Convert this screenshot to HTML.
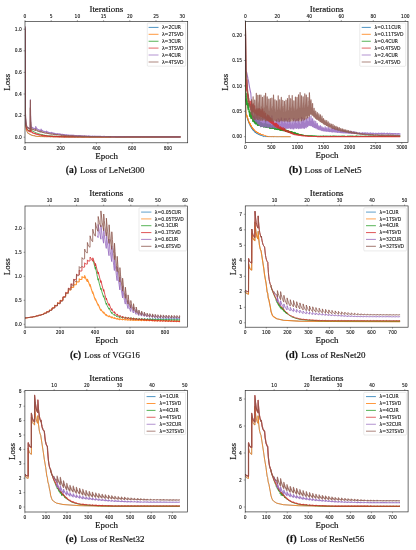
<!DOCTYPE html>
<html lang="en"><head><meta charset="utf-8"><title>Loss curves</title>
<style>html,body{margin:0;padding:0;background:#fff}body{width:416px;height:550px;overflow:hidden;position:relative}svg{display:block;position:absolute;left:0;top:0}.ov{position:absolute;left:0;top:0;width:4160px;height:5500px;transform:scale(.1);transform-origin:0 0;font-family:"DejaVu Sans","Liberation Sans",sans-serif;color:#1a1a1a}.ov span{position:absolute;white-space:nowrap;line-height:1;-webkit-text-stroke:1.3px #1a1a1a}.t{font-size:44.0px}.l{font-size:45.5px}.m{transform:translateX(-50%)}.r{transform:translateX(-100%)}</style></head>
<body>
<svg width="416" height="550" viewBox="0 0 416 550">
<rect width="416" height="550" fill="#fff"/>
<clipPath id="ca"><rect x="25.00" y="21.40" width="162.70" height="121.40"/></clipPath>
<g clip-path="url(#ca)" fill="none" stroke-linejoin="round" stroke-linecap="butt">
<polyline stroke="#1f77b4" stroke-width="0.48" stroke-opacity="1.00" points="25.0,29.5 25.2,91.6 25.4,112.3 25.6,122.6 26.0,127.2 26.3,129.6 26.7,130.9 26.8,130.9 27.0,131.5 27.1,131.5 27.2,132.1 27.3,132.2 27.4,132.5 27.5,132.3 27.7,132.7 27.8,132.7 27.9,133.0 27.9,132.9 28.0,133.2 28.1,133.2 28.2,133.3 28.3,133.2 28.4,133.2 28.5,133.5 28.6,133.5 28.7,133.6 28.8,133.6 29.0,134.0 29.2,133.8 29.4,134.2 29.5,134.0 29.6,134.2 29.9,134.5 30.0,134.6 30.1,134.5 30.2,134.6 30.3,134.5 30.4,134.9 30.6,134.7 30.7,134.9 30.9,135.0 31.1,135.0 31.2,135.1 31.3,134.9 31.3,135.1 31.6,135.1 31.7,135.2 31.9,135.2 32.1,135.5 32.1,135.3 32.2,135.3 32.4,135.5 32.7,135.5 32.8,135.5 32.9,135.5 33.4,135.8 33.5,135.7 33.6,135.6 33.8,135.8 33.9,135.9 34.0,135.8 34.1,135.8 34.2,136.0 34.3,135.9 34.4,135.9 34.5,135.8 34.6,135.9 34.6,135.8 34.7,136.0 35.0,135.9 35.2,136.1 35.3,136.0 35.5,136.1 35.6,136.0 35.8,136.2 35.9,136.1 36.1,136.2 36.2,136.1 36.4,136.1 36.6,136.3 36.9,136.2 37.1,136.4 37.1,136.3 37.3,136.4 37.4,136.3 37.5,136.4 37.6,136.3 37.8,136.4 38.2,136.4 38.3,136.5 38.4,136.4 38.5,136.5 38.7,136.4 38.8,136.3 38.9,136.5 39.0,136.4 39.2,136.4 39.3,136.5 39.5,136.4 39.6,136.6 39.7,136.4 39.8,136.5 39.9,136.5 40.0,136.6 40.4,136.5 40.4,136.5 40.5,136.6 40.7,136.5 40.9,136.6 41.0,136.5 41.1,136.6 41.3,136.5 41.5,136.7 41.7,136.6 41.8,136.6 41.9,136.5 42.1,136.7 42.1,136.6 42.3,136.8 42.4,136.5 42.5,136.8 42.6,136.6 42.7,136.6 42.9,136.8 42.9,136.6 43.0,136.7 43.3,136.6 43.5,136.6 43.8,136.8 43.9,136.7 44.2,136.7 44.6,136.7 44.7,136.6 44.8,136.7 45.0,136.8 45.2,136.7 45.3,136.8 45.4,136.7 45.6,136.8 45.7,136.7 45.8,136.7 46.1,136.7 46.2,136.8 46.4,136.8 46.5,136.9 46.6,136.7 46.7,136.8 46.8,136.7 46.9,136.8 47.0,136.7 47.1,136.8 47.1,136.8 47.2,136.9 47.3,136.8 47.8,136.7 48.0,136.8 48.2,136.7 48.3,136.7 48.4,136.9 48.6,136.7 48.8,136.8 48.8,136.8 48.9,136.8 49.0,136.8 49.1,136.8 49.2,136.7 49.4,136.9 49.6,136.8 49.8,136.9 49.9,136.8 50.1,136.9 50.4,136.8 50.7,136.9 50.8,136.8 51.0,136.8 51.1,136.8 51.2,136.9 51.4,136.7 51.5,136.8 51.6,136.8 51.7,136.9 51.8,136.8 52.0,136.9 52.1,136.8 52.3,136.9 52.4,136.8 52.5,136.9 52.8,136.9 52.9,136.8 53.0,136.9 53.1,136.9 53.2,136.7 53.3,136.9 53.6,136.8 53.8,136.9 53.9,136.8 54.1,137.0 54.2,136.8 54.7,137.0 54.8,136.9 54.9,137.0 55.0,136.9 55.1,137.0 55.4,136.8 55.5,136.9 55.5,137.0 56.1,136.8 56.2,136.9 56.3,136.8 56.5,137.0 56.6,136.9 56.7,136.9 56.8,137.0 56.9,136.9 57.1,136.9 57.2,136.9 57.3,136.9 57.6,136.9 57.8,136.9 58.0,137.0 58.0,136.9 58.1,137.0 58.3,136.8 58.6,137.0 58.7,136.9 58.8,136.9 58.9,136.9 59.2,137.0 59.3,137.1 59.5,136.9 59.9,136.9 60.2,137.0 60.3,136.9 60.4,136.9 60.5,136.9 60.7,136.9 60.8,136.9 60.9,137.0 61.0,136.9 61.1,136.9 61.2,137.0 61.3,136.9 61.3,137.0 61.7,136.9 61.9,137.0 62.1,136.9 62.2,137.0 62.3,136.9 62.4,137.1 62.5,137.0 62.6,137.0 62.7,136.9 63.0,137.0 63.1,136.9 63.4,137.0 63.5,136.9 63.8,137.0 63.9,136.9 64.3,137.0 64.5,136.9 64.6,137.0 64.6,136.9 64.7,137.0 65.0,136.9 65.1,137.1 65.2,137.0 65.5,137.0 65.7,136.9 65.8,137.1 66.0,136.9 66.3,137.0 66.5,136.9 66.7,137.0 67.0,136.9 67.3,137.0 67.5,136.9 67.6,137.0 67.7,136.9 67.8,137.0 67.9,136.9 68.3,137.0 68.8,137.0 68.9,136.9 69.1,137.0 69.3,136.9 69.5,137.0 69.7,136.9 69.7,137.0 69.8,137.0 70.0,137.0 70.1,137.0 70.2,137.0 70.4,136.9 70.6,137.0 70.8,137.0 70.9,136.9 71.2,137.0 71.4,137.0 71.5,136.9 71.6,137.0 71.9,136.9 72.1,137.0 72.3,137.0 72.6,137.0 72.7,137.0 72.8,137.0 72.9,136.9 73.0,137.0 73.4,136.9 73.6,137.0 73.7,137.0 74.1,137.0 74.2,137.0 74.5,137.0 74.7,137.0 74.7,137.0 75.0,136.9 75.3,137.0 75.4,136.9 75.5,137.0 75.9,137.0 76.2,136.9 76.3,137.0 76.5,136.9 76.9,137.0 77.0,136.9 77.3,137.0 77.5,136.9 78.1,137.0 78.4,136.9 78.8,137.0 79.2,136.9 79.3,137.0 79.4,136.9 79.7,137.0 79.7,137.0 79.8,137.0 79.9,137.0 80.5,137.0 80.6,137.0 80.8,137.0 81.1,137.0 81.2,136.9 81.9,137.0 82.1,137.0 82.3,137.0 83.1,137.0 83.2,137.0 83.4,136.9 83.7,137.0 83.8,136.9 83.8,137.1 84.1,136.9 84.4,137.0 84.5,137.0 84.7,137.0 85.0,137.0 85.3,137.0 85.6,137.0 85.8,137.0 85.9,137.0 86.2,137.1 86.3,137.0 86.4,137.0 86.5,137.0 86.8,137.0 86.9,137.0 87.2,137.0 87.2,137.0 87.7,137.0 87.8,137.0 87.9,137.0 88.3,137.0 88.5,137.0 88.7,136.9 89.0,137.0 89.2,137.0 89.3,137.0 89.7,137.0 89.7,137.0 89.9,137.0 90.3,137.1 90.4,137.0 91.1,137.0 91.2,137.0 91.3,137.0 91.4,137.1 91.7,136.9 91.9,137.0 92.0,136.9 92.2,137.0 92.4,137.0 93.2,137.0 93.4,137.0 93.7,137.0 94.1,137.0 94.2,137.0 94.7,137.0 94.8,137.0 95.1,137.0 95.6,137.0 96.6,137.0 96.7,137.0 98.0,137.0 98.3,137.0 98.4,137.0 98.5,137.0 98.8,137.0 99.0,137.0 99.7,137.0 99.7,137.0 99.9,137.0 100.3,137.0 100.5,137.0 100.6,137.0 100.8,137.0 100.9,137.0 101.1,137.0 101.4,137.0 101.8,137.0 102.5,137.0 102.6,137.0 103.0,137.0 103.3,137.0 103.5,137.0 104.0,137.0 104.3,137.0 105.0,137.0 105.2,137.0 105.3,137.0 105.4,137.0 106.1,137.0 106.3,137.0 106.8,137.0 107.2,137.0 107.7,137.0 109.3,137.0 109.7,137.0 109.8,137.0 111.9,137.0 113.0,137.0 113.3,137.0 113.7,137.0 115.5,137.0 115.7,137.0 115.8,137.0 115.9,137.0 116.2,137.0 117.3,137.0 118.2,137.0 120.2,137.0 120.3,137.0 120.6,137.0 121.1,137.0 121.2,137.0 123.2,137.0 123.5,137.0 123.6,137.0 126.0,137.0 126.3,137.0 128.1,137.0 128.1,137.0 129.5,137.0 129.6,137.0 130.6,137.0 130.7,137.0 132.0,137.0 180.5,137.0"/>
<polyline stroke="#ff7f0e" stroke-width="0.80" stroke-opacity="1.00" points="25.0,30.1 25.2,92.0 25.4,112.6 25.6,122.9 25.8,125.8 26.0,127.5 26.4,130.1 26.9,131.5 27.1,131.7 27.1,132.0 27.2,132.0 27.5,132.5 27.9,132.9 27.9,133.1 28.1,133.1 28.2,133.4 28.3,133.2 28.6,133.6 28.7,133.5 28.8,133.7 28.8,133.6 29.0,134.0 29.1,133.8 29.3,134.1 29.6,134.2 29.9,134.5 30.3,134.4 30.4,134.7 30.4,134.6 31.0,134.9 31.3,134.9 31.4,135.1 31.5,135.1 31.6,135.2 31.7,135.1 31.8,135.2 31.9,135.2 32.0,135.3 32.2,135.2 32.3,135.4 32.4,135.3 32.5,135.6 32.9,135.5 33.0,135.7 33.1,135.5 33.2,135.7 33.3,135.5 33.4,135.6 33.6,135.7 33.8,135.8 33.9,135.7 34.2,135.8 34.3,135.8 34.4,135.9 34.5,135.6 34.6,135.9 34.8,135.8 35.0,136.1 35.3,136.1 35.4,136.0 35.5,136.0 35.6,136.1 35.9,136.0 36.1,136.2 36.3,136.1 36.3,136.2 36.4,136.0 36.5,136.1 36.7,136.3 37.0,136.2 37.1,136.4 37.1,136.1 37.2,136.1 37.4,136.4 37.7,136.2 37.9,136.5 38.0,136.3 38.1,136.3 38.2,136.4 38.4,136.4 38.6,136.5 38.7,136.4 38.8,136.5 38.8,136.3 38.9,136.5 39.0,136.4 39.1,136.5 39.2,136.4 39.3,136.5 39.4,136.4 39.6,136.6 39.6,136.5 40.0,136.6 40.1,136.5 40.3,136.5 40.4,136.4 40.4,136.5 40.6,136.5 40.8,136.6 41.0,136.5 41.1,136.8 41.2,136.6 41.3,136.6 41.4,136.5 41.5,136.6 41.6,136.6 41.7,136.6 41.9,136.6 42.0,136.7 42.1,136.6 42.1,136.7 42.3,136.6 42.6,136.7 42.7,136.5 42.8,136.7 42.9,136.7 42.9,136.6 43.0,136.7 43.2,136.6 43.4,136.7 43.5,136.6 43.6,136.7 43.8,136.7 43.9,136.7 44.1,136.8 44.2,136.7 44.4,136.8 44.6,136.7 44.6,136.7 44.8,136.6 44.9,136.7 45.1,136.8 45.4,136.7 45.4,136.8 45.5,136.7 45.7,136.6 45.8,136.8 46.0,136.9 46.1,136.8 46.4,136.9 46.5,136.8 46.7,136.7 46.8,136.8 46.9,136.7 47.0,136.7 47.1,136.9 47.1,136.8 47.2,136.9 47.5,136.8 47.7,136.7 47.9,136.8 48.1,136.8 48.2,136.9 48.3,136.8 48.4,136.8 48.7,136.7 48.9,136.9 49.0,136.9 49.2,136.9 49.3,136.9 49.4,136.9 49.6,136.7 49.6,136.9 49.7,136.8 49.8,136.9 49.9,136.8 50.2,137.0 50.3,136.8 50.4,136.9 50.6,136.8 50.9,136.9 51.0,136.8 51.2,136.9 51.3,136.8 51.3,136.9 51.4,136.8 51.5,137.0 51.8,136.9 51.9,136.8 52.0,137.0 52.1,136.9 52.1,136.9 52.2,136.9 52.4,136.9 52.5,136.8 52.6,136.9 52.7,136.8 52.8,137.0 53.0,136.9 53.2,136.9 53.3,137.1 53.4,136.9 53.6,136.9 53.8,136.8 53.8,136.9 54.4,136.9 54.6,136.8 54.6,136.9 54.7,136.8 54.8,137.0 54.9,136.9 55.1,136.9 55.2,137.0 55.4,137.0 55.5,136.8 55.7,137.0 55.8,136.9 56.2,137.0 56.5,136.9 56.6,137.0 56.7,136.9 56.8,136.9 57.0,136.9 57.1,136.9 57.5,136.9 57.7,137.0 57.8,136.8 57.9,136.9 58.0,136.9 58.1,137.0 58.3,136.9 58.7,136.9 59.1,137.0 59.2,136.9 59.3,137.0 59.5,136.9 59.6,137.1 59.6,136.9 60.0,137.0 60.3,136.9 60.5,137.0 60.5,136.9 61.1,137.0 61.2,136.8 61.3,137.0 61.3,137.0 61.5,136.9 61.7,137.1 61.8,136.9 62.2,137.0 62.3,136.9 62.4,137.0 62.7,136.9 62.9,137.1 63.0,136.9 63.0,137.0 63.3,136.9 63.5,137.1 63.7,137.0 63.8,137.0 63.9,136.9 64.0,137.0 64.1,136.9 64.3,137.0 64.6,137.0 64.7,137.0 65.1,137.0 65.2,136.9 65.4,137.0 65.5,136.9 65.8,137.0 66.1,137.0 66.2,137.1 66.3,137.0 66.4,137.1 67.0,136.9 67.1,137.0 67.2,136.9 67.5,137.0 67.6,137.0 67.7,137.1 67.8,137.0 67.9,137.1 68.0,137.0 68.1,137.0 68.2,136.9 68.5,137.0 68.8,136.9 69.0,137.0 69.2,136.9 69.6,136.9 69.7,137.1 69.7,136.9 70.0,137.0 70.2,137.0 70.3,137.1 70.4,137.0 70.5,136.9 70.7,137.0 71.1,137.0 71.3,137.0 71.6,137.0 71.7,137.1 71.9,137.0 72.2,137.0 72.4,136.9 72.6,137.1 72.8,137.0 73.0,137.1 73.1,136.9 73.2,137.0 73.3,137.0 73.5,137.1 73.8,137.0 73.8,137.0 74.1,137.1 74.3,137.0 74.5,137.0 74.6,137.0 74.9,137.0 75.1,137.0 75.2,137.0 75.4,137.0 75.5,137.1 76.0,137.0 76.3,137.0 76.4,137.0 76.6,137.0 76.7,136.9 77.0,137.1 77.2,137.0 77.2,137.0 77.6,137.0 77.7,137.1 78.0,137.1 78.1,137.0 78.4,137.0 78.5,137.0 78.8,137.0 79.0,137.1 79.1,137.0 79.4,137.1 79.7,137.0 79.9,137.0 80.0,137.1 80.2,137.0 80.3,137.0 80.6,137.0 80.7,137.1 80.8,137.0 80.9,137.1 81.4,137.0 81.5,137.0 81.7,137.0 82.1,137.1 83.0,137.0 83.3,137.1 83.4,137.0 83.6,137.1 83.8,137.0 83.8,137.1 84.0,137.0 84.3,137.1 84.4,137.0 84.7,137.1 84.8,137.0 85.5,137.1 85.7,137.0 86.0,137.0 86.3,137.0 86.4,137.1 86.8,137.0 86.9,137.1 87.0,137.0 87.3,137.0 87.4,137.0 87.9,137.0 88.7,137.0 88.9,137.1 89.0,137.0 89.1,137.1 89.4,137.0 89.6,137.1 89.7,137.0 89.9,137.1 90.1,137.0 90.2,137.1 90.5,137.0 90.5,137.1 90.9,137.0 91.0,137.1 91.3,137.0 91.8,137.0 92.0,137.0 92.1,137.1 92.4,137.0 93.2,137.1 94.2,137.0 94.4,137.0 94.5,137.0 95.1,137.1 95.2,137.0 95.3,137.1 96.0,137.0 96.2,137.0 97.3,137.0 97.8,137.1 98.0,137.0 98.1,137.1 98.2,137.0 98.4,137.1 98.5,137.0 99.9,137.1 100.0,137.0 100.2,137.1 100.7,137.0 101.1,137.1 101.2,137.0 101.5,137.1 102.0,137.1 102.1,137.0 102.2,137.1 103.2,137.0 103.3,137.1 104.0,137.1 105.1,137.0 106.1,137.1 106.4,137.0 106.7,137.1 107.8,137.0 108.0,137.1 108.1,137.0 108.3,137.0 109.1,137.0 110.0,137.1 110.3,137.0 110.4,137.1 111.4,137.0 111.5,137.0 111.6,137.1 113.3,137.0 113.4,137.1 113.6,137.0 113.7,137.0 114.6,137.0 115.0,137.1 115.3,137.0 116.0,137.1 117.9,137.0 118.0,137.1 118.1,137.0 120.6,137.1 121.3,137.0 121.4,137.1 121.9,137.0 125.7,137.1 125.8,137.0 126.1,137.1 126.6,137.0 127.0,137.1 127.2,137.0 129.3,137.1 129.6,137.0 129.7,137.1 134.6,137.0 141.4,137.1 145.6,137.0 146.9,137.1 180.5,137.0"/>
<polyline stroke="#2ca02c" stroke-width="0.80" stroke-opacity="1.00" points="25.0,28.2 25.2,90.0 25.4,110.5 25.5,118.4 25.8,123.1 26.0,124.9 26.3,126.8 26.6,127.7 26.7,128.1 27.0,128.7 27.1,128.9 27.2,129.0 27.4,129.5 27.5,129.4 27.6,129.4 27.8,129.7 27.9,129.7 27.9,129.9 28.0,129.8 28.2,130.1 28.3,130.0 28.5,130.3 28.6,130.2 28.8,130.6 28.8,130.3 28.9,130.6 29.1,130.6 29.2,130.5 29.3,130.7 29.4,130.7 29.5,130.8 29.6,130.8 29.6,131.0 29.7,131.0 29.9,131.1 30.1,131.1 30.3,131.3 30.4,107.9 30.5,119.6 30.7,125.2 31.0,128.6 31.3,129.9 31.3,129.8 31.6,130.4 31.8,130.5 31.9,130.5 32.1,130.6 32.2,130.9 32.5,130.9 32.6,131.1 32.7,131.1 32.9,131.2 33.0,131.1 33.1,131.3 33.2,131.2 33.4,131.5 33.5,131.5 33.7,131.6 33.8,131.8 33.8,131.7 33.9,131.8 34.0,131.7 34.3,132.0 34.4,132.0 34.6,132.1 34.6,132.0 34.7,132.2 34.9,132.2 35.0,132.3 35.3,132.4 35.8,132.7 36.0,132.6 36.1,132.8 36.3,132.9 36.4,132.8 36.5,133.0 36.6,133.0 36.7,133.2 36.8,133.1 36.9,133.1 37.1,133.3 37.1,133.2 37.2,133.2 37.3,133.1 37.4,133.3 37.7,133.4 37.8,133.5 37.9,133.4 38.0,133.5 38.6,133.7 39.0,133.9 39.3,133.9 39.4,133.9 39.5,134.2 39.7,133.9 39.9,134.1 40.1,134.2 40.2,134.1 40.4,134.3 40.4,134.2 40.5,134.2 40.6,134.4 40.8,134.3 40.9,134.3 41.0,134.5 41.2,134.4 41.3,134.5 41.5,134.5 41.7,134.6 41.8,134.4 42.0,134.7 42.1,134.7 42.1,134.8 42.4,134.6 42.5,134.7 42.7,134.7 42.9,134.9 42.9,134.8 43.0,134.8 43.1,134.8 43.3,135.0 43.7,135.0 43.8,135.1 43.9,134.9 44.2,135.1 44.6,135.2 44.6,135.1 44.8,135.2 44.9,135.3 45.1,135.1 45.3,135.3 45.4,135.1 45.5,135.3 45.6,135.3 45.7,135.4 45.9,135.3 46.1,135.5 46.2,135.4 46.3,135.4 46.3,135.5 46.5,135.4 46.9,135.5 47.1,135.5 47.2,135.7 47.5,135.6 47.6,135.6 47.7,135.6 47.9,135.7 48.0,135.6 48.2,135.8 48.3,135.7 48.8,135.7 48.9,135.7 49.2,135.9 49.3,135.8 49.4,135.8 49.5,135.7 49.6,135.9 49.7,135.8 49.8,135.9 50.0,135.8 50.1,135.9 50.2,135.9 50.3,136.0 50.5,135.8 50.5,135.9 50.6,135.9 50.7,136.0 50.8,135.9 50.9,136.0 51.3,136.1 51.5,136.0 52.0,136.1 52.2,136.0 52.5,136.1 52.6,136.1 52.7,136.1 53.0,136.2 53.1,136.1 53.3,136.2 53.8,136.2 54.0,136.3 54.1,136.2 54.2,136.2 54.3,136.3 54.4,136.3 54.6,136.3 54.6,136.2 55.0,136.4 55.2,136.3 55.4,136.4 55.6,136.3 56.0,136.3 56.1,136.3 56.2,136.4 56.3,136.3 56.3,136.4 56.4,136.3 56.9,136.4 57.1,136.3 57.1,136.5 57.2,136.3 57.3,136.4 57.4,136.4 57.5,136.5 57.7,136.4 57.8,136.4 57.9,136.3 58.0,136.4 58.3,136.5 58.5,136.4 58.7,136.5 58.8,136.5 58.9,136.5 59.1,136.5 59.3,136.4 59.5,136.5 59.6,136.5 59.7,136.5 59.9,136.4 60.0,136.6 60.1,136.5 60.2,136.5 60.8,136.5 60.9,136.6 61.1,136.5 61.3,136.6 61.4,136.5 61.6,136.5 61.7,136.6 62.0,136.6 62.1,136.7 62.3,136.6 62.4,136.5 62.5,136.6 62.7,136.6 62.8,136.6 62.9,136.6 63.0,136.6 63.6,136.6 64.3,136.7 64.4,136.6 64.6,136.7 64.7,136.6 64.9,136.7 65.0,136.6 65.1,136.7 65.4,136.6 65.5,136.7 65.7,136.6 65.8,136.7 65.9,136.6 66.2,136.7 66.3,136.6 66.5,136.7 66.6,136.6 66.9,136.7 67.1,136.6 67.1,136.8 67.4,136.7 67.8,136.7 68.0,136.6 68.0,136.7 68.1,136.7 68.2,136.7 68.3,136.7 68.4,136.7 68.9,136.8 69.0,136.7 69.4,136.8 69.5,136.7 70.2,136.7 70.4,136.7 70.5,136.8 71.0,136.7 71.3,136.8 71.3,136.7 71.5,136.8 71.8,136.8 71.9,136.7 72.0,136.8 72.1,136.7 72.2,136.8 72.4,136.7 72.7,136.9 72.8,136.8 72.9,136.8 73.0,136.7 73.1,136.8 73.6,136.7 73.9,136.8 74.3,136.8 74.5,136.8 74.7,136.8 74.8,136.9 75.1,136.8 75.3,136.8 75.4,136.8 75.5,136.8 76.1,136.8 76.3,136.8 76.3,136.9 76.5,136.8 76.7,136.9 76.9,136.8 77.2,136.9 77.7,136.8 77.9,136.9 78.0,136.8 78.1,136.9 78.2,136.8 78.6,136.9 78.8,136.8 78.9,136.9 79.0,136.8 79.1,136.9 79.5,136.8 79.7,136.9 79.7,136.8 80.2,136.8 80.4,136.8 80.6,136.9 80.7,136.8 80.8,136.9 80.9,136.8 81.3,136.9 81.4,136.8 81.5,136.9 82.0,136.8 82.3,136.9 82.4,136.8 82.5,136.9 82.9,136.8 83.3,136.9 83.4,136.8 83.7,136.9 83.8,136.8 84.3,136.9 84.7,136.8 84.9,136.9 85.0,136.8 85.1,136.9 85.5,136.8 85.7,136.9 85.8,136.8 86.2,136.9 86.3,136.8 86.8,136.9 86.9,136.8 87.1,136.9 87.2,136.8 87.2,136.9 87.7,136.8 87.9,136.9 88.1,136.8 88.5,136.9 89.0,136.8 89.3,136.9 89.4,136.8 89.5,136.9 89.7,136.8 89.7,136.9 89.9,136.8 90.0,136.9 90.3,136.8 90.5,136.9 90.7,136.9 90.8,136.9 91.0,136.8 91.8,136.9 92.4,136.8 92.5,136.9 92.7,136.8 93.1,136.9 93.5,136.8 93.8,136.9 94.7,136.8 95.0,136.9 95.4,136.8 95.7,136.9 96.2,136.8 96.4,136.9 96.6,136.8 97.2,136.9 97.2,136.8 97.3,136.9 97.6,136.8 98.1,136.9 98.9,136.8 99.0,136.9 99.7,136.8 99.9,136.9 100.1,136.8 100.2,136.9 100.7,136.8 101.2,136.9 101.7,136.8 102.9,136.9 103.0,136.9 103.4,136.9 103.5,136.8 103.6,136.9 104.5,136.8 105.7,136.9 106.2,136.9 106.8,136.8 106.9,136.9 107.7,136.9 108.0,136.9 108.2,136.8 108.3,136.9 108.9,136.9 109.2,136.9 109.3,136.8 110.2,136.9 110.5,136.8 110.9,136.9 111.0,136.8 111.8,136.9 112.5,136.8 112.8,136.9 114.6,136.9 114.7,136.9 115.2,136.9 115.3,136.9 115.6,136.9 116.6,136.9 116.9,136.8 117.2,136.9 117.2,136.9 119.2,136.9 122.2,136.9 122.7,136.9 123.1,136.9 126.2,136.9 128.9,136.8 129.0,136.9 130.6,136.9 130.6,136.9 131.4,136.9 131.5,136.9 131.6,136.9 137.6,136.9 139.1,136.9 139.5,136.9 139.7,136.9 141.1,136.9 141.2,136.8 142.3,136.9 142.5,136.9 142.7,136.9 143.2,136.9 180.5,136.9"/>
<polyline stroke="#d62728" stroke-width="1.15" stroke-opacity="0.85" points="25.0,28.8 25.2,90.6 25.4,111.2 25.5,118.9 25.6,121.2 25.9,124.7 26.1,126.2 26.3,127.6 26.6,128.6 27.0,129.3 27.1,129.3 27.1,129.5 27.6,130.1 27.7,130.3 28.3,130.6 28.5,131.0 28.6,130.8 28.7,130.8 28.9,131.2 29.0,131.1 29.2,131.4 29.3,131.3 29.4,131.3 29.6,131.5 29.7,131.4 29.9,131.7 30.2,131.7 30.3,131.9 30.4,107.8 30.5,120.6 30.7,126.6 31.0,130.2 31.1,130.8 31.4,131.9 31.7,132.2 31.9,132.1 32.0,132.3 32.3,132.5 32.4,132.6 32.6,132.6 32.8,132.9 32.9,132.7 33.1,133.0 33.2,133.2 33.3,133.1 33.5,133.0 33.7,133.2 34.1,133.3 34.2,133.5 34.3,133.4 34.5,133.5 34.6,133.5 34.8,133.7 34.9,133.6 35.1,133.6 35.3,133.7 35.4,133.9 35.5,133.9 35.6,133.7 35.7,134.0 35.8,134.0 35.9,134.0 36.0,133.9 36.1,134.1 36.2,134.0 36.3,134.1 36.3,134.0 36.4,134.2 36.6,134.2 36.8,134.3 36.9,134.2 37.0,134.4 37.2,134.3 37.4,134.5 37.5,134.5 37.8,134.4 37.9,134.5 38.0,134.6 38.1,134.6 38.3,134.6 38.5,134.7 38.7,134.6 38.8,134.8 39.1,134.7 39.2,134.9 39.3,134.8 39.5,135.1 39.6,134.9 39.7,135.1 39.8,135.0 40.2,135.0 40.4,135.1 40.5,135.1 40.6,135.2 40.7,135.1 41.1,135.3 41.2,135.2 41.3,135.3 41.3,135.2 41.4,135.5 41.7,135.3 41.9,135.4 42.0,135.4 42.1,135.4 42.3,135.4 42.4,135.6 42.6,135.5 42.8,135.6 42.9,135.5 43.1,135.5 43.2,135.6 43.3,135.5 43.4,135.6 43.6,135.6 43.7,135.8 43.8,135.8 43.9,135.6 44.3,135.8 44.4,135.7 44.7,135.8 44.8,135.7 44.9,135.8 45.0,135.7 45.2,135.9 45.4,135.7 45.4,136.0 45.8,135.9 45.9,135.8 46.0,135.9 46.1,135.9 46.3,136.0 46.6,135.9 46.7,136.0 46.8,136.0 46.9,136.1 47.0,135.9 47.1,136.1 47.2,136.0 47.4,136.1 47.5,136.0 47.6,136.1 47.7,136.0 47.8,136.2 47.9,136.1 48.1,136.1 48.2,136.2 48.4,136.1 48.5,136.2 48.8,136.2 48.9,136.3 49.0,136.2 49.2,136.2 49.6,136.3 49.7,136.3 49.8,136.2 50.1,136.3 50.3,136.3 50.4,136.3 50.5,136.3 50.6,136.4 50.8,136.4 50.9,136.3 51.3,136.4 51.5,136.3 51.7,136.4 51.9,136.3 52.0,136.4 52.1,136.4 52.1,136.4 52.6,136.4 52.7,136.5 52.9,136.5 53.0,136.4 53.2,136.6 53.3,136.4 53.5,136.5 53.8,136.5 54.1,136.6 54.3,136.4 54.6,136.6 54.6,136.5 54.7,136.5 54.9,136.4 55.2,136.6 55.3,136.5 55.4,136.6 55.5,136.5 55.5,136.6 55.6,136.5 55.7,136.6 55.8,136.5 55.9,136.6 56.0,136.5 56.1,136.6 56.2,136.5 56.3,136.7 56.5,136.6 56.6,136.6 56.7,136.5 56.8,136.6 57.1,136.5 57.3,136.7 57.4,136.5 57.6,136.7 58.0,136.6 58.2,136.7 58.5,136.6 58.6,136.7 58.8,136.6 59.0,136.8 59.2,136.6 59.4,136.7 59.5,136.6 59.6,136.7 59.6,136.6 59.9,136.8 60.1,136.6 60.2,136.7 60.5,136.7 60.9,136.7 61.2,136.7 61.4,136.8 61.6,136.6 61.8,136.8 61.9,136.7 62.0,136.7 62.1,136.7 62.4,136.7 62.5,136.7 62.6,136.7 62.7,136.7 62.8,136.8 63.0,136.8 63.0,136.7 63.1,136.8 63.3,136.7 63.6,136.8 64.0,136.7 64.1,136.8 64.2,136.8 64.5,136.8 64.6,136.7 64.8,136.9 65.0,136.7 65.1,136.8 65.2,136.7 65.3,136.8 65.4,136.7 65.5,136.8 65.7,136.7 65.9,136.8 66.0,136.8 66.2,136.8 66.3,136.8 66.3,136.8 66.5,136.8 66.7,136.7 67.1,136.8 67.1,136.7 67.3,136.8 67.7,136.8 67.8,136.9 67.9,136.8 68.0,136.8 68.1,136.8 68.2,136.8 68.4,136.8 68.5,136.7 68.7,136.8 68.8,136.8 69.2,136.8 69.6,136.8 69.7,136.7 69.7,136.8 69.8,136.8 70.0,136.9 70.3,136.8 70.8,136.9 70.9,136.8 71.1,136.8 71.3,136.9 71.4,136.8 71.7,136.8 71.8,136.8 71.9,136.8 72.0,136.9 72.1,136.8 72.2,136.9 72.2,136.8 72.3,136.9 72.5,136.8 72.6,136.8 72.8,136.8 72.9,136.9 73.0,136.8 73.2,136.8 73.3,136.7 73.6,136.9 73.8,136.8 73.9,136.8 74.0,136.9 74.1,136.8 74.2,136.9 74.3,136.8 74.6,136.9 74.7,136.8 74.8,136.7 75.1,136.9 75.3,136.8 75.4,136.9 75.5,136.8 75.7,136.9 75.9,136.8 76.0,136.8 76.2,136.8 76.3,136.9 76.7,136.8 76.8,136.9 76.9,136.8 77.1,136.9 77.2,136.8 77.4,136.9 77.6,136.8 78.0,136.9 78.1,136.8 78.2,136.9 78.3,136.8 78.5,136.8 78.6,136.9 78.7,136.8 79.0,136.9 79.1,136.8 79.5,136.8 79.6,136.9 79.8,136.8 80.1,136.9 80.4,136.8 80.5,136.9 80.5,136.8 81.0,136.9 81.1,136.8 81.2,137.0 81.3,136.8 81.7,136.9 82.5,136.8 82.8,136.9 83.0,136.9 83.1,136.9 83.2,136.8 83.5,136.9 83.6,136.8 83.9,136.9 84.8,136.9 85.1,136.9 85.3,136.9 85.5,136.9 85.6,136.8 85.7,136.9 85.9,136.9 86.0,136.8 86.1,136.9 86.3,136.8 86.5,136.9 86.7,136.8 87.2,136.9 87.4,136.8 87.6,136.9 88.0,136.8 88.0,136.9 88.1,136.8 88.4,136.9 88.6,136.8 88.9,136.9 89.6,136.8 90.4,136.9 90.5,136.8 91.2,136.9 92.1,136.8 92.2,136.9 92.8,136.9 93.2,136.9 93.3,136.9 93.9,136.8 93.9,136.9 94.0,136.8 94.2,136.9 95.4,136.8 95.5,136.9 95.5,136.8 95.8,136.9 95.9,136.8 96.3,136.9 96.4,136.8 96.6,136.9 96.7,136.8 96.8,136.9 97.2,136.9 97.2,136.9 97.6,136.9 97.7,136.8 98.0,136.9 98.2,136.9 99.3,136.9 99.4,136.8 99.6,136.9 100.2,136.9 100.3,136.8 100.5,136.9 102.1,136.9 102.2,136.9 102.4,136.9 102.6,136.9 102.8,136.9 102.9,136.9 103.6,136.8 104.0,136.9 104.9,136.8 105.0,136.9 105.6,136.8 106.8,136.9 107.3,136.9 108.3,136.9 109.3,136.8 109.4,136.9 109.7,136.9 110.1,136.8 110.2,136.9 110.5,136.8 110.6,136.9 110.8,136.9 111.1,136.9 111.5,136.9 112.7,136.9 114.3,136.9 114.4,136.9 114.8,136.8 115.1,136.9 117.0,136.8 117.9,136.9 118.0,136.8 118.1,136.9 118.7,136.9 119.7,136.9 120.3,136.8 120.4,136.9 121.2,136.9 121.4,136.9 122.8,136.9 126.0,136.8 128.2,136.9 128.3,136.9 128.5,136.9 129.1,136.9 132.3,136.9 132.4,136.9 133.0,136.8 133.2,136.9 139.6,136.9 142.3,136.9 143.4,136.9 145.6,136.9 146.4,136.9 148.1,136.9 153.0,136.9 180.5,136.9"/>
<polyline stroke="#9467bd" stroke-width="1.15" stroke-opacity="0.85" points="25.0,26.6 25.2,88.3 25.4,108.8 25.5,116.4 25.7,120.2 25.9,122.4 26.2,124.4 26.3,124.6 26.4,125.4 26.7,126.3 27.0,126.7 27.1,126.7 27.2,127.1 27.5,127.2 27.7,127.6 27.8,127.6 27.9,127.6 27.9,127.8 28.1,127.7 28.2,128.0 28.3,128.1 28.6,128.0 28.7,128.3 28.8,128.2 28.9,128.4 29.2,128.3 29.3,128.5 29.4,128.5 29.5,128.7 29.6,128.6 29.6,128.7 29.7,128.6 29.8,128.9 30.0,129.0 30.1,128.8 30.3,129.1 30.4,99.8 30.5,114.3 30.7,121.2 31.0,125.3 31.3,126.9 31.5,127.1 31.6,127.1 31.8,127.4 32.1,127.6 32.2,127.4 32.4,127.8 32.5,127.6 32.6,127.8 33.0,127.9 33.3,128.1 33.6,128.2 33.7,128.3 33.8,128.3 33.8,128.2 34.0,128.2 34.2,128.3 34.3,128.3 34.5,128.5 34.7,128.6 35.1,128.8 35.2,128.6 35.4,129.0 35.4,128.8 35.5,129.0 35.6,129.0 35.7,126.6 36.1,127.4 36.2,127.4 36.4,128.1 36.8,128.5 36.9,128.7 37.0,128.7 37.2,129.0 37.7,129.4 37.8,129.3 38.1,129.6 38.2,129.6 38.3,129.8 38.4,129.7 38.6,129.8 38.7,129.8 38.8,129.9 38.9,129.9 39.1,130.0 39.2,130.0 39.5,130.2 39.6,130.2 39.6,130.3 39.7,130.2 39.9,130.4 40.0,130.3 40.1,130.3 40.2,130.5 40.4,130.3 40.4,130.5 40.5,130.5 40.6,130.4 40.7,130.6 40.9,130.7 41.0,130.7 41.1,129.1 41.3,129.6 41.3,129.5 41.6,130.0 41.7,130.0 41.9,130.3 42.1,130.5 42.3,130.5 42.6,130.7 42.8,130.9 42.9,131.0 42.9,130.9 43.5,131.3 43.6,131.3 43.8,131.4 43.8,131.3 43.9,131.4 44.0,131.4 44.5,131.6 44.6,131.5 44.8,131.7 45.0,131.7 45.1,131.6 45.2,131.8 45.6,131.8 45.7,131.9 45.8,131.9 46.1,132.0 46.3,132.0 46.4,131.0 46.6,131.3 47.0,131.5 47.1,131.7 47.1,131.7 47.3,131.9 47.5,131.9 47.7,132.1 47.8,132.0 47.9,132.1 48.0,132.2 48.1,132.3 48.2,132.2 48.4,132.4 48.5,132.3 48.9,132.6 49.2,132.6 49.3,132.6 49.4,132.7 49.5,132.7 49.6,132.8 49.7,132.6 50.2,132.8 50.3,133.0 50.5,132.9 50.5,133.0 50.6,132.8 51.0,133.0 51.1,133.0 51.2,132.9 51.3,133.1 51.4,133.0 51.5,133.1 51.7,133.1 51.8,132.3 52.1,132.7 52.2,132.7 52.3,132.8 52.5,133.0 52.9,133.0 53.0,133.2 53.1,133.1 53.3,133.3 53.4,133.2 53.8,133.4 53.9,133.4 54.1,133.5 54.2,133.4 54.3,133.5 54.4,133.4 54.6,133.6 54.6,133.5 54.7,133.5 54.8,133.7 55.0,133.6 55.1,133.7 55.4,133.6 55.6,133.8 55.8,133.8 56.1,133.8 56.2,133.8 56.3,133.9 56.7,133.8 56.8,134.0 57.0,133.9 57.1,134.0 57.1,133.5 57.5,133.7 57.7,133.7 58.0,133.9 58.1,133.9 58.2,134.0 58.4,133.8 58.7,134.1 58.8,134.1 58.9,134.1 59.1,134.2 59.2,134.1 59.6,134.3 59.7,134.2 59.8,134.3 59.9,134.2 60.0,134.3 60.1,134.2 60.2,134.4 60.5,134.3 60.5,134.4 60.6,134.3 60.8,134.4 61.0,134.3 61.3,134.6 61.4,134.4 61.7,134.5 61.8,134.5 62.0,134.6 62.1,134.5 62.3,134.7 62.4,134.6 62.5,134.3 62.6,134.4 62.8,134.3 63.0,134.5 63.3,134.5 63.4,134.6 63.6,134.5 63.7,134.6 63.8,134.6 64.0,134.7 64.1,134.6 64.3,134.8 64.4,134.7 64.7,134.8 64.9,134.8 65.1,134.8 65.2,134.8 65.5,134.9 65.6,134.8 65.7,134.9 65.8,134.8 66.0,135.0 66.2,134.9 66.3,135.0 66.4,134.9 66.5,135.0 66.7,134.9 66.9,135.1 67.0,135.0 67.2,135.0 67.5,135.1 67.7,135.0 67.8,135.1 67.9,134.9 68.0,135.0 68.4,135.0 68.5,135.1 68.7,135.0 68.8,135.2 68.8,135.1 69.0,135.1 69.7,135.2 69.9,135.2 70.0,135.3 70.4,135.2 70.5,135.3 70.9,135.3 71.0,135.4 71.1,135.3 71.4,135.4 71.6,135.3 71.8,135.4 71.9,135.3 72.1,135.4 72.2,135.5 72.3,135.3 72.4,135.4 72.7,135.4 72.9,135.5 73.0,135.4 73.0,135.5 73.2,135.3 73.3,135.4 73.6,135.3 73.9,135.5 74.0,135.4 74.2,135.4 74.3,135.6 74.4,135.5 74.7,135.6 74.7,135.5 74.8,135.6 74.9,135.5 75.0,135.6 75.4,135.6 75.5,135.7 75.6,135.6 76.0,135.6 76.1,135.7 76.3,135.6 76.9,135.7 77.3,135.6 77.6,135.7 77.8,135.7 78.5,135.7 78.6,135.6 78.8,135.7 78.9,135.6 79.2,135.8 79.6,135.7 79.7,135.8 80.2,135.8 80.3,135.9 80.4,135.8 80.8,135.8 80.9,135.9 81.0,135.8 81.3,135.8 81.3,135.9 81.8,135.9 81.9,135.9 82.0,135.9 82.2,135.9 82.3,136.0 82.6,135.9 82.7,136.0 83.6,136.0 83.9,135.9 84.0,136.0 84.1,135.9 84.5,136.0 84.6,135.9 84.7,136.0 84.9,135.9 85.0,136.0 85.1,136.0 85.4,136.1 85.5,136.0 85.5,136.1 85.7,136.0 85.8,136.1 86.0,136.0 86.3,136.1 86.3,136.0 86.7,136.1 86.8,136.1 87.0,136.1 87.1,136.1 87.9,136.1 88.1,136.1 88.3,136.2 88.5,136.1 88.7,136.2 88.8,136.1 88.9,136.2 89.0,136.1 89.2,136.2 89.7,136.1 89.7,136.2 90.2,136.1 90.3,136.2 90.4,136.2 90.9,136.2 91.1,136.2 91.5,136.2 91.8,136.2 92.0,136.3 92.2,136.2 92.4,136.3 92.5,136.2 92.6,136.3 93.6,136.3 93.7,136.3 94.1,136.3 94.6,136.3 94.7,136.2 95.0,136.4 95.1,136.3 95.2,136.3 95.5,136.3 95.6,136.3 95.7,136.3 96.0,136.4 96.2,136.3 96.3,136.3 96.7,136.4 97.2,136.3 97.6,136.4 98.0,136.3 98.6,136.4 98.7,136.3 99.3,136.4 100.4,136.4 100.5,136.4 100.9,136.4 101.2,136.5 102.7,136.5 102.9,136.4 103.0,136.5 103.4,136.5 103.9,136.4 103.9,136.5 104.0,136.5 104.6,136.4 104.7,136.5 104.8,136.5 106.2,136.5 106.3,136.5 106.5,136.5 109.2,136.5 109.3,136.6 109.4,136.5 109.6,136.5 109.9,136.5 110.0,136.6 110.5,136.5 111.8,136.6 112.4,136.6 112.5,136.5 114.0,136.6 114.1,136.6 114.5,136.6 114.7,136.6 115.6,136.6 115.8,136.6 116.5,136.6 116.6,136.7 116.7,136.6 116.8,136.6 117.9,136.6 118.7,136.7 122.6,136.6 123.5,136.7 123.7,136.6 124.7,136.7 126.0,136.6 126.7,136.7 126.9,136.7 127.6,136.7 129.7,136.7 130.8,136.7 132.2,136.7 132.8,136.7 134.7,136.7 146.1,136.8 180.5,136.8"/>
<polyline stroke="#8c564b" stroke-width="1.15" stroke-opacity="0.85" points="25.0,26.6 25.2,88.5 25.4,108.7 25.5,116.8 25.8,121.6 26.3,124.9 26.9,126.7 27.1,126.7 27.1,127.1 27.3,127.2 27.4,127.4 27.7,127.5 27.8,127.7 27.9,127.7 27.9,127.6 28.2,128.1 28.4,128.0 28.7,128.3 29.0,128.4 29.1,128.5 29.3,128.7 29.5,128.7 29.7,128.8 29.9,129.0 30.0,128.9 30.2,129.1 30.3,128.8 30.4,100.3 30.5,115.3 30.7,122.4 31.0,126.6 31.3,128.2 31.5,128.6 31.9,129.0 32.3,129.0 32.4,129.3 32.5,129.2 32.6,129.3 32.7,129.2 32.9,129.4 32.9,129.3 33.0,129.4 33.2,129.4 33.4,129.6 33.5,129.5 33.8,129.7 34.0,129.9 34.1,129.9 34.2,130.0 34.3,129.9 34.4,130.0 34.5,130.0 34.6,130.1 34.6,130.0 34.7,130.1 34.8,130.0 35.0,130.0 35.2,130.3 35.3,130.2 35.4,130.1 35.4,130.3 35.5,130.2 35.6,130.4 35.7,129.1 36.1,129.7 36.2,129.7 36.5,130.0 36.6,130.0 36.8,130.3 37.0,130.4 37.1,130.4 37.1,130.6 37.2,130.5 37.4,130.9 37.5,130.7 37.7,130.9 37.9,130.9 37.9,130.8 38.1,131.1 38.3,131.1 38.6,131.3 38.8,131.3 38.9,131.4 39.1,131.4 39.4,131.6 39.5,131.4 39.6,131.6 39.6,131.5 39.7,131.6 39.8,131.5 39.9,131.7 40.0,131.7 40.1,131.9 40.2,131.7 40.4,131.8 40.5,131.7 41.0,132.1 41.1,131.1 41.2,131.4 41.3,131.3 41.5,131.6 41.6,131.7 41.7,131.6 41.8,131.8 42.0,132.0 42.1,131.9 42.1,132.0 42.2,132.0 42.5,132.3 42.6,132.1 42.8,132.3 43.0,132.3 43.1,132.5 43.2,132.5 43.3,132.3 43.6,132.5 43.8,132.6 43.9,132.7 44.1,132.7 44.3,132.8 44.4,132.8 44.5,132.9 44.9,132.8 45.1,133.0 45.2,133.0 45.4,133.1 45.6,133.0 45.8,133.2 45.9,133.1 46.0,133.2 46.1,133.1 46.2,133.3 46.3,133.1 46.3,133.2 46.4,132.6 46.5,132.8 46.6,132.8 47.1,133.1 47.1,133.0 47.2,133.1 47.3,133.1 47.4,133.3 47.5,133.1 47.7,133.3 47.8,133.3 48.0,133.5 48.0,133.3 48.1,133.5 48.3,133.4 48.4,133.5 48.5,133.5 48.7,133.6 48.8,133.5 48.9,133.6 49.0,133.6 49.1,133.7 49.2,133.6 49.3,133.7 49.8,133.7 50.1,133.9 50.2,133.8 50.4,133.9 50.5,133.9 50.6,134.0 50.7,134.0 51.0,134.0 51.1,134.1 51.2,134.0 51.4,134.2 51.5,134.0 51.7,134.2 51.8,133.8 52.1,134.0 52.5,134.0 52.7,134.2 52.9,134.1 53.0,134.2 53.1,134.2 53.2,134.3 53.3,134.3 53.4,134.3 53.5,134.2 54.1,134.5 54.5,134.4 54.6,134.6 54.8,134.4 54.9,134.6 55.0,134.6 55.4,134.6 55.5,134.6 55.5,134.6 55.6,134.7 55.8,134.6 56.4,134.8 56.5,134.7 56.6,134.8 56.8,134.7 56.9,134.8 57.1,134.7 57.1,134.5 57.2,134.5 57.3,134.7 57.5,134.6 57.7,134.7 57.8,134.6 58.0,134.9 58.0,134.8 58.1,134.9 58.2,134.8 58.6,134.9 58.7,134.8 58.8,135.0 59.0,135.0 59.1,134.9 59.3,135.0 59.4,135.0 59.9,135.1 60.1,135.1 60.2,135.2 60.4,135.1 60.5,135.2 60.6,135.1 60.7,135.2 61.3,135.2 61.3,135.3 61.4,135.2 61.5,135.3 61.8,135.3 61.9,135.4 62.0,135.2 62.1,135.3 62.1,135.3 62.4,135.3 62.5,135.2 63.2,135.3 63.3,135.4 63.4,135.3 63.5,135.4 63.9,135.4 64.1,135.5 64.4,135.5 64.5,135.4 64.6,135.5 64.7,135.5 65.3,135.6 65.4,135.5 65.5,135.5 65.5,135.5 65.7,135.6 65.8,135.5 65.9,135.6 66.0,135.6 66.2,135.7 66.4,135.6 67.1,135.7 67.2,135.7 67.5,135.7 67.7,135.7 67.8,135.8 67.9,135.5 68.0,135.7 68.4,135.7 68.7,135.6 68.8,135.8 68.9,135.7 69.6,135.8 69.7,135.8 69.9,135.9 70.0,135.9 70.1,135.8 70.5,135.9 70.5,135.9 70.6,135.9 70.8,135.9 70.9,135.9 71.6,135.9 71.9,136.0 72.1,135.9 72.2,136.0 72.3,135.9 72.4,136.1 72.5,136.0 72.7,135.9 73.1,136.0 73.2,135.9 73.4,135.9 73.5,136.0 73.7,136.0 73.9,136.0 74.1,136.0 74.3,136.1 74.8,136.0 74.9,136.1 75.2,136.1 75.5,136.1 76.0,136.1 76.3,136.2 76.8,136.1 77.1,136.2 77.2,136.1 77.6,136.2 77.9,136.3 78.0,136.2 78.3,136.2 78.5,136.3 78.7,136.1 79.2,136.3 79.3,136.2 79.4,136.3 79.5,136.2 79.8,136.3 80.0,136.2 80.2,136.3 80.3,136.2 80.4,136.3 80.6,136.2 80.9,136.4 81.2,136.3 81.3,136.4 81.3,136.3 82.3,136.4 82.4,136.3 82.6,136.4 83.0,136.3 83.1,136.3 83.2,136.4 83.3,136.4 83.4,136.4 83.5,136.4 83.8,136.4 83.9,136.3 84.0,136.4 84.3,136.3 84.4,136.4 84.7,136.4 84.7,136.4 85.2,136.4 85.3,136.4 85.5,136.4 85.9,136.5 86.2,136.4 86.3,136.5 86.5,136.4 86.7,136.5 86.9,136.4 87.0,136.5 87.7,136.5 88.0,136.5 88.2,136.4 88.3,136.5 88.8,136.5 89.0,136.6 89.3,136.5 89.5,136.5 89.6,136.5 90.0,136.6 90.3,136.5 90.8,136.5 90.9,136.6 91.1,136.5 91.3,136.6 91.6,136.5 91.7,136.6 92.1,136.5 92.2,136.6 92.5,136.6 92.6,136.6 92.8,136.5 93.0,136.6 93.7,136.6 93.8,136.6 94.5,136.6 94.7,136.6 95.1,136.6 95.5,136.6 95.7,136.6 96.4,136.6 96.5,136.6 96.8,136.7 97.2,136.6 97.2,136.7 97.7,136.6 98.0,136.7 98.3,136.6 98.5,136.7 98.6,136.6 99.3,136.7 99.5,136.6 100.4,136.7 100.5,136.6 100.9,136.7 101.2,136.6 101.3,136.7 102.3,136.7 102.4,136.7 102.6,136.7 103.0,136.7 103.4,136.7 103.6,136.7 104.7,136.7 105.0,136.7 105.1,136.7 105.5,136.7 105.7,136.8 106.2,136.7 106.5,136.8 106.9,136.7 107.0,136.8 107.8,136.7 108.0,136.8 108.7,136.7 108.8,136.8 108.9,136.7 109.0,136.8 109.1,136.7 109.3,136.8 109.5,136.7 109.7,136.8 110.2,136.7 110.3,136.8 110.4,136.7 110.5,136.8 110.8,136.7 110.9,136.8 111.4,136.7 112.0,136.8 112.9,136.7 113.9,136.8 114.4,136.7 114.7,136.8 115.1,136.7 115.3,136.8 116.2,136.8 116.4,136.8 116.7,136.8 117.2,136.8 117.2,136.8 118.1,136.8 118.4,136.8 118.5,136.8 118.6,136.8 119.1,136.8 119.3,136.8 119.7,136.8 120.6,136.8 120.9,136.8 121.1,136.8 121.5,136.8 126.9,136.9 127.0,136.8 128.4,136.8 128.7,136.8 130.9,136.9 133.1,136.8 137.7,136.9 139.0,136.8 180.5,136.9"/>
</g>
<rect x="25.00" y="21.40" width="162.70" height="121.40" fill="none" stroke="#222" stroke-width="0.65"/>
<path d="M25.00,142.80v1.40M60.72,142.80v1.40M96.44,142.80v1.40M132.16,142.80v1.40M167.88,142.80v1.40M25.00,137.20h-1.40M25.00,115.60h-1.40M25.00,94.00h-1.40M25.00,72.40h-1.40M25.00,50.80h-1.40M25.00,29.20h-1.40M25.00,21.40v-1.40M51.20,21.40v-1.40M77.40,21.40v-1.40M103.60,21.40v-1.40M129.80,21.40v-1.40M156.00,21.40v-1.40M182.20,21.40v-1.40" stroke="#222" stroke-width="0.4" fill="none"/>
<rect x="147.30" y="23.10" width="38.30" height="43.10" rx="0.8" fill="#fff" fill-opacity="0.8" stroke="#ccc" stroke-width="0.4"/>
<path d="M148.60,27.40H158.50" stroke="#1f77b4" stroke-width="0.80" stroke-opacity="1.00"/>
<path d="M148.60,34.30H158.50" stroke="#ff7f0e" stroke-width="0.80" stroke-opacity="1.00"/>
<path d="M148.60,41.25H158.50" stroke="#2ca02c" stroke-width="0.80" stroke-opacity="1.00"/>
<path d="M148.60,48.10H158.50" stroke="#d62728" stroke-width="1.15" stroke-opacity="0.62"/>
<path d="M148.60,55.00H158.50" stroke="#9467bd" stroke-width="1.15" stroke-opacity="0.62"/>
<path d="M148.60,62.00H158.50" stroke="#8c564b" stroke-width="1.15" stroke-opacity="0.62"/>
<text transform="translate(10.20,82.30) rotate(-90)" font-family="'Liberation Serif',serif" font-size="8.95" text-anchor="middle" fill="#111" stroke="#111" stroke-width="0.16">Loss</text>
<clipPath id="cb"><rect x="245.30" y="21.40" width="162.70" height="121.20"/></clipPath>
<g clip-path="url(#cb)" fill="none" stroke-linejoin="round" stroke-linecap="butt">
<polyline stroke="#1f77b4" stroke-width="0.48" stroke-opacity="1.00" points="245.3,24.2 245.6,87.1 245.8,103.7 245.9,107.4 246.1,112.7 246.2,112.5 246.3,114.6 246.5,115.3 246.6,114.5 246.7,116.3 246.8,116.3 246.8,116.1 246.9,116.3 246.9,117.2 247.0,117.3 247.1,117.9 247.2,117.6 247.4,119.0 247.5,119.1 247.6,118.2 247.6,119.4 247.7,119.6 247.8,119.1 247.8,119.8 247.9,118.7 248.0,120.5 248.0,120.0 248.1,120.7 248.2,121.1 248.2,121.1 248.3,120.7 248.4,121.6 248.5,121.3 248.5,122.0 248.6,122.0 248.6,121.2 248.7,122.5 248.7,122.6 248.8,122.0 248.9,123.0 249.0,123.0 249.0,122.7 249.1,123.2 249.1,123.4 249.2,123.4 249.2,123.5 249.3,122.6 249.3,124.0 249.4,124.1 249.4,123.6 249.5,124.3 249.6,123.9 249.6,124.6 249.8,125.1 249.8,125.1 249.9,124.6 250.0,125.5 250.0,125.2 250.1,125.4 250.1,125.4 250.2,125.9 250.3,125.7 250.3,125.9 250.4,125.6 250.4,126.3 250.5,125.9 250.6,126.5 250.6,126.1 250.7,126.8 250.8,126.7 250.8,126.9 250.9,126.4 250.9,126.4 251.1,127.5 251.1,127.2 251.2,127.3 251.2,127.8 251.3,127.8 251.3,127.6 251.6,128.2 251.6,127.9 251.7,128.1 251.7,127.7 251.8,128.4 251.8,128.2 251.9,128.7 251.9,128.2 252.0,128.7 252.1,129.1 252.1,128.6 252.2,129.1 252.2,129.1 252.3,129.3 252.4,129.5 252.5,129.2 252.5,129.7 252.6,129.2 252.7,129.9 252.8,129.6 252.8,129.7 252.9,129.5 252.9,129.8 253.0,129.5 253.1,130.3 253.1,130.1 253.2,130.4 253.2,130.2 253.3,130.7 253.4,130.4 253.5,130.9 253.6,130.5 253.6,131.0 253.7,130.6 253.9,131.0 253.9,130.6 254.0,131.3 254.2,131.5 254.2,131.5 254.3,131.3 254.4,131.7 254.4,131.5 254.5,131.8 254.6,131.8 254.6,131.7 254.7,132.0 254.7,131.6 254.8,132.1 255.0,132.0 255.1,132.3 255.1,131.5 255.2,132.5 255.3,132.2 255.3,132.5 255.4,132.5 255.4,132.1 255.5,132.8 255.6,132.6 255.7,132.9 255.7,132.6 255.8,132.9 255.9,132.9 256.0,132.8 256.0,133.0 256.1,133.1 256.1,132.9 256.4,133.3 256.5,133.2 256.5,133.4 256.6,133.3 256.7,133.6 256.8,133.2 256.8,133.6 256.9,133.6 257.0,133.7 257.0,133.6 257.1,133.7 257.1,133.5 257.2,133.5 257.3,133.9 257.3,133.5 257.4,133.9 257.5,133.7 257.5,134.0 257.6,134.0 257.6,133.7 257.7,134.0 257.8,134.0 257.9,134.2 257.9,134.2 258.0,134.0 258.0,134.1 258.1,134.2 258.2,134.4 258.2,134.3 258.3,134.4 258.4,134.2 258.4,134.4 258.5,134.3 258.5,134.6 258.7,134.4 258.7,134.6 258.9,134.7 258.9,134.5 259.0,134.8 259.0,134.8 259.1,134.7 259.2,134.8 259.2,134.8 259.3,134.8 259.4,134.9 259.4,134.5 259.5,135.0 259.6,134.8 259.7,134.8 259.8,135.1 259.8,134.8 260.0,135.1 260.0,135.1 260.1,134.8 260.2,135.2 260.3,135.0 260.3,135.3 260.4,135.2 260.5,135.3 260.6,135.1 260.7,135.2 260.9,135.5 260.9,135.3 261.0,135.4 261.0,135.3 261.1,135.1 261.2,135.5 261.3,135.5 261.3,135.6 261.5,135.5 261.5,135.6 261.6,135.5 261.7,135.6 261.8,135.5 261.8,135.7 261.9,135.4 261.9,135.8 262.0,135.6 262.0,135.7 262.1,135.5 262.2,135.8 262.4,135.8 262.4,135.6 262.6,135.9 262.7,136.0 262.7,136.0 262.8,136.0 262.8,136.1 262.9,136.0 262.9,136.2 263.0,136.2 263.0,136.1 263.1,136.2 263.1,136.0 263.2,136.4 263.3,136.3 263.5,136.5 263.6,136.3 263.6,136.5 263.7,136.3 263.7,136.5 263.8,136.6 263.9,136.5 263.9,136.7 264.0,136.6 264.0,136.7 264.1,136.6 264.1,136.7 264.2,136.6 264.2,136.7 264.3,136.6 264.5,136.7 264.6,136.6 264.7,136.7 264.8,136.5 264.9,136.7 264.9,136.7 265.1,136.4 265.2,136.7 265.3,136.5 265.3,136.7 265.4,136.7 265.5,136.6 265.5,136.7 265.6,136.5 265.7,136.7 265.7,136.6 265.8,136.4 265.8,136.6 266.0,136.5 266.1,136.7 266.1,136.5 266.2,136.7 266.3,136.5 266.5,136.7 266.6,136.6 266.6,136.6 266.7,136.5 266.7,136.7 266.9,136.5 267.1,136.7 267.2,136.6 267.3,136.5 267.4,136.6 267.4,136.5 267.5,136.7 267.6,136.5 267.7,136.7 267.7,136.4 267.8,136.7 268.0,136.6 268.1,136.7 268.1,136.5 268.2,136.7 268.2,136.6 268.3,136.7 268.4,136.6 268.5,136.7 268.6,136.6 268.7,136.7 268.9,136.7 269.0,136.7 269.1,136.5 269.1,136.6 269.5,136.7 269.5,136.6 269.8,136.7 269.9,136.6 270.0,136.7 270.1,136.6 270.2,136.7 270.2,136.6 270.3,136.7 270.4,136.6 270.5,136.7 270.6,136.6 270.6,136.7 270.7,136.6 271.0,136.7 271.1,136.6 271.1,136.6 271.2,136.6 271.4,136.7 271.5,136.6 271.7,136.7 271.7,136.6 271.9,136.7 272.1,136.6 272.1,136.7 272.3,136.6 272.4,136.7 272.5,136.6 272.6,136.7 272.7,136.6 272.7,136.7 272.8,136.6 272.8,136.7 272.9,136.6 273.0,136.7 273.2,136.6 273.3,136.7 273.7,136.7 273.7,136.6 273.8,136.7 274.0,136.7 274.0,136.6 274.1,136.7 274.2,136.6 274.3,136.7 274.3,136.6 274.5,136.7 274.8,136.7 274.9,136.6 275.0,136.7 275.2,136.6 275.3,136.7 275.7,136.6 275.8,136.7 275.8,136.6 275.9,136.7 276.0,136.6 276.2,136.7 276.5,136.6 276.6,136.7 276.7,136.6 276.7,136.7 276.8,136.6 277.0,136.7 277.1,136.6 277.1,136.7 277.4,136.7 277.9,136.6 278.2,136.7 278.6,136.6 278.6,136.7 279.2,136.7 280.1,136.7 280.1,136.6 281.0,136.7 284.2,136.7 290.7,136.7"/>
<polyline stroke="#ff7f0e" stroke-width="0.80" stroke-opacity="1.00" points="245.3,24.7 245.5,80.3 245.7,97.0 245.8,103.8 245.9,109.3 246.2,113.2 246.3,113.4 246.6,115.6 246.7,115.6 246.8,115.0 246.8,116.4 246.9,116.5 247.0,117.1 247.1,116.9 247.2,115.7 247.3,118.0 247.4,117.8 247.6,118.8 247.6,117.9 247.8,119.1 247.9,119.2 247.9,118.7 248.1,119.8 248.2,119.7 248.3,120.5 248.4,120.0 248.4,121.0 248.5,120.6 248.5,121.2 248.6,121.1 248.7,121.3 248.7,120.9 248.8,121.6 248.8,121.6 249.0,122.2 249.1,122.1 249.1,122.3 249.2,122.0 249.2,122.7 249.3,121.8 249.5,123.3 249.6,123.0 249.7,123.4 249.8,123.3 249.8,123.9 249.9,122.9 250.0,124.2 250.1,123.4 250.1,124.5 250.2,124.6 250.3,124.4 250.4,125.0 250.4,124.8 250.5,125.1 250.6,124.7 250.6,125.5 250.7,125.1 250.7,125.5 250.8,125.2 250.8,125.5 250.9,125.2 250.9,125.7 251.0,125.4 251.1,126.2 251.2,125.8 251.2,126.4 251.3,125.7 251.3,125.7 251.4,126.4 251.5,126.4 251.7,127.1 251.7,126.7 251.9,127.2 251.9,126.9 252.0,127.3 252.1,127.2 252.2,127.8 252.2,127.9 252.3,127.6 252.3,127.9 252.4,127.9 252.4,128.1 252.5,127.7 252.5,128.1 252.6,127.9 252.7,128.4 252.7,128.0 252.8,128.1 252.9,128.0 252.9,128.7 253.0,128.2 253.1,129.0 253.2,128.7 253.4,129.0 253.4,129.4 253.5,129.1 253.6,129.4 253.6,129.1 253.7,129.7 253.8,129.5 253.9,129.5 253.9,129.9 254.1,129.7 254.1,130.0 254.2,129.9 254.2,130.1 254.3,130.1 254.4,130.3 254.4,130.1 254.5,130.1 254.6,130.0 254.7,130.5 254.8,130.6 254.8,130.8 254.9,130.9 254.9,130.8 255.1,131.0 255.1,130.9 255.2,131.0 255.3,130.8 255.4,131.2 255.4,131.1 255.5,131.3 255.5,131.2 255.6,131.3 255.6,131.1 255.8,131.5 255.8,131.0 255.9,131.3 256.0,131.8 256.1,131.6 256.2,131.7 256.3,131.6 256.4,132.0 256.5,132.1 256.5,131.8 256.6,132.2 256.7,132.0 256.7,132.1 256.8,132.0 256.9,132.3 256.9,132.3 257.0,131.9 257.1,132.3 257.1,132.0 257.2,132.4 257.2,132.6 257.3,132.5 257.4,132.7 257.5,132.5 257.5,132.6 257.6,132.3 257.6,132.7 257.7,132.7 257.7,132.9 257.8,132.4 257.9,133.0 257.9,132.8 258.0,133.0 258.2,132.7 258.2,133.1 258.3,133.0 258.4,133.1 258.5,133.2 258.5,133.1 258.6,133.3 258.7,133.1 258.7,133.3 258.8,133.2 258.8,133.4 258.9,133.3 258.9,133.6 259.0,133.5 259.2,133.6 259.2,133.6 259.3,133.7 259.3,133.7 259.4,133.4 259.5,133.8 259.6,133.8 259.6,133.9 259.8,133.8 259.8,134.0 259.9,133.9 260.0,134.0 260.0,133.7 260.2,134.1 260.3,133.6 260.3,134.0 260.4,134.1 260.4,133.8 260.5,134.1 260.5,134.2 260.6,134.0 260.6,134.2 260.7,134.3 260.8,134.2 260.9,134.4 261.1,134.2 261.2,134.5 261.3,134.5 261.3,134.4 261.4,134.5 261.5,134.4 261.5,134.5 261.6,134.3 261.6,134.5 261.7,134.4 261.7,134.6 261.8,134.6 261.9,134.7 261.9,134.7 262.0,134.5 262.1,134.7 262.2,134.5 262.2,134.8 262.3,134.8 262.4,134.7 262.5,134.8 262.7,134.8 262.7,134.9 262.8,134.8 262.9,134.8 263.0,134.9 263.0,135.0 263.1,134.9 263.2,135.1 263.3,134.8 263.4,135.1 263.4,135.0 263.6,135.1 263.7,134.9 263.7,135.2 263.8,135.2 264.0,135.2 264.1,135.3 264.2,135.2 264.3,135.3 264.4,135.2 264.4,135.3 264.5,135.3 264.6,135.2 264.6,135.3 264.7,135.2 264.9,135.4 265.0,135.3 265.0,135.4 265.1,135.4 265.3,135.6 265.4,135.5 265.4,135.7 265.7,135.7 265.8,135.9 266.0,136.0 266.1,135.8 266.1,136.0 266.3,136.1 266.4,136.0 266.5,136.2 266.6,136.1 266.7,136.2 266.8,136.2 266.8,136.3 266.9,136.2 267.0,136.3 267.0,136.2 267.1,136.3 267.2,136.4 267.2,136.2 267.3,136.4 267.3,136.2 267.4,136.4 267.7,136.3 267.8,136.4 267.9,136.4 268.1,136.5 268.1,136.4 268.2,136.5 268.3,136.4 268.4,136.5 268.5,136.3 268.5,136.5 268.6,136.4 268.7,136.5 268.7,136.5 268.9,136.6 269.0,136.5 269.0,136.6 269.1,136.5 269.2,136.6 269.3,136.5 269.5,136.6 269.6,136.5 269.7,136.6 269.8,136.5 269.8,136.4 269.9,136.6 270.0,136.5 270.1,136.6 270.3,136.6 270.6,136.6 270.6,136.6 270.8,136.6 270.9,136.7 271.0,136.6 271.0,136.6 271.1,136.5 271.1,136.6 271.3,136.6 271.3,136.7 271.5,136.6 271.5,136.6 271.6,136.6 271.6,136.7 272.0,136.6 272.1,136.7 272.1,136.6 272.3,136.7 272.4,136.6 272.5,136.7 272.5,136.6 272.6,136.7 272.7,136.6 272.8,136.7 273.0,136.6 273.0,136.7 273.1,136.6 273.4,136.7 273.5,136.6 273.5,136.7 273.6,136.6 273.6,136.7 273.7,136.7 273.9,136.6 273.9,136.7 274.0,136.6 274.1,136.7 274.5,136.6 274.5,136.7 274.8,136.7 274.9,136.6 275.0,136.7 275.1,136.6 275.2,136.7 275.5,136.6 275.7,136.7 275.8,136.6 276.3,136.7 276.6,136.6 276.7,136.7 277.0,136.6 277.3,136.7 277.4,136.6 277.4,136.7 278.3,136.7 278.4,136.6 278.6,136.7 279.3,136.6 279.9,136.7 280.6,136.7 290.7,136.7"/>
<polyline stroke="#2ca02c" stroke-width="0.80" stroke-opacity="1.00" points="245.3,12.6 245.5,67.3 245.7,84.3 245.9,95.4 245.9,95.6 246.0,97.0 246.0,96.7 246.1,100.5 246.2,98.6 246.2,101.8 246.3,100.1 246.4,102.9 246.6,99.6 246.6,104.5 246.7,103.2 246.7,104.6 246.8,101.6 246.8,105.2 246.9,93.2 247.1,101.2 247.2,101.4 247.2,100.8 247.4,104.3 247.5,102.9 247.5,105.3 247.6,103.5 247.6,105.9 247.8,104.2 247.8,107.3 247.9,105.2 248.0,108.0 248.0,108.4 248.1,107.0 248.1,108.7 248.2,107.7 248.2,110.2 248.3,109.1 248.3,110.1 248.4,109.8 248.4,103.1 248.5,106.0 248.6,105.7 248.6,102.7 248.7,108.5 248.7,107.7 248.8,109.2 248.9,109.2 249.0,109.5 249.0,109.0 249.1,112.1 249.1,112.1 249.2,110.7 249.3,113.3 249.4,110.7 249.4,114.4 249.5,114.8 249.6,114.7 249.6,115.0 249.7,114.1 249.8,116.3 249.8,114.4 249.9,116.9 250.0,111.7 250.1,113.2 250.1,112.4 250.2,113.8 250.3,112.6 250.4,115.0 250.5,113.1 250.5,116.2 250.6,116.6 250.7,115.1 250.8,117.0 250.8,116.9 250.9,117.7 250.9,115.1 251.0,118.6 251.2,115.3 251.2,117.7 251.3,114.5 251.3,119.1 251.4,118.0 251.5,118.6 251.5,117.8 251.6,111.4 251.6,114.3 251.8,115.8 251.8,117.6 251.9,115.3 252.0,118.6 252.0,113.8 252.1,117.6 252.1,114.9 252.2,119.0 252.3,118.5 252.3,117.5 252.4,118.5 252.4,116.8 252.5,119.6 252.5,119.0 252.6,119.8 252.7,119.9 252.7,119.7 252.9,121.5 252.9,119.8 253.0,121.8 253.1,121.9 253.1,117.6 253.2,118.3 253.3,115.8 253.3,118.6 253.4,117.7 253.4,119.9 253.5,120.0 253.5,119.3 253.6,121.0 253.7,117.8 253.8,121.4 253.9,117.8 254.0,122.1 254.0,121.8 254.2,116.9 254.2,121.5 254.3,121.0 254.3,122.7 254.4,120.7 254.5,123.2 254.5,121.5 254.6,123.4 254.7,118.2 254.8,120.6 254.9,119.0 255.0,119.7 255.1,118.7 255.2,121.7 255.2,121.8 255.3,119.2 255.3,122.3 255.4,121.6 255.4,121.8 255.5,119.8 255.6,123.6 255.6,123.9 255.7,122.0 255.7,124.2 255.8,124.5 255.8,124.5 255.9,122.6 255.9,123.5 256.0,121.9 256.1,123.3 256.1,121.4 256.2,123.8 256.3,120.0 256.4,122.9 256.4,121.8 256.6,123.6 256.6,121.6 256.7,124.5 256.8,119.7 256.9,123.7 256.9,122.4 257.0,123.8 257.0,123.4 257.1,123.9 257.2,122.5 257.2,122.6 257.3,125.5 257.4,125.5 257.5,125.4 257.5,122.6 257.6,125.8 257.7,123.5 257.8,125.1 257.9,122.4 257.9,122.5 258.0,123.1 258.0,122.2 258.1,123.8 258.2,119.3 258.3,124.4 258.4,124.8 258.4,124.1 258.5,125.2 258.5,125.0 258.6,125.0 258.7,123.3 258.8,125.7 258.9,124.7 258.9,125.9 259.0,124.2 259.0,124.3 259.1,125.7 259.1,125.5 259.2,123.1 259.3,125.5 259.4,122.0 259.4,123.4 259.5,122.9 259.6,124.3 259.6,120.1 259.7,125.0 259.8,122.3 259.8,125.3 259.9,123.6 260.0,125.2 260.1,123.5 260.1,124.4 260.2,123.5 260.2,124.3 260.3,123.7 260.4,126.4 260.4,124.9 260.5,125.4 260.6,123.7 260.7,126.7 260.7,126.5 260.8,122.2 260.9,126.6 261.0,122.0 261.2,124.6 261.2,124.7 261.3,124.6 261.3,124.7 261.4,125.1 261.4,123.8 261.5,124.8 261.5,124.9 261.6,124.2 261.6,126.3 261.7,123.1 261.7,126.3 261.8,125.2 261.9,125.2 261.9,126.2 262.0,125.0 262.1,126.9 262.2,124.7 262.3,126.3 262.4,123.9 262.4,126.2 262.5,125.9 262.6,123.3 262.8,125.5 262.8,123.2 262.9,126.1 263.0,126.0 263.0,124.7 263.1,125.5 263.1,124.6 263.2,125.2 263.3,127.0 263.3,125.6 263.4,127.1 263.6,125.0 263.6,126.8 263.7,125.8 263.7,127.2 263.8,125.1 263.9,127.4 264.0,125.6 264.0,126.9 264.1,124.9 264.2,123.8 264.2,125.7 264.3,123.3 264.4,125.6 264.5,125.6 264.5,125.4 264.6,126.3 264.6,124.9 264.8,126.4 264.9,123.8 265.0,126.5 265.0,126.7 265.1,126.0 265.2,127.5 265.2,125.1 265.3,126.9 265.3,127.1 265.4,127.0 265.4,126.5 265.5,125.3 265.5,127.4 265.6,119.9 265.7,125.2 265.8,124.7 265.8,125.5 266.0,124.5 266.1,126.0 266.1,123.6 266.2,126.3 266.2,124.6 266.3,127.3 266.4,125.2 266.4,127.1 266.5,125.5 266.5,127.4 266.6,127.2 266.6,125.4 266.7,127.1 266.7,126.9 266.8,125.1 266.8,127.8 266.9,127.1 267.0,123.9 267.1,128.0 267.3,123.8 267.4,125.1 267.5,124.6 267.6,126.9 267.6,125.0 267.7,126.2 267.7,125.3 267.9,127.2 267.9,124.7 268.0,127.0 268.0,127.5 268.1,126.4 268.1,128.1 268.2,125.5 268.4,127.9 268.4,126.0 268.5,127.3 268.5,125.6 268.6,127.4 268.7,125.9 268.7,126.9 268.8,125.6 268.8,125.4 268.9,125.6 269.0,123.8 269.0,127.2 269.1,124.7 269.2,127.7 269.3,127.4 269.3,127.7 269.4,127.1 269.4,127.6 269.5,125.0 269.6,125.0 269.7,126.6 269.7,126.9 269.8,126.6 269.8,128.4 269.9,128.6 269.9,127.4 270.0,128.4 270.1,128.0 270.1,128.7 270.2,128.1 270.2,128.7 270.3,125.8 270.3,126.2 270.4,124.1 270.4,126.7 270.5,126.6 270.5,127.4 270.6,127.2 270.6,124.8 270.8,128.0 270.9,126.8 270.9,128.1 271.0,125.8 271.1,127.7 271.1,126.2 271.2,128.6 271.3,126.6 271.3,128.6 271.4,127.9 271.4,128.0 271.5,127.7 271.6,128.5 271.7,127.4 271.7,129.0 271.8,127.9 271.9,125.8 272.0,125.0 272.1,127.5 272.1,125.9 272.2,127.2 272.3,128.0 272.3,127.5 272.4,128.0 272.5,126.1 272.5,128.6 272.6,127.6 272.6,128.3 272.7,124.9 272.7,127.5 272.8,128.1 272.8,126.6 272.9,128.7 272.9,128.2 273.0,128.1 273.0,128.8 273.1,127.6 273.2,128.3 273.3,126.9 273.4,128.8 273.5,124.8 273.6,127.6 273.6,127.5 273.7,127.8 273.7,125.7 273.8,126.6 273.8,125.3 273.9,128.7 274.0,127.8 274.0,128.1 274.1,127.9 274.1,128.9 274.2,128.0 274.3,129.0 274.3,126.4 274.4,128.7 274.5,128.4 274.5,128.8 274.6,126.0 274.6,129.3 274.7,128.9 274.8,129.4 274.8,127.6 275.0,129.6 275.0,124.6 275.1,127.6 275.2,127.0 275.2,127.4 275.3,126.2 275.3,128.0 275.4,127.5 275.4,128.7 275.5,126.7 275.5,129.0 275.6,128.2 275.7,128.7 275.7,127.7 275.8,129.1 275.9,128.1 275.9,129.6 276.0,129.4 276.0,128.2 276.1,129.0 276.1,127.0 276.2,129.0 276.2,129.0 276.3,129.4 276.3,129.1 276.4,129.6 276.5,129.1 276.5,129.9 276.6,127.9 276.6,128.1 276.8,126.9 276.9,128.6 277.0,128.6 277.0,128.9 277.1,127.2 277.2,128.8 277.3,129.4 277.3,128.0 277.4,128.3 277.5,126.5 277.6,129.8 277.6,128.4 277.7,129.4 277.7,129.4 277.8,129.4 277.8,129.8 277.9,128.5 277.9,130.1 278.0,129.7 278.1,129.8 278.1,128.0 278.2,127.3 278.3,128.7 278.4,128.9 278.4,128.9 278.5,126.1 278.5,128.5 278.6,129.6 278.7,128.4 278.9,129.9 278.9,128.6 279.0,128.4 279.0,129.2 279.1,127.6 279.2,130.1 279.3,129.3 279.4,129.9 279.4,129.8 279.5,127.6 279.6,130.2 279.7,130.5 279.8,126.5 279.8,128.9 279.9,129.0 279.9,127.4 280.0,129.1 280.1,129.4 280.1,129.2 280.2,128.6 280.2,129.4 280.3,129.1 280.3,129.9 280.4,128.1 280.4,130.4 280.5,129.4 280.6,130.2 280.6,129.2 280.7,130.4 280.7,128.0 280.8,130.3 280.8,129.9 280.9,129.9 280.9,130.5 281.0,129.7 281.0,130.2 281.1,128.9 281.1,129.1 281.2,128.6 281.2,130.5 281.3,128.2 281.3,128.9 281.4,128.5 281.5,128.6 281.6,129.4 281.6,127.8 281.8,130.3 281.8,128.6 281.9,130.3 281.9,130.5 282.0,129.2 282.0,129.2 282.1,129.7 282.1,128.7 282.2,130.5 282.2,127.8 282.3,130.9 282.3,130.0 282.4,130.7 282.4,129.3 282.5,130.5 282.5,129.7 282.6,130.7 282.6,130.1 282.7,129.9 282.8,131.1 282.8,128.2 282.9,129.6 283.0,129.6 283.0,128.6 283.1,130.0 283.2,129.4 283.2,129.9 283.3,129.7 283.4,130.7 283.5,130.0 283.5,130.1 283.6,130.0 283.6,130.1 283.7,129.3 283.7,131.1 283.8,130.5 283.8,130.7 283.9,130.0 283.9,130.4 284.0,130.3 284.0,130.9 284.1,130.3 284.2,130.9 284.2,130.1 284.3,131.3 284.5,128.0 284.5,129.9 284.6,130.5 284.7,129.8 284.8,129.9 284.8,130.8 284.9,130.1 284.9,130.7 285.0,130.3 285.1,131.0 285.2,130.5 285.2,131.0 285.3,129.7 285.4,131.5 285.4,131.2 285.5,131.7 285.6,130.6 285.6,131.7 285.8,130.8 285.8,131.7 285.9,131.4 285.9,131.9 286.0,129.5 286.1,129.9 286.1,129.9 286.2,131.0 286.3,130.3 286.4,130.8 286.4,130.1 286.5,131.1 286.6,131.2 286.7,130.1 286.7,131.0 286.8,130.3 286.8,131.3 286.9,131.9 287.1,131.0 287.2,131.7 287.2,131.4 287.3,131.5 287.3,130.5 287.4,132.1 287.5,132.1 287.5,130.1 287.6,130.1 287.7,131.3 287.8,130.4 288.0,131.9 288.1,130.3 288.2,131.4 288.2,131.0 288.3,132.1 288.4,131.8 288.4,132.2 288.5,130.9 288.6,132.1 288.6,131.5 288.7,131.8 288.8,132.6 288.9,131.3 289.1,132.6 289.1,131.4 289.2,131.5 289.2,131.0 289.3,131.7 289.3,131.7 289.5,132.2 289.5,131.3 289.6,131.8 289.6,131.5 289.7,132.3 289.8,131.7 289.8,132.6 289.9,132.3 289.9,132.6 290.0,132.0 290.0,132.0 290.1,132.7 290.1,132.0 290.3,132.6 290.4,131.8 290.4,132.4 290.5,131.9 290.6,132.9 290.7,131.3 290.7,131.2 290.8,131.3 290.8,132.1 290.9,131.0 291.0,132.4 291.1,132.3 291.1,132.4 291.2,132.3 291.2,132.5 291.3,131.9 291.3,132.9 291.4,132.1 291.5,132.7 291.5,132.1 291.6,132.5 291.6,132.4 291.7,131.1 291.7,132.9 291.8,132.6 291.9,132.6 291.9,132.8 292.0,132.8 292.0,133.3 292.1,132.5 292.2,133.3 292.3,131.6 292.3,131.7 292.4,132.7 292.5,132.1 292.5,133.0 292.6,133.0 292.7,132.3 292.8,132.6 292.8,132.6 292.9,133.1 292.9,132.3 293.0,133.1 293.0,133.0 293.1,132.0 293.2,133.0 293.3,133.1 293.3,133.0 293.4,133.6 293.4,133.3 293.5,133.5 293.5,133.4 293.6,133.4 293.7,133.3 293.9,132.3 294.0,132.9 294.1,131.9 294.1,133.2 294.2,133.3 294.3,132.6 294.3,133.4 294.4,132.7 294.4,133.5 294.5,133.2 294.6,133.6 294.6,133.2 294.7,133.7 294.8,133.9 294.9,132.4 295.0,133.9 295.1,133.3 295.1,133.9 295.2,133.3 295.2,133.3 295.3,133.6 295.3,133.0 295.4,133.3 295.4,133.1 295.5,132.4 295.5,133.4 295.6,133.1 295.7,133.2 295.8,133.9 295.8,133.7 295.9,133.9 295.9,133.2 296.0,134.0 296.1,133.2 296.1,134.0 296.3,134.0 296.3,133.5 296.4,134.2 296.5,133.6 296.6,133.7 296.6,134.3 296.7,134.0 296.8,134.4 296.8,133.9 296.9,134.3 296.9,132.9 297.0,133.8 297.0,133.7 297.1,133.9 297.1,133.7 297.2,133.9 297.2,133.8 297.4,134.1 297.4,133.5 297.6,134.0 297.6,133.6 297.7,134.4 297.8,133.9 297.9,134.5 297.9,134.4 298.0,133.7 298.0,134.5 298.1,134.2 298.1,134.4 298.2,134.4 298.2,134.5 298.3,134.2 298.3,134.2 298.4,134.6 298.5,133.8 298.5,133.8 298.6,133.6 298.6,133.7 298.7,133.7 298.8,134.4 298.9,134.3 299.0,134.5 299.1,134.2 299.2,134.6 299.2,134.5 299.3,134.6 299.4,134.2 299.5,134.7 299.6,134.5 299.6,134.8 299.7,134.2 299.8,134.6 299.9,134.2 300.0,134.8 300.1,134.0 300.2,134.6 300.4,134.2 300.5,134.8 300.5,134.8 300.6,134.3 300.6,134.8 300.7,134.6 300.7,134.9 300.8,134.6 300.8,134.8 300.9,134.7 300.9,134.9 301.0,134.8 301.2,135.1 301.3,134.5 301.4,135.2 301.5,135.0 301.5,135.1 301.6,134.8 301.7,134.7 301.7,134.9 301.8,134.8 301.8,135.0 301.9,134.9 302.0,135.0 302.0,134.6 302.1,135.1 302.1,134.8 302.2,135.2 302.4,135.0 302.4,135.3 302.5,135.1 302.6,135.3 302.7,134.9 302.8,135.3 302.8,135.3 302.9,135.4 303.0,135.1 303.1,135.4 303.1,135.4 303.2,134.8 303.2,135.0 303.3,135.0 303.4,135.1 303.4,135.0 303.5,135.3 303.6,134.9 303.6,135.4 303.8,135.2 303.9,135.4 303.9,135.0 304.0,135.4 304.1,135.2 304.2,135.5 304.3,135.3 304.3,135.5 304.5,135.6 304.6,135.3 304.7,135.6 304.8,135.2 304.8,135.4 304.9,135.1 305.0,135.5 305.1,135.5 305.2,135.3 305.2,135.6 305.4,135.5 305.4,135.6 305.5,135.5 305.6,135.7 305.6,135.6 305.7,135.7 305.7,135.5 305.8,135.7 305.9,135.6 306.0,135.7 306.1,135.4 306.2,135.8 306.2,135.7 306.3,135.8 306.3,135.5 306.5,135.5 306.6,135.7 306.7,135.8 306.7,135.4 306.8,135.7 307.0,135.7 307.1,135.7 307.1,135.6 307.3,135.9 307.4,135.6 307.5,135.9 307.6,135.9 307.6,135.7 307.7,135.9 307.7,135.6 307.8,135.8 307.9,135.6 307.9,135.7 308.0,135.5 308.0,135.7 308.2,135.7 308.2,135.8 308.3,135.7 308.3,135.8 308.4,135.7 308.5,135.7 308.7,135.9 308.7,135.9 308.8,135.8 308.8,135.9 308.9,135.7 309.0,135.9 309.0,135.7 309.1,135.9 309.1,135.9 309.2,135.7 309.3,135.9 309.3,136.0 309.4,135.7 309.5,135.7 309.6,135.6 309.7,135.8 309.8,135.9 310.0,135.7 310.0,135.9 310.1,135.9 310.2,135.8 310.3,135.9 310.3,135.7 310.5,135.9 310.5,135.8 310.6,136.0 310.6,135.9 310.7,136.0 310.7,135.9 310.8,136.0 310.9,135.8 310.9,136.0 311.0,135.8 311.1,135.8 311.1,135.7 311.2,135.8 311.2,135.7 311.3,135.9 311.4,135.9 311.4,135.8 311.6,135.9 311.6,136.0 311.7,135.7 311.8,136.0 311.8,135.9 311.9,135.9 312.0,136.0 312.1,136.0 312.2,135.8 312.3,136.0 312.5,135.9 312.5,136.0 312.6,135.7 312.7,135.8 312.8,135.7 312.9,136.0 312.9,135.8 313.0,135.9 313.1,135.9 313.2,136.0 313.4,135.9 313.4,136.0 313.5,135.9 313.5,136.0 313.6,136.0 313.7,136.1 313.7,135.9 313.8,136.0 313.9,136.0 314.0,135.9 314.0,136.1 314.1,135.8 314.2,135.9 314.3,135.8 314.4,136.0 314.5,135.8 314.5,136.0 314.6,135.9 314.7,136.0 314.8,136.0 314.8,136.0 314.9,136.0 315.0,136.0 315.1,136.0 315.2,136.0 315.3,136.1 315.3,136.0 315.4,136.1 315.5,136.0 315.8,135.9 315.9,135.8 316.0,136.0 316.0,135.9 316.1,136.0 316.1,135.9 316.2,136.0 316.3,135.9 316.4,136.1 316.4,136.0 316.6,136.1 316.7,136.0 316.7,136.1 316.8,136.1 316.8,136.1 316.9,136.1 317.1,136.1 317.1,136.0 317.2,136.1 317.3,135.9 317.4,136.0 317.4,135.9 317.6,136.1 317.8,136.0 317.9,136.1 318.0,136.1 318.2,136.1 318.3,136.0 318.4,136.1 318.5,136.0 318.5,136.2 318.7,136.1 318.7,136.1 318.8,135.9 319.0,136.1 319.1,135.9 319.1,136.0 319.2,136.0 319.3,136.1 319.4,136.1 319.4,136.1 319.5,136.0 319.6,136.1 319.6,136.1 319.7,136.2 319.8,136.0 319.9,136.1 320.0,136.1 320.1,136.1 320.2,136.0 320.2,136.2 320.3,136.1 320.4,136.0 320.6,136.0 320.7,135.8 320.7,136.1 320.8,136.0 320.8,136.1 321.0,136.0 321.0,136.1 321.2,136.0 321.2,136.1 321.3,136.0 321.4,136.2 321.5,136.1 321.5,136.2 321.6,136.0 321.6,136.1 321.8,136.0 321.8,136.2 322.0,136.0 322.0,136.0 322.3,136.0 322.4,136.1 322.5,136.0 322.6,136.1 322.7,136.1 322.8,136.2 323.0,136.1 323.1,136.1 323.1,136.0 323.2,136.1 323.3,136.2 323.3,135.9 323.4,136.1 323.5,136.2 323.5,135.9 323.6,136.0 323.6,135.9 323.7,136.0 323.8,135.9 323.8,136.1 323.9,136.1 323.9,136.0 324.0,136.1 324.0,136.0 324.1,136.1 324.2,136.0 324.2,136.1 324.3,136.0 324.3,136.1 324.4,136.1 324.4,136.1 324.5,136.0 324.6,136.2 324.7,136.0 324.8,136.1 324.8,136.1 324.9,136.1 325.3,136.0 325.5,136.1 325.6,136.1 325.6,136.1 325.8,136.0 325.9,136.1 325.9,136.0 326.0,136.2 326.0,135.9 326.1,136.1 326.1,136.2 326.2,136.1 326.2,136.2 326.3,136.0 326.3,136.1 326.4,136.1 326.4,135.9 326.5,136.1 326.6,136.1 326.7,136.0 326.8,136.0 326.9,135.9 327.2,136.1 327.3,136.0 327.4,136.1 327.4,135.9 327.5,136.1 327.6,136.0 327.7,136.1 327.7,136.0 327.8,136.1 328.1,136.1 328.2,136.1 328.2,136.0 328.6,136.1 328.6,136.0 328.7,136.0 328.8,136.1 328.9,136.1 329.0,136.1 329.1,136.0 329.2,136.1 329.3,136.1 329.3,136.2 329.5,136.1 329.5,136.2 329.6,136.1 329.7,136.2 329.8,135.9 329.9,136.0 329.9,135.9 330.0,136.1 330.2,136.0 330.3,136.0 330.4,136.0 330.4,136.1 330.5,136.0 330.6,136.2 330.6,136.0 330.7,136.1 330.7,136.0 330.9,136.2 330.9,136.0 331.0,136.1 331.0,136.1 331.1,136.2 331.1,136.0 331.2,136.1 331.2,136.0 331.3,136.2 331.4,135.9 331.5,136.0 331.6,135.9 331.6,135.9 331.7,136.1 331.8,136.0 331.9,136.1 332.0,136.0 332.3,136.2 332.4,136.1 332.5,136.2 332.7,136.1 332.8,136.2 332.9,136.2 332.9,135.9 333.0,136.0 333.1,135.9 333.1,136.1 333.2,135.9 333.2,136.0 333.3,136.1 333.4,136.0 333.5,136.1 333.6,136.1 333.7,136.1 333.8,136.0 334.0,136.2 334.1,136.0 334.1,136.1 334.2,136.1 334.3,136.2 334.4,136.1 334.5,135.9 334.6,136.0 334.6,135.9 334.7,136.0 334.7,135.9 334.8,136.1 335.0,136.1 335.1,136.0 335.1,136.1 335.2,136.1 335.2,136.2 335.3,136.0 335.4,136.2 335.5,136.1 335.6,136.1 335.6,135.9 335.7,136.2 335.8,136.0 335.8,136.1 335.9,136.2 336.0,136.0 336.2,136.0 336.2,135.9 336.4,136.1 336.5,136.0 336.5,136.1 336.7,136.0 336.7,136.1 336.8,136.0 336.8,136.2 336.9,136.0 337.0,136.1 337.0,136.1 337.1,136.2 337.2,136.0 337.4,136.2 337.4,136.1 337.5,136.2 337.6,136.0 337.8,135.9 337.9,136.1 337.9,136.0 338.0,136.1 338.2,136.1 338.3,136.1 338.4,136.2 338.5,136.1 338.6,136.0 338.6,136.1 338.9,136.2 338.9,136.1 339.0,136.2 339.1,136.1 339.1,136.2 339.2,135.9 339.3,135.9 339.3,136.1 339.4,136.0 339.4,136.1 339.5,136.0 339.6,136.1 339.7,136.0 339.7,136.1 339.8,136.0 339.9,136.1 340.1,136.1 340.1,136.1 340.2,136.1 340.3,136.1 340.3,136.2 340.4,136.0 340.4,136.2 340.5,136.0 340.5,136.2 340.6,136.0 340.6,136.2 340.8,135.9 340.8,136.0 340.9,136.0 341.2,136.1 341.2,136.0 341.4,136.1 341.5,136.1 341.6,136.0 341.7,136.2 341.8,136.0 342.1,136.1 342.2,135.9 342.3,136.0 342.4,135.9 342.5,136.0 342.6,135.9 342.6,136.1 342.7,135.9 342.8,136.1 342.8,136.0 342.9,136.1 342.9,136.1 343.0,136.1 343.1,136.0 343.2,136.2 343.3,136.1 343.4,136.2 343.4,136.1 343.6,136.2 343.7,136.0 343.8,136.1 343.9,136.0 344.0,136.0 344.1,135.8 344.1,136.0 344.2,136.0 344.2,135.9 344.3,136.1 344.3,136.0 344.4,136.1 344.5,136.0 344.5,136.1 344.6,136.0 344.8,136.1 344.8,136.0 344.9,136.2 345.0,136.0 345.1,136.1 345.1,136.0 345.3,136.2 345.4,136.1 345.4,136.0 345.5,136.0 345.6,136.0 345.7,136.1 345.8,136.0 345.9,136.1 346.0,136.0 346.1,136.1 346.2,136.0 346.3,136.1 346.4,136.0 346.5,136.1 346.5,136.0 346.6,136.1 346.7,136.0 346.8,136.2 347.0,135.9 347.0,136.0 347.4,136.1 347.5,136.1 347.6,136.1 347.7,136.0 347.7,136.1 347.8,136.1 347.9,136.2 347.9,136.1 348.0,136.2 348.0,136.1 348.1,136.2 348.1,136.0 348.2,136.1 348.2,136.0 348.3,136.0 348.4,136.2 348.5,136.1 348.6,135.9 348.7,136.0 348.7,135.9 348.8,136.1 348.9,136.0 349.1,136.1 349.2,136.1 349.2,136.1 349.3,136.0 349.3,136.1 349.4,136.1 349.5,136.1 349.5,136.0 349.6,136.1 349.7,136.1 349.8,136.2 349.9,136.1 349.9,136.1 350.0,135.9 350.1,136.1 350.1,136.0 350.2,135.9 350.3,136.1 350.4,135.9 350.5,136.1 350.6,136.0 350.7,136.1 350.7,136.0 350.8,136.1 350.9,136.1 351.0,135.9 351.1,136.1 351.2,136.1 351.2,136.1 351.4,136.0 351.5,136.0 351.6,136.1 351.7,136.0 351.8,136.0 351.9,135.9 352.0,136.1 352.2,136.1 352.3,136.1 352.3,135.9 352.4,136.1 352.5,135.9 352.6,136.1 352.7,136.0 352.8,136.1 352.9,136.0 352.9,136.1 353.0,136.0 353.0,136.2 353.1,136.1 353.2,136.1 353.3,136.0 353.4,136.0 353.5,135.9 353.6,136.1 353.7,136.0 353.8,136.1 353.9,136.0 354.0,136.2 354.1,136.2 354.2,136.0 354.3,136.2 354.4,136.1 354.6,136.2 354.7,136.2 354.8,136.0 355.0,136.0 355.1,136.0 355.2,136.1 355.3,136.0 355.4,136.1 355.5,136.0 355.5,136.0 355.6,136.1 355.6,135.9 355.7,136.1 355.8,136.0 355.8,136.1 355.9,136.1 356.0,135.9 356.1,136.2 356.2,136.1 356.3,136.2 356.5,135.8 356.5,136.0 356.6,135.9 356.6,136.1 356.7,136.0 356.7,136.0 356.8,135.8 356.8,136.1 357.0,136.1 357.0,136.0 357.1,136.1 357.2,136.1 357.2,136.2 357.3,136.1 357.4,136.1 357.4,136.0 357.5,136.2 357.6,136.2 357.7,136.1 357.7,136.2 357.8,136.0 357.8,136.1 358.0,135.9 358.1,136.1 358.2,136.1 358.3,136.0 358.4,136.1 358.5,136.0 358.6,136.1 358.7,136.0 358.9,136.1 359.0,136.0 359.1,136.1 359.1,136.0 359.2,136.1 359.3,136.0 359.4,136.2 359.5,136.0 359.6,136.0 359.7,136.1 359.8,135.9 359.9,136.1 360.0,136.0 360.1,136.1 360.2,136.1 360.2,136.1 360.3,136.1 360.4,136.1 360.5,135.9 360.6,136.1 360.8,136.2 360.9,136.1 361.0,136.1 361.2,135.9 361.3,136.1 361.4,136.0 361.5,136.1 361.6,136.0 361.6,136.1 361.8,135.9 361.9,136.1 361.9,136.1 362.0,136.2 362.1,136.1 362.1,136.1 362.3,136.2 362.3,136.1 362.5,136.2 362.5,136.1 362.6,136.2 362.7,136.0 362.8,136.0 362.9,136.0 363.0,136.0 363.2,136.0 363.2,136.1 363.3,136.1 363.4,136.0 363.5,136.1 363.5,136.0 363.6,136.1 363.6,136.1 363.7,136.1 363.9,136.0 363.9,136.2 364.0,136.1 364.1,136.1 364.3,135.9 364.4,136.1 364.4,135.9 364.5,135.9 364.5,135.9 364.6,136.1 364.7,136.0 364.7,136.1 364.8,136.0 364.9,136.1 365.0,135.9 365.0,136.0 365.1,136.0 365.2,136.1 365.3,136.1 365.3,136.0 365.4,136.1 365.6,136.1 365.7,136.1 365.8,135.9 365.9,136.1 366.2,136.0 366.2,136.1 366.5,136.1 366.6,136.0 366.7,136.1 366.8,136.0 366.9,136.2 366.9,136.1 367.0,136.2 367.1,136.1 367.2,136.2 367.3,136.2 367.4,136.0 367.4,136.0 367.5,135.9 367.6,136.1 367.8,136.1 367.9,136.0 368.0,136.0 368.1,136.1 368.1,136.0 368.2,136.2 368.2,136.1 368.3,136.2 368.4,136.1 368.5,136.2 368.5,136.1 368.6,136.2 368.7,136.0 368.8,136.1 368.9,135.9 369.0,136.1 369.1,135.9 369.2,136.0 369.2,135.8 369.3,136.1 369.4,136.0 369.5,136.1 369.6,136.0 369.7,136.2 369.7,136.0 369.8,136.1 369.9,135.9 370.0,136.2 370.0,136.1 370.2,136.1 370.3,136.0 370.3,136.2 370.4,136.1 370.4,136.2 370.6,135.8 370.7,136.1 370.8,135.9 370.9,136.1 371.0,136.1 371.2,136.1 371.3,136.0 371.3,136.1 371.5,136.1 371.6,136.1 371.7,136.2 371.8,136.0 371.8,136.1 371.9,136.1 372.0,136.1 372.0,135.9 372.1,136.0 372.2,135.9 372.2,136.0 372.4,136.0 372.5,136.1 372.8,136.1 372.8,136.0 372.9,136.1 372.9,135.8 373.0,136.2 373.1,136.1 373.2,136.1 373.2,136.0 373.3,136.2 373.4,136.1 373.5,136.2 373.6,135.9 373.6,136.0 373.7,135.9 373.8,136.1 373.9,135.9 374.0,136.0 374.1,136.1 374.1,135.9 374.2,136.1 374.5,136.1 374.5,136.0 374.6,136.1 374.7,136.1 374.8,136.2 374.9,136.0 375.1,136.2 375.2,136.0 375.3,135.9 375.4,136.0 375.5,135.8 375.5,136.0 375.6,136.0 375.6,136.1 375.7,136.0 375.8,136.1 375.8,136.0 376.0,136.1 376.1,136.1 376.2,136.2 376.3,136.0 376.4,136.1 376.6,136.1 376.7,135.9 376.8,136.0 376.9,136.0 376.9,136.1 377.0,136.0 377.1,136.0 377.2,136.1 377.3,136.1 377.6,136.2 377.6,136.0 377.7,136.1 377.8,136.0 377.8,136.1 377.9,136.1 378.0,136.0 378.0,136.2 378.1,136.2 378.2,136.0 378.2,136.1 378.3,136.0 378.3,136.0 378.4,135.8 378.5,136.0 378.5,135.9 378.6,136.1 378.7,136.0 378.8,136.1 379.1,136.2 379.1,136.1 379.2,136.1 379.2,135.9 379.3,136.2 379.5,136.1 379.5,135.9 379.6,136.1 379.7,136.0 379.8,136.2 379.8,135.9 379.9,136.0 380.0,135.9 380.1,136.1 380.3,136.1 380.4,136.0 380.6,136.1 380.6,136.0 380.7,136.2 380.7,136.1 380.8,136.1 380.8,136.0 380.9,136.1 381.0,136.0 381.0,136.2 381.3,136.1 381.4,136.2 381.4,136.0 381.5,136.0 381.5,136.0 381.6,135.8 381.7,136.0 381.8,136.1 381.9,136.0 381.9,136.1 382.1,135.9 382.2,136.1 382.3,136.2 382.5,135.9 382.5,136.2 382.6,136.0 382.6,136.1 382.7,136.0 382.7,136.2 382.8,136.1 382.9,136.1 382.9,136.0 383.0,136.0 383.1,135.9 383.1,136.0 383.2,136.0 383.2,136.1 383.3,136.0 383.4,136.1 383.4,136.1 383.5,136.0 383.5,136.1 383.6,136.0 383.7,136.1 383.7,136.0 383.8,136.1 383.9,136.1 384.1,136.1 384.2,136.0 384.3,136.2 384.4,136.2 384.4,136.1 384.5,136.1 384.5,135.9 384.6,136.0 384.9,136.0 384.9,136.1 385.0,136.0 385.0,136.1 385.1,136.1 385.2,136.0 385.3,136.1 385.3,136.0 385.4,136.1 385.4,136.0 385.5,136.2 385.6,136.2 385.6,136.0 385.7,136.1 385.8,136.0 385.9,136.2 386.3,135.9 386.5,136.1 386.6,136.0 386.6,136.0 386.8,136.1 386.9,136.0 387.0,136.1 387.0,136.1 387.1,136.1 387.1,136.0 387.3,136.2 387.4,136.0 387.6,136.2 387.7,135.9 387.8,136.0 387.9,136.1 387.9,135.9 388.0,136.1 388.1,136.0 388.2,136.1 388.3,136.1 388.3,136.1 388.5,136.1 388.6,136.0 388.7,136.2 388.7,136.1 388.9,136.2 388.9,136.1 389.0,136.1 389.1,136.1 389.2,136.2 389.2,135.9 389.3,136.0 389.5,135.9 389.7,136.1 389.7,136.1 389.9,136.1 389.9,136.0 390.0,136.2 390.2,136.1 390.3,136.1 390.3,136.1 390.4,136.2 390.5,136.1 390.6,136.1 390.7,136.0 390.9,136.0 390.9,136.0 391.0,136.1 391.0,136.0 391.1,136.1 391.1,136.0 391.2,136.1 391.3,136.0 391.3,136.1 391.4,135.9 391.5,136.1 391.5,136.0 391.7,136.1 391.7,136.1 391.8,136.1 391.9,136.0 391.9,136.2 392.1,136.0 392.2,136.2 392.3,136.0 392.3,136.1 392.4,135.9 392.4,136.0 392.5,135.9 392.6,136.1 392.7,136.1 392.7,136.1 392.8,136.0 392.8,136.1 392.9,136.1 392.9,136.0 393.0,136.1 393.1,136.0 393.1,136.1 393.2,136.0 393.4,136.1 393.4,136.1 393.5,136.1 393.5,136.1 393.6,136.1 393.7,136.0 393.8,136.1 393.8,135.9 393.9,136.2 393.9,136.0 394.0,136.0 394.1,135.9 394.1,136.1 394.2,136.0 394.3,136.1 394.3,136.0 394.4,136.1 394.4,136.0 394.5,136.1 394.6,136.1 394.7,136.1 394.8,135.9 394.8,136.2 394.9,136.1 395.1,136.0 395.3,136.1 395.4,135.9 395.4,136.2 395.5,136.0 395.7,136.1 395.9,135.9 396.0,136.1 396.0,135.9 396.1,136.1 396.2,136.0 396.2,136.1 396.3,136.1 396.3,136.1 396.5,136.1 396.5,136.0 396.6,136.1 396.8,136.2 396.9,136.1 397.0,136.0 397.0,136.0 397.3,135.9 397.3,136.0 397.4,135.9 397.5,136.1 397.5,136.1 397.6,136.1 397.7,136.0 397.7,136.1 397.9,136.0 398.0,136.1 398.2,136.0 398.4,136.2 398.5,136.1 398.6,136.1 398.6,135.9 398.7,136.0 398.7,136.0 398.8,136.1 398.9,136.0 399.0,136.1 399.1,136.1 399.2,136.0 399.2,136.1 399.4,136.1 399.5,136.1 399.6,136.2 399.7,135.9 399.8,136.1 399.9,136.1 399.9,136.0 400.0,136.1 400.0,136.0 400.1,136.1 400.2,135.9"/>
<polyline stroke="#9467bd" stroke-width="1.15" stroke-opacity="0.85" points="245.3,35.1 245.4,35.1 245.5,71.7 245.5,71.7 245.6,71.4 245.6,71.8 245.7,71.7 245.8,71.8 245.9,71.7 246.0,71.9 246.0,71.8 246.1,72.0 246.1,71.8 246.2,72.0 246.2,72.0 246.3,71.9 246.3,71.9 246.4,72.1 246.4,71.9 246.5,71.9 246.8,72.9 247.5,76.5 247.5,76.7 247.6,76.7 247.9,78.4 248.2,79.9 248.3,79.8 248.9,83.6 249.3,85.7 249.5,87.1 250.8,93.4 251.6,104.5 252.2,111.4 253.0,118.1 253.1,118.2 253.1,116.2 253.2,116.7 253.3,116.4 253.4,117.0 253.4,116.9 253.6,118.5 253.7,118.3 254.0,119.0 254.0,119.1 254.1,118.9 254.1,119.3 254.2,118.7 254.3,120.0 254.3,119.4 254.4,119.7 254.4,119.6 254.5,120.2 254.6,120.2 254.6,119.6 254.7,113.0 254.7,115.1 254.8,115.3 254.8,114.3 254.9,116.5 255.0,117.6 255.1,116.8 255.1,118.4 255.2,118.5 255.2,117.2 255.3,119.2 255.3,119.2 255.4,118.5 255.5,120.2 255.6,120.8 255.6,120.1 255.7,120.3 255.8,121.8 255.9,120.2 255.9,121.7 256.0,120.5 256.0,122.0 256.1,120.1 256.2,120.0 256.3,111.7 256.3,111.9 256.4,115.0 256.5,114.4 256.5,116.6 256.6,115.4 256.6,117.7 256.7,117.3 256.8,120.1 256.9,119.4 257.0,121.1 257.0,119.3 257.1,121.1 257.1,120.5 257.2,122.2 257.2,121.4 257.3,121.3 257.4,123.2 257.5,122.9 257.5,123.3 257.6,121.5 257.7,121.7 257.7,123.7 257.8,113.9 257.9,114.0 258.0,116.6 258.0,116.4 258.1,118.2 258.1,117.8 258.2,118.6 258.3,118.5 258.3,120.7 258.4,120.8 258.4,120.4 258.6,123.1 258.7,122.4 258.7,122.5 258.8,123.5 258.9,122.2 258.9,124.4 259.0,124.6 259.2,123.5 259.2,125.1 259.3,125.0 259.3,125.2 259.4,117.0 259.5,119.3 259.6,118.8 259.7,122.1 259.8,121.7 259.8,122.6 259.9,122.5 260.0,123.5 260.1,121.5 260.2,123.6 260.2,122.8 260.3,125.1 260.3,124.5 260.4,125.2 260.5,122.6 260.5,125.3 260.6,125.2 260.6,125.9 260.7,125.6 260.7,125.7 260.8,125.4 260.8,126.8 260.9,126.3 260.9,117.0 261.1,120.3 261.2,118.6 261.3,122.3 261.3,122.5 261.4,121.7 261.4,123.4 261.5,123.8 261.6,123.3 261.6,123.6 261.7,122.9 261.8,125.2 261.8,125.4 261.9,125.1 261.9,126.0 262.0,124.8 262.0,126.1 262.2,125.3 262.2,124.2 262.3,126.4 262.4,123.7 262.5,126.5 262.5,117.7 262.6,117.1 262.6,119.8 262.7,117.3 262.8,122.0 262.9,122.8 262.9,121.6 263.0,122.9 263.0,122.7 263.1,124.5 263.1,122.9 263.2,124.9 263.2,124.8 263.3,123.3 263.3,125.4 263.4,125.0 263.4,124.9 263.6,125.3 263.6,125.1 263.7,126.6 263.8,125.0 263.9,126.1 263.9,125.4 264.0,126.9 264.1,117.0 264.3,120.8 264.3,119.7 264.4,122.1 264.4,120.8 264.6,123.9 264.6,123.5 264.8,124.7 264.8,124.8 264.9,124.6 265.0,125.6 265.0,124.8 265.1,126.3 265.2,124.6 265.2,126.1 265.3,126.9 265.4,127.0 265.5,126.3 265.5,126.4 265.6,126.1 265.6,115.9 265.7,117.5 265.7,116.3 265.8,120.4 265.9,120.7 266.0,120.2 266.1,122.6 266.1,121.4 266.3,124.4 266.3,124.6 266.4,123.6 266.5,125.4 266.6,125.0 266.7,126.0 266.7,125.2 266.8,126.6 266.9,126.2 266.9,124.5 267.0,127.3 267.1,127.3 267.2,127.4 267.2,115.7 267.3,118.2 267.3,117.8 267.4,121.0 267.5,119.4 267.5,121.2 267.7,124.4 267.8,123.9 267.9,124.3 267.9,124.0 268.0,125.8 268.1,125.9 268.2,126.6 268.3,125.0 268.4,126.6 268.5,125.4 268.5,127.3 268.6,126.7 268.7,125.8 268.7,126.1 268.8,117.2 268.8,117.4 268.9,117.0 269.0,121.2 269.1,120.4 269.1,122.5 269.2,122.5 269.3,123.8 269.4,122.3 269.4,122.6 269.5,125.7 269.6,123.1 269.7,125.7 269.7,126.3 269.9,126.9 269.9,126.5 270.0,126.5 270.1,127.4 270.2,126.2 270.3,127.6 270.3,117.8 270.4,119.8 270.4,118.9 270.6,122.4 270.6,121.6 270.7,121.8 270.8,124.8 270.9,124.9 270.9,124.8 271.0,123.9 271.0,125.0 271.1,125.1 271.1,123.8 271.2,125.8 271.3,123.5 271.3,126.6 271.4,126.9 271.4,125.6 271.5,127.4 271.6,125.4 271.7,127.7 271.8,127.8 271.8,127.7 271.9,115.9 271.9,117.8 272.1,119.2 272.1,118.2 272.2,121.2 272.3,123.0 272.3,123.2 272.4,123.2 272.5,124.8 272.5,124.7 272.6,125.2 272.7,123.2 272.7,124.9 272.8,125.0 272.8,124.5 272.9,126.8 273.0,126.5 273.0,126.0 273.1,126.2 273.1,125.0 273.3,127.7 273.3,126.8 273.4,126.7 273.4,126.9 273.5,121.0 273.6,122.9 273.6,123.2 273.7,122.4 273.9,125.5 273.9,124.2 274.0,126.2 274.1,126.2 274.1,125.1 274.2,126.5 274.2,126.6 274.3,125.9 274.4,126.8 274.5,125.8 274.5,127.0 274.6,126.4 274.7,126.9 274.7,126.2 274.8,126.3 274.8,127.8 274.9,127.0 274.9,127.2 275.0,127.1 275.1,120.2 275.2,123.9 275.3,122.1 275.4,125.3 275.5,124.0 275.5,126.1 275.7,125.2 275.7,126.1 275.8,124.9 275.8,127.0 275.9,127.2 275.9,126.5 276.0,127.3 276.0,126.5 276.1,127.7 276.1,126.5 276.2,127.7 276.3,127.9 276.3,127.1 276.4,128.1 276.5,126.7 276.6,120.5 276.6,119.8 276.7,121.7 276.8,122.9 276.9,120.4 277.0,124.6 277.1,124.5 277.1,124.7 277.2,125.6 277.3,125.4 277.4,126.7 277.4,126.8 277.5,126.9 277.5,126.2 277.6,127.1 277.6,125.6 277.7,127.8 277.7,126.9 277.8,127.8 277.8,126.7 277.9,127.2 278.0,126.5 278.1,128.1 278.1,127.5 278.2,118.7 278.2,121.0 278.3,120.6 278.3,120.8 278.4,122.5 278.5,121.1 278.6,125.1 278.7,126.0 278.8,126.2 278.9,124.9 279.0,127.1 279.1,125.8 279.1,127.3 279.2,126.5 279.3,127.6 279.5,125.4 279.5,127.8 279.6,128.2 279.6,126.5 279.7,128.1 279.7,119.7 279.8,119.7 279.9,123.0 279.9,121.9 280.0,124.5 280.1,124.2 280.2,125.6 280.2,124.7 280.3,126.0 280.3,126.3 280.4,126.2 280.5,127.0 280.6,125.6 280.7,127.4 280.8,126.8 280.8,126.8 280.9,126.5 281.0,127.5 281.1,127.5 281.1,127.1 281.2,128.2 281.2,127.1 281.3,117.9 281.4,118.4 281.4,121.2 281.5,121.5 281.5,121.2 281.6,122.8 281.6,123.4 281.8,123.7 281.9,125.9 281.9,122.5 282.0,126.1 282.0,126.2 282.1,125.7 282.2,127.3 282.2,126.2 282.3,126.8 282.3,126.3 282.4,127.4 282.4,126.8 282.5,127.5 282.5,127.1 282.6,128.1 282.7,126.6 282.7,128.2 282.8,128.3 282.8,120.8 283.0,121.3 283.0,122.7 283.1,123.8 283.2,124.1 283.3,125.1 283.4,126.3 283.5,124.5 283.6,126.9 283.7,126.8 283.7,126.9 283.8,126.5 283.8,127.8 283.9,126.2 284.0,128.2 284.0,126.4 284.1,127.7 284.2,125.6 284.2,128.5 284.3,127.9 284.4,118.7 284.5,120.1 284.7,122.7 284.8,124.1 284.8,123.4 284.9,123.3 284.9,124.8 285.0,124.5 285.0,125.7 285.1,124.9 285.2,127.0 285.2,126.9 285.3,125.5 285.5,127.8 285.6,127.2 285.6,128.2 285.7,127.3 285.7,127.2 285.8,128.2 285.8,127.8 285.9,128.6 286.0,118.6 286.1,122.8 286.1,122.2 286.2,123.9 286.2,123.4 286.3,124.6 286.3,123.6 286.4,125.8 286.6,126.3 286.7,125.1 286.9,127.4 287.0,126.2 287.0,128.0 287.1,127.7 287.1,128.3 287.2,127.9 287.3,126.4 287.4,128.3 287.4,127.5 287.5,127.6 287.5,121.0 287.6,122.4 287.6,121.1 287.7,122.3 287.8,121.8 287.8,124.4 287.9,125.0 288.0,124.3 288.1,126.3 288.2,126.9 288.2,126.9 288.3,126.3 288.3,127.3 288.4,127.3 288.4,126.3 288.5,126.9 288.6,126.3 288.6,127.3 288.8,128.5 288.8,127.7 288.9,128.2 289.0,126.4 289.1,127.3 289.1,118.5 289.2,118.2 289.3,122.5 289.4,122.4 289.4,121.1 289.5,124.1 289.7,125.8 289.7,123.8 289.9,126.8 289.9,125.6 290.0,126.9 290.0,125.5 290.1,127.6 290.1,126.8 290.3,128.2 290.3,126.6 290.5,128.6 290.5,125.5 290.6,128.3 290.7,121.6 290.8,123.1 290.8,122.5 290.9,123.8 291.0,124.3 291.0,125.4 291.1,125.5 291.1,126.2 291.2,126.4 291.2,125.5 291.3,127.0 291.3,125.4 291.5,127.6 291.6,127.4 291.6,127.9 291.7,125.8 291.7,128.1 291.8,128.3 291.9,126.9 292.0,128.7 292.1,126.3 292.2,128.8 292.2,121.5 292.4,123.2 292.5,125.4 292.5,124.1 292.6,125.3 292.7,125.0 292.7,125.2 292.8,126.7 292.9,126.0 293.0,126.9 293.0,126.7 293.1,127.5 293.2,127.6 293.2,127.1 293.3,127.7 293.4,127.8 293.4,127.6 293.5,128.7 293.6,127.3 293.7,128.9 293.7,128.3 293.8,118.4 294.0,122.4 294.0,121.6 294.1,123.6 294.2,123.0 294.3,126.0 294.4,124.7 294.5,126.6 294.6,126.2 294.6,127.0 294.7,124.5 294.7,127.2 294.8,127.7 294.9,126.8 294.9,128.1 295.0,126.6 295.1,128.2 295.1,125.3 295.2,127.0 295.3,126.5 295.3,127.7 295.4,120.0 295.4,119.7 295.5,122.6 295.6,123.9 295.7,123.9 295.7,123.5 295.8,125.0 295.8,123.2 295.9,126.0 295.9,126.4 296.0,125.5 296.1,126.0 296.1,126.0 296.3,127.6 296.4,128.0 296.4,126.1 296.5,128.0 296.6,127.1 296.6,128.4 296.7,127.8 296.7,128.1 296.8,127.3 296.9,127.7 296.9,119.2 297.0,121.3 297.1,120.0 297.1,121.9 297.3,125.0 297.4,125.0 297.4,125.3 297.5,124.4 297.6,126.5 297.6,125.9 297.7,126.0 297.8,127.3 297.8,126.9 297.9,127.7 297.9,127.3 298.0,127.4 298.0,128.1 298.1,127.6 298.1,128.3 298.3,127.2 298.4,127.2 298.4,128.6 298.5,118.6 298.7,122.2 298.8,121.6 298.9,123.9 299.0,125.4 299.1,123.7 299.1,126.2 299.2,124.1 299.3,126.4 299.3,123.5 299.4,127.4 299.4,126.6 299.5,127.3 299.5,125.8 299.7,128.2 299.7,127.8 299.8,127.8 299.9,128.3 300.0,127.2 300.0,128.3 300.1,121.5 300.3,124.6 300.3,123.8 300.5,126.0 300.5,125.2 300.6,126.4 300.7,125.0 300.7,127.1 300.8,126.7 300.9,124.9 301.0,127.6 301.0,127.8 301.1,126.4 301.2,128.3 301.3,127.3 301.3,127.2 301.4,128.1 301.5,126.9 301.5,127.3 301.6,126.8 301.6,117.6 301.7,117.4 301.7,119.7 301.9,122.0 301.9,121.5 302.0,121.7 302.0,124.0 302.1,122.9 302.1,123.2 302.2,124.7 302.4,124.7 302.5,126.9 302.5,126.1 302.6,127.0 302.6,125.5 302.7,127.6 302.8,125.8 302.9,127.4 303.0,127.0 303.1,128.2 303.1,128.3 303.2,118.6 303.3,119.6 303.3,119.0 303.4,121.2 303.4,120.1 303.5,122.5 303.7,124.9 303.8,124.8 303.8,124.1 303.9,125.0 303.9,125.0 304.0,124.1 304.0,126.7 304.1,127.0 304.2,126.1 304.2,127.5 304.3,126.8 304.4,127.5 304.4,126.9 304.5,128.3 304.6,126.0 304.6,127.6 304.7,127.5 304.8,118.5 304.8,118.3 304.9,120.2 304.9,120.0 305.1,123.4 305.1,121.6 305.2,124.5 305.2,123.4 305.3,125.1 305.3,124.8 305.4,125.8 305.5,124.3 305.6,126.2 305.6,125.8 305.7,125.8 305.7,126.4 305.8,125.4 305.8,126.8 306.0,126.4 306.0,127.7 306.1,125.6 306.2,127.6 306.3,126.5 306.3,118.8 306.4,119.1 306.7,122.6 306.8,122.5 306.9,124.8 306.9,125.0 307.0,123.9 307.0,124.1 307.1,124.0 307.1,125.4 307.3,122.2 307.4,126.0 307.5,126.0 307.5,125.9 307.6,126.6 307.6,125.4 307.7,125.4 307.8,126.2 307.8,125.7 307.9,117.6 308.0,121.0 308.1,121.0 308.1,121.5 308.2,121.3 308.2,122.7 308.3,122.8 308.3,122.0 308.4,123.3 308.5,123.7 308.5,123.1 308.6,124.0 308.6,122.9 308.7,124.6 308.7,122.3 308.8,124.8 308.9,122.1 309.0,125.2 309.1,122.3 309.2,125.5 309.2,123.3 309.3,125.4 309.3,125.2 309.4,124.3 309.4,117.1 309.5,117.9 309.7,120.4 309.8,120.7 309.8,121.9 309.9,121.9 309.9,120.7 310.0,122.8 310.0,123.3 310.1,122.5 310.1,124.0 310.2,123.8 310.2,124.1 310.3,123.8 310.4,124.9 310.4,124.5 310.5,124.8 310.6,123.5 310.6,125.5 310.7,125.5 310.7,124.6 310.8,125.6 310.9,125.0 311.0,125.4 311.0,116.1 311.1,118.8 311.2,118.8 311.3,120.8 311.3,121.2 311.4,120.8 311.4,122.5 311.5,122.1 311.7,124.7 311.8,122.3 311.8,125.0 311.9,124.9 311.9,125.5 312.1,125.6 312.1,124.2 312.3,126.3 312.3,126.5 312.4,124.4 312.4,126.3 312.5,126.6 312.6,118.8 312.6,119.6 312.7,118.7 312.7,120.9 312.8,120.5 312.9,122.8 312.9,121.7 313.0,123.5 313.1,123.4 313.1,124.1 313.2,123.9 313.3,125.3 313.3,125.6 313.4,124.2 313.4,125.8 313.5,124.9 313.6,126.4 313.7,125.1 313.8,127.0 313.8,126.4 313.9,127.1 314.0,126.1 314.1,127.5 314.1,121.0 314.2,120.9 314.2,122.5 314.6,125.5 314.6,125.6 314.7,124.0 314.9,126.7 314.9,126.7 315.0,126.9 315.1,126.6 315.1,126.7 315.2,127.6 315.2,126.5 315.3,127.7 315.4,125.6 315.4,128.0 315.5,128.0 315.5,127.6 315.6,127.7 315.7,126.8 315.7,121.4 315.9,123.8 315.9,123.1 316.0,124.8 316.0,124.5 316.1,124.6 316.2,126.2 316.3,126.1 316.3,126.8 316.4,126.5 316.5,127.2 316.6,127.3 316.6,127.9 316.8,128.3 316.8,127.9 317.0,127.8 317.0,128.4 317.1,127.8 317.2,129.0 317.2,128.7 317.3,123.3 317.4,124.3 317.5,124.2 317.5,126.1 317.7,126.9 317.7,126.7 317.8,127.3 317.8,127.4 317.9,127.4 317.9,128.2 318.0,128.3 318.2,128.0 318.3,129.0 318.4,129.1 318.4,128.8 318.5,129.4 318.6,128.1 318.6,128.6 318.7,127.6 318.8,129.5 318.8,125.9 318.9,126.4 318.9,125.9 319.0,126.1 319.0,127.4 319.1,127.6 319.2,128.2 319.2,127.5 319.4,128.8 319.5,128.6 319.5,126.8 319.6,129.1 319.7,128.3 319.8,129.1 319.8,129.3 319.9,129.2 319.9,129.2 320.0,129.8 320.0,129.8 320.1,129.8 320.1,130.0 320.2,128.9 320.2,129.5 320.3,129.8 320.4,125.7 320.6,127.0 320.6,127.2 320.7,126.9 320.7,128.2 320.8,127.9 320.8,128.6 320.9,128.8 321.0,128.8 321.2,129.5 321.2,129.1 321.3,129.9 321.4,128.6 321.4,130.0 321.5,130.2 321.5,129.6 321.6,130.2 321.6,130.0 321.7,130.3 321.8,129.9 321.8,130.1 321.9,130.0 321.9,130.6 322.0,126.7 322.1,127.9 322.2,127.2 322.2,128.3 322.3,127.9 322.4,129.5 322.5,128.8 322.6,129.7 322.6,128.8 322.7,129.8 322.8,129.7 322.8,130.2 322.9,129.4 323.0,129.4 323.0,130.4 323.1,129.9 323.1,130.8 323.2,130.8 323.2,130.2 323.3,131.0 323.4,130.0 323.5,130.6 323.5,127.7 323.7,128.6 323.7,128.1 323.8,129.0 323.8,129.0 323.9,128.8 323.9,129.7 324.0,129.3 324.0,130.0 324.2,130.1 324.3,129.9 324.3,130.6 324.4,130.1 324.4,130.5 324.5,130.4 324.6,130.9 324.6,130.2 324.7,130.9 324.8,129.6 324.8,130.9 324.9,130.8 325.0,131.2 325.1,127.0 325.1,126.7 325.5,129.4 325.5,128.8 325.6,129.6 325.6,128.8 325.7,129.5 325.7,129.3 325.8,130.2 325.8,129.9 325.9,130.4 326.0,130.1 326.1,130.8 326.1,130.3 326.2,130.9 326.3,130.7 326.3,131.2 326.4,130.7 326.4,131.2 326.5,130.7 326.6,131.3 326.7,127.9 326.7,128.5 326.8,128.1 326.8,129.0 327.0,129.6 327.1,130.0 327.2,130.4 327.3,130.4 327.3,130.7 327.4,130.0 327.5,131.0 327.6,130.7 327.7,131.2 327.8,130.5 327.9,131.2 327.9,131.1 328.0,131.2 328.0,130.9 328.1,131.4 328.1,131.5 328.2,131.2 328.2,127.6 328.3,127.2 328.3,128.5 328.5,129.3 328.5,129.1 328.6,129.4 328.6,128.8 328.7,130.2 328.7,129.9 328.8,129.8 328.8,129.9 328.9,130.4 328.9,130.2 329.1,131.0 329.1,130.9 329.2,130.1 329.2,131.3 329.3,131.3 329.3,131.1 329.4,131.5 329.5,131.0 329.6,131.6 329.6,131.4 329.7,131.6 329.7,131.3 329.8,128.7 329.8,128.9 329.9,128.6 329.9,129.3 330.0,129.3 330.0,129.5 330.1,130.0 330.1,129.9 330.2,130.3 330.3,130.3 330.4,130.5 330.5,130.5 330.6,131.3 330.7,131.3 330.7,131.5 330.9,131.2 330.9,131.6 331.0,131.2 331.0,131.5 331.1,131.5 331.2,131.8 331.3,131.8 331.3,128.7 331.4,128.6 331.5,129.3 331.6,129.4 331.6,129.4 331.7,130.2 331.8,129.1 331.8,130.8 331.9,130.6 331.9,131.1 332.0,130.6 332.1,131.3 332.1,131.1 332.2,131.4 332.3,131.0 332.3,131.3 332.4,131.2 332.4,131.6 332.5,131.3 332.5,131.9 332.7,131.6 332.7,131.1 332.8,132.0 332.8,131.9 332.9,131.6 332.9,128.2 333.1,129.7 333.2,128.9 333.3,130.3 333.3,129.8 333.4,130.7 333.5,130.7 333.6,131.3 333.6,131.2 333.7,131.3 333.9,131.7 334.0,131.4 334.0,131.8 334.1,131.6 334.1,131.8 334.2,130.9 334.3,131.8 334.3,132.0 334.4,132.0 334.5,128.6 334.7,130.0 334.8,130.5 334.9,130.5 335.0,131.0 335.1,131.2 335.2,130.9 335.3,131.6 335.3,131.4 335.4,131.8 335.4,131.8 335.5,131.9 335.5,131.7 335.6,132.0 335.6,132.0 335.7,131.8 335.8,132.0 335.8,132.1 335.9,131.8 336.0,132.1 336.0,129.3 336.2,130.1 336.3,129.7 336.4,130.7 336.5,130.7 336.6,131.3 336.6,130.9 336.8,131.8 336.8,131.7 336.9,131.8 336.9,131.8 337.0,131.9 337.0,131.6 337.2,132.3 337.2,132.0 337.3,132.3 337.4,132.4 337.5,132.3 337.6,131.6 337.6,128.6 337.9,130.5 337.9,130.2 338.1,130.8 338.1,130.7 338.2,131.5 338.2,131.2 338.3,131.7 338.4,131.4 338.5,131.9 338.5,131.7 338.6,132.2 338.7,132.1 338.8,132.4 338.9,132.0 338.9,132.5 339.0,132.1 339.0,132.5 339.1,132.4 339.2,130.4 339.2,131.0 339.3,130.8 339.3,130.9 339.4,131.4 339.4,131.2 339.5,131.6 339.5,131.6 339.6,131.4 339.7,131.9 339.7,131.8 339.8,131.8 339.8,132.2 339.9,131.8 340.0,132.4 340.1,132.4 340.1,132.2 340.3,132.5 340.4,131.9 340.4,132.6 340.5,132.2 340.5,132.5 340.6,132.2 340.6,132.5 340.7,132.5 340.7,130.6 340.8,130.8 340.9,131.5 341.0,131.5 341.1,131.9 341.2,131.6 341.2,132.0 341.3,132.0 341.4,132.3 341.4,131.4 341.5,132.4 341.5,132.1 341.6,132.5 341.6,132.5 341.7,131.9 341.7,132.4 341.8,132.4 341.9,132.7 342.0,132.1 342.0,132.8 342.1,132.8 342.1,132.5 342.2,132.8 342.3,130.2 342.5,131.2 342.6,131.0 342.6,131.1 342.7,131.8 342.8,131.7 343.0,132.3 343.1,132.3 343.2,132.6 343.3,132.4 343.3,132.7 343.4,132.6 343.5,132.7 343.6,132.2 343.7,132.9 343.8,132.7 343.9,130.7 343.9,131.0 344.0,130.5 344.0,131.2 344.1,131.4 344.2,131.8 344.2,131.4 344.3,131.9 344.3,131.5 344.4,132.1 344.5,132.4 344.6,132.1 344.6,132.6 344.7,132.5 344.8,132.6 344.8,132.4 344.9,132.8 344.9,132.3 345.0,132.9 345.1,132.8 345.2,132.4 345.2,133.0 345.3,133.0 345.3,132.7 345.4,132.8 345.4,131.2 345.5,131.5 345.6,131.0 345.6,131.7 345.7,131.9 345.8,131.8 345.9,132.5 346.1,132.5 346.1,132.7 346.2,132.8 346.5,132.9 346.6,132.8 346.6,133.0 346.7,133.0 346.7,132.6 346.8,133.0 346.8,132.7 346.9,132.9 346.9,132.8 347.0,131.5 347.1,131.4 347.3,132.2 347.3,132.0 347.4,132.1 347.4,132.5 347.5,132.4 347.5,132.5 347.6,132.7 347.8,132.7 347.8,133.0 347.9,132.7 347.9,133.0 348.0,132.9 348.0,132.9 348.1,132.8 348.1,133.1 348.4,133.0 348.5,132.8 348.5,133.1 348.6,131.6 348.6,131.9 348.7,131.9 348.8,132.2 348.8,132.2 348.9,132.5 348.9,132.1 349.0,132.6 349.0,132.4 349.1,132.7 349.2,132.6 349.3,132.8 349.3,132.5 349.4,132.9 349.5,133.0 349.5,133.1 349.7,133.0 349.8,133.1 349.9,132.8 349.9,133.3 350.0,133.1 350.0,133.2 350.1,133.2 350.1,131.3 350.2,131.4 350.2,131.1 350.3,131.9 350.3,132.0 350.4,131.9 350.5,132.5 350.5,132.5 350.6,132.3 350.7,132.9 350.8,132.7 350.9,133.0 350.9,133.0 351.0,133.1 351.0,132.8 351.2,133.2 351.2,133.0 351.3,133.2 351.4,133.3 351.5,133.3 351.5,133.0 351.6,133.3 351.6,133.2 351.7,131.3 351.7,131.3 351.8,131.9 351.9,131.8 351.9,131.8 352.0,132.3 352.1,132.3 352.1,132.6 352.2,132.5 352.3,132.8 352.3,132.8 352.4,132.5 352.5,133.2 352.6,132.6 352.7,133.2 352.7,133.3 352.8,133.2 352.8,133.4 352.9,133.2 353.0,133.4 353.1,133.4 353.2,133.5 353.3,131.6 353.5,132.3 353.5,132.4 353.6,132.1 353.6,132.7 353.7,132.4 353.9,133.1 354.0,133.1 354.0,132.9 354.1,133.2 354.1,133.0 354.2,133.4 354.3,133.3 354.3,133.4 354.4,133.1 354.4,133.5 354.5,133.3 354.6,133.5 354.7,133.4 354.8,133.4 354.9,131.6 354.9,132.3 355.0,132.2 355.0,132.6 355.1,132.4 355.2,132.8 355.2,132.6 355.3,133.1 355.4,133.0 355.5,133.2 355.5,133.0 355.6,133.4 355.9,133.5 355.9,133.4 356.0,133.4 356.1,133.6 356.2,133.4 356.2,133.6 356.3,133.3 356.4,132.2 356.5,132.7 356.7,132.9 356.7,132.9 356.8,133.1 356.9,132.9 357.0,133.4 357.1,133.2 357.1,133.3 357.2,133.2 357.2,133.5 357.3,133.3 357.3,133.4 357.4,133.4 357.4,133.5 357.5,133.3 357.6,133.7 357.7,133.7 357.7,133.4 357.8,133.7 357.8,133.6 357.9,133.7 357.9,132.7 358.0,132.9 358.0,132.9 358.2,133.2 358.3,133.1 358.4,133.5 358.5,133.5 358.6,133.4 358.7,133.6 358.8,133.5 358.8,133.6 358.9,133.6 358.9,133.7 359.0,133.4 359.2,133.8 359.2,133.6 359.3,133.8 359.4,133.7 359.5,133.9 359.5,132.6 359.7,133.0 359.7,133.0 359.8,133.2 359.9,133.1 359.9,133.3 360.0,133.2 360.0,133.3 360.1,133.6 360.2,133.3 360.3,133.7 360.4,133.7 360.5,133.5 360.6,133.7 360.7,133.8 360.8,133.6 360.9,133.9 360.9,133.7 361.0,133.9 361.0,133.8 361.1,132.9 361.1,133.0 361.2,133.0 361.4,133.5 361.5,133.3 361.6,133.5 361.7,133.4 361.8,133.7 361.9,133.5 361.9,133.7 362.0,133.5 362.1,133.7 362.1,133.8 362.2,133.6 362.3,133.8 362.4,133.6 362.5,133.8 362.6,133.5 362.6,132.5 362.7,133.0 362.8,132.8 362.9,133.2 363.0,133.1 363.1,133.4 363.1,133.4 363.2,133.3 363.3,133.6 363.4,133.3 363.5,133.7 363.6,133.5 363.7,133.8 363.8,133.7 363.9,133.8 364.0,133.8 364.1,133.7 364.1,133.9 364.2,132.8 364.3,133.1 364.3,132.9 364.4,133.3 364.5,133.4 364.6,133.3 364.7,133.6 364.9,133.7 365.0,133.6 365.0,133.7 365.1,133.7 365.1,133.8 365.3,133.6 365.5,133.9 365.6,133.7 365.6,133.7 365.7,133.6 365.7,133.7 365.8,132.6 365.9,133.1 366.1,133.3 366.1,133.1 366.2,133.5 366.3,133.3 366.6,133.8 366.7,133.6 366.7,133.8 366.8,133.8 367.0,133.7 367.1,133.9 367.2,133.7 367.3,133.8 367.3,132.9 367.4,132.9 367.4,133.1 367.5,133.0 367.5,133.3 367.7,133.3 367.7,133.5 367.8,133.4 367.9,133.5 368.0,133.5 368.1,133.7 368.1,133.6 368.3,133.8 368.3,133.8 368.4,133.7 368.7,133.9 368.8,133.6 368.8,133.8 368.9,133.0 369.1,133.3 369.2,133.2 369.3,133.5 369.4,133.5 369.6,133.6 369.6,133.6 369.7,133.8 369.7,133.7 369.8,133.6 369.8,133.8 369.9,133.7 370.0,133.9 370.1,133.7 370.1,133.8 370.2,133.8 370.3,133.9 370.3,133.9 370.4,134.0 370.4,133.9 370.5,132.9 370.7,133.4 370.8,133.3 370.8,133.4 370.9,133.4 371.0,133.6 371.1,133.7 371.2,133.6 371.2,133.8 371.3,133.7 371.5,133.7 371.5,133.8 371.6,133.8 371.8,133.9 371.8,133.7 371.9,133.9 372.0,133.9 372.0,133.1 372.1,133.2 372.1,133.1 372.2,133.3 372.5,133.7 372.6,133.5 372.7,133.7 372.7,133.6 372.8,133.8 373.0,133.8 373.0,133.9 373.1,133.8 373.2,133.9 373.3,133.9 373.4,133.8 373.5,133.9 373.5,133.9 373.6,133.1 373.7,133.4 373.8,133.3 373.8,133.5 373.9,133.4 374.2,133.7 374.2,133.7 374.4,133.8 374.5,133.8 374.6,133.9 374.7,133.9 374.7,133.8 374.8,133.9 374.9,133.8 375.0,133.9 375.0,133.9 375.1,134.0 375.2,133.3 375.2,133.4 375.3,133.2 375.4,133.6 375.5,133.5 375.6,133.7 375.7,133.7 375.7,133.8 375.8,133.7 375.8,133.8 375.9,133.9 376.1,133.8 376.2,133.9 376.2,133.6 376.4,133.9 376.4,134.0 376.5,133.8 376.6,133.9 376.8,133.3 376.9,133.7 377.0,133.5 377.1,133.6 377.1,133.6 377.2,133.8 377.4,133.7 377.6,133.9 377.7,133.9 377.7,133.8 377.8,133.9 378.0,133.8 378.1,134.0 378.2,134.0 378.3,133.2 378.4,133.1 378.5,133.5 378.7,133.5 378.8,133.7 378.8,133.7 378.9,133.8 379.0,133.7 379.1,133.8 379.2,133.7 379.2,133.9 379.3,133.7 379.4,133.9 379.8,133.9 379.8,133.2 380.0,133.2 380.1,133.5 380.1,133.3 380.2,133.5 380.2,133.5 380.3,133.7 380.4,133.5 380.5,133.8 380.6,133.8 380.7,133.8 380.8,133.7 380.8,133.9 380.9,133.8 381.0,133.9 381.0,133.9 381.1,134.0 381.2,133.8 381.2,134.0 381.4,134.0 381.4,133.4 381.6,133.4 381.6,133.5 381.7,133.3 381.8,133.7 381.9,133.7 382.0,133.8 382.1,133.8 382.2,133.9 382.2,133.9 382.3,133.7 382.4,133.9 382.4,133.7 382.5,133.9 382.6,133.8 382.6,134.0 382.7,133.9 382.7,134.0 382.8,133.9 382.8,134.0 382.9,133.8 382.9,133.9 383.0,133.1 383.2,133.5 383.3,133.5 383.3,133.4 383.4,133.6 383.5,133.7 383.5,133.6 383.6,133.7 383.7,133.6 383.7,133.8 383.8,133.8 383.9,133.9 384.0,133.8 384.1,134.0 384.2,133.9 384.3,134.0 384.4,133.8 384.5,134.0 384.5,133.4 384.6,133.4 384.6,133.1 384.7,133.5 384.8,133.6 384.9,133.5 384.9,133.7 385.0,133.7 385.1,133.8 385.1,133.7 385.2,133.7 385.3,133.9 385.3,133.7 385.4,134.0 385.4,133.7 385.5,134.0 385.6,133.8 385.6,134.0 385.7,133.9 385.8,134.0 385.8,133.9 385.9,133.8 386.1,134.0 386.1,133.6 386.3,133.6 386.3,133.7 386.4,133.4 386.5,133.8 386.5,133.7 386.6,133.9 386.7,133.8 386.7,133.9 386.8,133.8 386.8,133.9 386.9,133.8 387.1,133.9 387.1,133.9 387.2,133.7 387.3,134.0 387.4,133.8 387.5,134.0 387.5,134.0 387.6,133.9 387.7,133.2 387.7,133.6 387.8,133.6 387.8,133.4 387.9,133.7 387.9,133.6 388.0,133.8 388.1,133.6 388.1,133.9 388.2,133.6 388.2,133.9 388.4,133.9 388.5,134.0 388.7,133.8 388.8,134.0 388.9,133.9 389.1,134.0 389.2,134.0 389.2,133.3 389.3,133.5 389.4,133.4 389.5,133.6 389.5,133.6 389.7,133.7 389.7,133.7 389.8,133.8 389.8,133.7 389.9,133.9 390.0,133.8 390.1,133.9 390.1,133.7 390.2,134.0 390.4,134.0 390.5,133.9 390.6,134.0 390.6,133.9 390.7,134.1 390.8,133.4 390.9,133.7 391.0,133.7 391.1,133.8 391.2,133.6 391.3,133.9 391.4,133.8 391.4,134.0 391.5,133.9 391.6,134.0 391.6,134.0 391.7,133.9 391.7,134.0 391.8,133.8 391.8,134.0 391.9,133.9 391.9,134.1 392.3,133.9 392.3,134.1 392.4,133.6 392.5,133.6 392.5,133.8 392.6,133.8 392.7,133.7 392.7,133.8 392.8,133.7 392.9,134.0 393.1,133.9 393.2,134.0 393.2,134.0 393.3,134.0 393.4,133.9 393.4,134.0 393.5,133.9 393.6,134.1 393.8,133.9 393.9,134.0 393.9,133.5 394.2,133.8 394.2,133.7 394.3,133.8 394.3,133.7 394.4,133.9 394.4,133.8 394.5,133.9 394.6,133.8 394.6,134.0 394.7,133.9 394.7,134.0 394.8,133.9 394.8,134.0 394.9,133.7 394.9,133.9 395.0,134.1 395.1,133.7 395.2,134.1 395.2,134.0 395.3,134.1 395.3,133.9 395.4,134.1 395.5,133.7 395.6,133.7 395.6,133.8 395.9,133.9 396.0,133.8 396.0,133.9 396.1,133.8 396.2,134.0 396.3,134.0 396.3,133.9 396.4,134.1 396.6,134.0 396.7,134.1 396.7,134.0 396.8,134.1 396.9,134.0 397.0,134.1 397.1,133.5 397.3,133.8 397.3,133.7 397.4,133.7 397.5,133.9 397.5,133.8 397.6,133.9 397.6,133.9 397.7,134.0 397.8,134.0 397.8,133.9 397.9,134.1 398.1,133.9 398.2,134.1 398.2,134.0 398.3,134.1 398.4,134.0 398.4,134.0 398.5,133.9 398.5,134.0 398.7,133.5 398.8,133.8 398.9,133.8 398.9,133.9 399.0,133.9 399.1,133.8 399.2,134.0 399.4,133.9 399.5,134.1 399.6,134.0 399.7,134.0 399.8,134.1 399.9,133.9 400.0,134.1 400.0,133.9 400.1,134.1 400.1,134.0 400.2,133.6"/>
<polyline stroke="#d62728" stroke-width="1.15" stroke-opacity="0.85" points="245.3,16.5 245.8,58.8 246.0,72.0 246.1,72.0 246.1,78.5 246.3,86.2 246.4,85.8 246.4,88.0 246.5,88.1 246.6,82.6 246.6,89.9 246.7,87.1 246.8,90.9 246.9,79.9 247.1,85.5 247.1,86.2 247.2,84.8 247.2,88.4 247.3,87.8 247.4,92.6 247.4,92.1 247.6,96.0 247.7,93.0 247.8,97.3 247.8,97.8 247.9,95.7 247.9,98.8 248.0,96.0 248.1,98.8 248.2,99.5 248.2,101.9 248.3,100.1 248.3,101.6 248.4,94.9 248.6,98.8 248.7,98.0 248.7,99.9 248.8,98.4 248.8,100.2 248.9,99.9 249.0,102.1 249.1,101.2 249.1,102.3 249.2,102.1 249.2,103.9 249.3,102.5 249.3,104.9 249.4,102.4 249.4,105.1 249.5,105.0 249.5,102.2 249.6,105.3 249.7,103.4 249.8,106.0 249.9,104.5 249.9,106.2 250.0,103.1 250.1,105.3 250.1,105.5 250.3,101.2 250.3,106.5 250.4,106.6 250.5,105.5 250.5,106.1 250.6,105.9 250.6,103.8 250.7,107.9 250.7,108.6 250.8,108.2 250.8,105.5 250.9,109.2 250.9,109.4 251.0,108.6 251.0,108.8 251.1,108.5 251.2,106.9 251.2,109.2 251.3,106.1 251.4,110.6 251.5,110.9 251.6,101.6 251.8,108.3 251.8,107.1 251.9,108.9 252.0,107.7 252.0,109.3 252.1,107.1 252.1,107.6 252.2,107.3 252.2,109.8 252.3,105.2 252.3,109.6 252.4,108.4 252.5,111.3 252.6,111.2 252.7,109.0 252.8,111.2 252.8,111.2 252.9,111.8 253.0,108.6 253.0,108.8 253.1,111.6 253.1,104.7 253.2,105.6 253.2,105.2 253.3,106.2 253.3,103.8 253.4,108.5 253.5,107.5 253.6,110.1 253.6,105.1 253.7,110.1 253.7,107.5 253.8,111.2 253.9,109.5 253.9,109.5 254.0,110.4 254.1,109.4 254.1,112.3 254.2,109.3 254.3,111.9 254.3,111.8 254.4,110.9 254.4,113.0 254.5,108.3 254.5,112.2 254.6,111.9 254.7,105.8 254.8,109.8 254.8,108.5 254.9,111.1 255.0,111.2 255.1,109.2 255.2,110.1 255.3,112.7 255.3,112.3 255.4,112.3 255.4,110.7 255.5,112.7 255.5,112.3 255.6,113.2 255.7,110.9 255.8,113.7 255.9,112.9 255.9,113.5 256.0,113.1 256.1,111.5 256.1,112.1 256.3,110.3 256.3,110.9 256.4,110.6 256.4,113.2 256.5,112.8 256.6,113.7 256.7,108.9 256.7,113.4 256.9,114.8 256.9,113.6 257.0,115.1 257.1,114.2 257.1,114.7 257.2,111.9 257.3,114.5 257.3,114.1 257.4,115.2 257.5,115.1 257.5,113.5 257.6,115.0 257.6,112.6 257.7,114.1 257.7,110.3 257.8,113.8 257.8,110.7 257.9,110.8 257.9,112.4 258.0,109.9 258.1,108.8 258.1,112.9 258.2,109.0 258.3,113.4 258.4,112.7 258.4,114.3 258.5,114.4 258.5,113.7 258.8,115.0 258.8,111.8 259.0,115.9 259.1,115.3 259.1,115.7 259.2,113.5 259.2,115.4 259.3,116.0 259.4,108.6 259.5,112.2 259.5,112.5 259.6,110.2 259.6,112.3 259.7,110.7 259.7,112.0 259.8,111.9 259.9,113.4 260.0,114.9 260.0,111.7 260.1,115.3 260.2,114.3 260.3,114.4 260.3,116.0 260.4,113.7 260.4,116.1 260.6,112.1 260.7,115.9 260.7,114.1 260.8,116.5 260.8,116.6 260.9,116.3 260.9,109.2 261.0,112.3 261.1,111.1 261.2,113.9 261.3,113.4 261.4,112.8 261.4,114.1 261.5,113.0 261.6,115.4 261.6,112.0 261.7,116.2 261.7,114.1 261.8,113.9 261.8,116.4 261.9,110.9 262.0,116.4 262.0,115.3 262.1,116.1 262.1,114.8 262.3,115.9 262.4,117.3 262.5,116.6 262.6,108.8 262.6,112.1 262.7,112.0 262.7,112.4 262.8,114.7 262.8,112.0 262.9,115.3 263.0,113.0 263.0,114.7 263.1,113.3 263.2,116.3 263.2,116.2 263.3,117.0 263.3,117.0 263.4,113.9 263.5,115.8 263.6,113.0 263.6,115.9 263.7,114.7 263.7,116.6 263.8,116.9 263.8,116.1 263.9,116.6 263.9,116.1 264.0,118.0 264.1,111.4 264.2,114.0 264.3,113.1 264.5,116.3 264.5,115.6 264.6,116.3 264.6,114.8 264.8,116.8 264.9,115.8 264.9,115.7 265.0,116.7 265.1,116.8 265.1,116.4 265.2,118.2 265.2,115.4 265.4,118.3 265.4,116.1 265.5,118.3 265.6,113.0 265.7,116.0 265.8,117.9 265.8,117.1 265.9,117.0 266.0,117.0 266.0,118.5 266.1,118.6 266.1,117.5 266.2,117.9 266.2,117.8 266.3,119.3 266.4,117.3 266.4,118.6 266.5,118.7 266.5,118.2 266.6,119.8 266.7,118.6 266.8,119.1 266.8,117.4 267.0,119.9 267.0,119.9 267.1,120.1 267.2,116.3 267.3,117.7 267.4,116.1 267.4,117.8 267.5,114.8 267.6,117.7 267.6,115.5 267.7,119.4 267.7,118.9 267.8,119.0 267.8,116.4 267.9,118.9 268.0,120.5 268.1,118.8 268.1,120.3 268.2,120.0 268.2,118.2 268.3,118.8 268.4,118.8 268.4,120.8 268.5,120.0 268.5,120.8 268.6,119.8 268.7,120.9 268.7,121.0 268.8,115.3 268.8,117.2 268.9,116.5 269.0,118.4 269.0,117.0 269.1,119.9 269.2,120.0 269.2,118.0 269.3,119.9 269.3,119.2 269.4,120.6 269.4,116.9 269.5,120.9 269.6,121.0 269.7,120.5 269.7,121.4 269.8,120.6 269.9,121.2 269.9,120.7 270.0,121.9 270.0,119.4 270.1,119.5 270.2,122.3 270.2,120.1 270.3,122.3 270.4,118.0 270.4,119.1 270.5,118.6 270.5,120.3 270.6,118.1 270.7,121.2 270.7,119.7 270.8,121.8 270.9,120.6 270.9,121.9 271.0,120.0 271.1,122.5 271.1,121.7 271.2,122.4 271.2,120.1 271.4,123.1 271.4,123.0 271.5,123.1 271.6,122.9 271.6,123.1 271.8,121.3 271.8,122.8 271.9,118.7 272.1,121.4 272.2,121.2 272.2,122.1 272.3,121.7 272.3,122.2 272.4,121.3 272.4,123.1 272.5,120.5 272.5,123.0 272.6,122.8 272.6,123.2 272.7,121.6 272.7,123.4 272.8,123.7 272.9,122.7 272.9,124.3 273.0,123.5 273.1,122.3 273.2,124.5 273.3,123.2 273.3,123.8 273.4,122.5 273.4,124.7 273.5,122.8 273.6,123.0 273.6,122.5 273.7,123.8 273.8,121.7 273.9,124.2 274.0,123.7 274.0,124.9 274.1,124.3 274.1,124.6 274.2,123.8 274.3,124.3 274.4,123.5 274.5,125.0 274.5,125.0 274.6,124.8 274.7,125.3 274.7,124.8 274.8,125.8 274.9,124.4 274.9,126.1 275.1,124.3 275.2,125.4 275.2,123.5 275.3,123.4 275.5,125.7 275.5,124.0 275.7,126.2 275.7,123.2 275.8,125.9 275.9,125.1 276.0,126.0 276.0,125.4 276.1,126.6 276.2,126.9 276.2,126.5 276.3,126.9 276.3,125.2 276.4,125.5 276.5,127.1 276.6,123.4 276.7,125.3 276.7,124.8 276.8,125.4 276.9,124.5 276.9,125.4 277.0,125.2 277.1,126.2 277.1,125.1 277.2,126.2 277.2,126.1 277.3,126.5 277.4,125.4 277.4,126.4 277.5,124.9 277.6,127.5 277.6,126.7 277.8,127.5 277.9,124.8 277.9,127.6 278.0,126.4 278.1,127.9 278.2,125.7 278.3,126.5 278.4,125.9 278.4,126.9 278.5,126.5 278.5,126.7 278.6,125.5 278.6,127.4 278.7,126.7 278.8,127.2 278.8,127.2 278.9,128.0 279.0,127.1 279.0,127.9 279.1,127.9 279.1,127.1 279.2,128.4 279.4,128.1 279.4,128.6 279.5,127.7 279.6,128.4 279.7,127.5 279.8,127.5 279.8,127.9 279.9,127.9 279.9,127.8 280.0,128.2 280.0,127.9 280.1,128.3 280.2,126.8 280.2,128.7 280.3,127.6 280.4,128.7 280.4,128.4 280.5,128.7 280.6,128.4 280.6,128.6 280.7,127.0 280.7,128.6 280.8,128.4 280.9,129.2 281.0,128.1 281.0,128.7 281.1,127.8 281.1,129.3 281.2,129.2 281.2,128.2 281.3,128.6 281.3,127.5 281.5,129.1 281.6,129.1 281.8,128.4 281.8,129.0 282.0,128.9 282.1,129.3 282.1,128.4 282.3,130.0 282.4,129.3 282.5,129.8 282.5,129.7 282.6,128.7 282.7,130.0 282.8,128.3 282.9,128.6 283.0,128.2 283.0,129.1 283.1,128.8 283.1,127.5 283.2,129.5 283.2,129.1 283.3,129.1 283.3,129.8 283.4,129.8 283.4,128.8 283.5,129.5 283.6,128.8 283.6,130.2 283.7,129.1 283.8,130.4 283.9,130.5 284.0,129.3 284.0,130.4 284.1,130.4 284.2,130.3 284.2,130.6 284.3,130.5 284.4,129.5 284.4,129.2 284.5,129.4 284.5,128.9 284.6,129.0 284.7,130.1 284.7,129.9 284.8,130.2 284.8,130.0 284.9,130.4 284.9,128.9 285.0,130.5 285.0,130.5 285.1,129.8 285.2,130.8 285.2,130.7 285.4,131.1 285.4,130.5 285.5,131.0 285.6,130.4 285.7,130.9 285.8,131.3 285.8,131.2 285.9,131.5 286.0,130.8 286.0,130.8 286.1,131.2 286.2,131.2 286.3,131.0 286.3,131.4 286.4,130.5 286.6,131.4 286.6,131.0 286.7,131.3 286.7,131.0 286.9,131.8 286.9,131.8 287.0,131.1 287.0,131.7 287.1,131.3 287.2,131.5 287.2,130.9 287.3,132.0 287.3,130.8 287.4,131.5 287.5,131.9 287.5,130.5 287.8,131.6 287.8,130.8 287.9,131.3 288.0,130.8 288.0,131.5 288.1,131.2 288.1,131.7 288.2,131.3 288.2,132.1 288.3,131.8 288.4,132.2 288.5,131.9 288.5,132.1 288.6,131.4 288.7,132.2 288.8,132.1 288.8,132.3 288.9,132.2 288.9,131.6 289.1,132.2 289.1,131.1 289.2,131.8 289.2,131.7 289.3,131.7 289.4,132.1 289.4,131.9 289.5,132.4 289.6,131.8 289.6,132.5 289.7,131.8 289.8,132.6 289.8,132.1 289.9,132.6 289.9,132.4 290.1,132.8 290.3,131.9 290.4,133.1 290.5,132.8 290.5,133.2 290.6,133.2 290.6,133.1 290.7,132.3 290.7,132.5 290.8,132.5 290.8,132.2 290.9,132.9 290.9,133.0 291.0,132.6 291.1,133.1 291.2,133.3 291.2,133.2 291.3,133.4 291.3,133.2 291.4,133.3 291.5,133.1 291.6,133.5 291.7,133.5 291.8,133.1 292.0,133.6 292.0,133.4 292.1,133.5 292.1,133.5 292.2,133.9 292.2,132.6 292.4,133.2 292.5,132.8 292.5,133.5 292.7,133.6 292.7,133.6 292.8,133.8 292.8,133.9 292.9,133.6 292.9,133.9 293.0,133.8 293.2,133.9 293.3,134.1 293.3,133.6 293.4,134.2 293.4,133.8 293.5,134.2 293.5,134.0 293.6,134.3 293.6,134.2 293.7,134.4 293.8,134.0 294.0,134.2 294.1,134.0 294.1,134.2 294.2,134.0 294.2,134.4 294.3,134.1 294.3,134.4 294.4,134.5 294.5,134.0 294.6,134.5 294.7,134.3 294.7,134.7 294.8,134.4 294.8,134.6 294.9,134.5 294.9,134.6 295.0,134.3 295.1,134.7 295.2,134.7 295.3,134.4 295.4,134.5 295.4,134.4 295.5,134.6 295.5,134.5 295.6,134.7 295.8,134.5 295.9,134.8 296.0,134.7 296.0,134.8 296.1,134.6 296.1,134.9 296.3,134.8 296.3,134.9 296.4,134.8 296.5,134.9 296.6,134.7 296.6,134.9 296.7,134.8 296.7,135.0 296.8,134.7 296.9,135.0 297.0,134.7 297.0,135.0 297.1,134.9 297.2,135.0 297.3,134.9 297.4,135.1 297.5,135.1 297.6,134.8 297.6,135.1 297.7,135.0 297.7,135.0 297.8,135.2 297.9,135.1 298.0,135.2 298.0,135.0 298.1,135.0 298.2,135.2 298.3,135.3 298.4,135.1 298.5,134.8 298.5,134.9 298.7,135.0 298.8,134.9 298.9,135.2 299.0,135.0 299.1,135.1 299.3,135.3 299.3,134.8 299.4,135.3 299.5,135.1 299.5,135.3 299.6,135.2 299.7,135.4 299.7,135.3 299.8,135.3 299.8,135.5 299.9,135.4 300.0,135.5 300.1,135.0 300.2,135.2 300.3,134.9 300.3,135.3 300.6,135.3 300.6,135.4 300.7,135.2 300.7,135.5 300.8,135.4 300.8,135.5 301.0,135.5 301.0,135.6 301.1,135.4 301.2,135.6 301.3,135.6 301.4,135.4 301.4,135.6 301.5,135.6 301.6,135.7 301.6,135.4 301.7,135.6 301.8,135.3 301.8,135.6 301.9,135.5 302.1,135.6 302.1,135.5 302.2,135.7 302.4,135.5 302.4,135.6 302.5,135.7 302.7,135.7 302.8,135.8 302.9,135.7 303.0,135.8 303.1,135.8 303.1,135.8 303.2,135.6 303.3,135.7 303.3,135.6 303.5,135.8 303.6,135.8 303.7,135.9 303.9,135.8 304.1,135.9 304.3,135.9 304.4,136.0 304.5,135.9 304.6,136.0 304.9,135.8 304.9,135.9 305.0,136.0 305.1,135.9 305.2,136.0 305.2,135.9 305.3,136.0 305.4,136.1 305.5,136.0 305.5,136.1 305.7,136.1 305.8,136.1 305.8,136.1 306.0,136.1 306.0,136.2 306.1,136.1 306.2,136.2 306.5,136.1 306.6,136.2 306.9,136.2 306.9,136.1 307.0,136.2 307.5,136.3 307.6,136.2 307.7,136.3 307.7,136.2 307.8,136.3 307.9,136.2 307.9,136.2 308.0,136.2 308.1,136.3 308.2,136.2 308.4,136.3 308.5,136.3 308.5,136.3 309.0,136.4 309.1,136.3 309.2,136.4 309.4,136.4 309.4,136.3 309.9,136.4 310.0,136.3 310.1,136.4 310.3,136.4 310.4,136.4 310.5,136.4 311.0,136.4 313.3,136.5 314.1,136.5 314.1,136.5 315.5,136.5 315.8,136.5 316.7,136.5 317.2,136.6 317.3,136.5 320.0,136.6 320.4,136.5 321.7,136.6 322.0,136.5 323.0,136.6 325.0,136.6 325.2,136.5 328.1,136.6 328.5,136.5 329.7,136.6 329.9,136.5 332.7,136.6 332.9,136.5 334.4,136.6 334.5,136.5 335.2,136.6 340.6,136.6 340.7,136.5 342.2,136.6 400.2,136.6"/>
<polyline stroke="#8c564b" stroke-width="1.15" stroke-opacity="0.85" points="245.3,22.4 245.7,35.0 246.3,70.7 246.9,80.2 247.4,88.4 248.4,97.3 249.6,105.8 249.7,105.9 249.9,107.7 250.0,104.3 250.1,105.5 250.1,105.4 250.3,106.8 250.3,106.5 250.4,108.2 250.5,106.9 250.5,108.6 250.7,110.2 250.7,110.4 250.8,109.8 250.9,112.3 251.0,112.2 251.0,109.9 251.1,112.5 251.1,112.2 251.2,112.5 251.2,113.6 251.3,111.9 251.3,114.0 251.5,114.7 251.5,113.0 251.6,99.7 251.8,106.3 251.9,103.9 252.0,109.6 252.0,109.4 252.1,111.6 252.1,109.3 252.2,113.7 252.3,113.5 252.3,113.9 252.4,113.4 252.5,116.0 252.5,112.7 252.6,115.6 252.7,115.6 252.7,117.0 252.8,115.0 252.9,118.1 253.0,116.9 253.0,118.9 253.1,118.2 253.1,96.7 253.2,103.0 253.4,107.2 253.5,109.8 253.6,112.1 253.7,111.4 253.7,114.0 253.8,113.8 253.9,114.2 254.0,116.5 254.1,116.8 254.1,116.5 254.2,116.9 254.3,117.0 254.3,117.6 254.4,117.5 254.4,119.0 254.5,117.8 254.6,119.5 254.7,100.1 254.7,100.6 254.8,104.0 254.8,101.5 254.9,106.8 254.9,107.0 255.1,111.6 255.2,112.7 255.3,112.6 255.3,112.8 255.4,114.6 255.4,114.7 255.5,114.5 255.5,116.4 255.6,114.8 255.7,114.3 255.8,118.1 255.8,116.4 255.9,119.0 256.0,118.1 256.0,119.3 256.2,117.6 256.3,93.4 256.5,104.3 256.5,104.2 256.7,109.4 256.7,108.1 256.9,113.8 257.0,112.4 257.0,115.9 257.1,116.2 257.2,115.6 257.3,118.3 257.4,116.7 257.6,119.5 257.6,118.5 257.7,117.9 257.8,119.2 257.8,95.3 257.9,101.1 258.1,103.5 258.2,110.2 258.3,111.3 258.4,114.4 258.5,114.4 258.6,116.4 258.7,116.5 258.7,115.7 258.8,116.8 258.8,115.4 258.9,117.4 259.0,116.5 259.1,119.8 259.3,117.5 259.3,118.9 259.4,95.1 259.5,105.2 259.8,111.6 259.8,111.6 260.0,114.7 260.1,114.6 260.1,116.4 260.2,115.6 260.2,117.4 260.3,115.8 260.4,117.1 260.4,115.9 260.5,119.3 260.5,118.1 260.6,118.2 260.6,117.9 260.7,119.6 260.7,119.6 260.8,117.3 260.9,120.5 260.9,95.1 261.2,106.4 261.3,107.9 261.4,107.5 261.5,111.7 261.5,112.5 261.6,111.5 261.6,115.0 261.7,114.8 261.7,116.6 261.8,116.2 261.8,116.2 261.9,118.1 262.0,118.6 262.0,116.2 262.1,119.1 262.2,118.8 262.2,119.4 262.3,118.9 262.4,120.2 262.4,117.4 262.5,119.7 262.5,97.4 262.8,108.3 262.8,107.7 263.0,113.0 263.1,113.8 263.1,113.2 263.2,115.6 263.3,117.8 263.4,118.3 263.5,115.7 263.6,118.0 263.6,118.5 263.7,117.8 263.7,118.1 263.8,119.8 263.9,115.8 263.9,119.8 264.0,119.5 264.0,119.8 264.1,95.8 264.3,106.8 264.4,108.7 264.5,107.8 264.6,112.5 264.6,113.2 264.7,113.0 264.8,115.4 264.9,116.1 264.9,117.4 265.0,116.5 265.0,118.3 265.1,115.7 265.2,118.5 265.2,117.8 265.3,119.9 265.3,120.2 265.4,119.3 265.5,120.8 265.6,117.6 265.6,93.3 265.7,98.4 265.8,102.2 265.9,105.6 266.0,105.4 266.1,110.3 266.3,114.6 266.3,113.6 266.4,116.2 266.4,116.9 266.5,115.8 266.6,117.7 266.6,116.0 266.7,119.3 266.8,118.3 266.8,120.0 266.9,118.7 266.9,118.5 267.0,120.8 267.1,120.7 267.2,119.2 267.2,96.8 267.3,99.7 267.3,98.9 267.4,106.0 267.6,111.3 267.8,114.2 267.9,115.1 267.9,115.1 268.0,117.2 268.0,116.8 268.1,116.7 268.2,119.3 268.3,118.6 268.4,119.8 268.4,117.9 268.5,119.6 268.6,119.8 268.6,119.8 268.7,120.9 268.8,99.2 269.1,110.7 269.1,111.4 269.2,111.1 269.3,114.2 269.3,114.9 269.4,113.9 269.5,116.4 269.7,118.4 269.8,118.4 269.8,117.5 269.9,120.3 270.0,120.4 270.0,119.8 270.1,119.9 270.1,121.0 270.2,118.5 270.3,120.4 270.3,98.6 270.5,105.8 270.6,108.4 270.7,108.3 270.7,111.8 270.8,110.8 270.9,115.1 271.0,114.1 271.0,116.6 271.1,116.7 271.1,114.6 271.2,118.7 271.3,118.9 271.3,116.3 271.4,119.8 271.4,119.8 271.5,119.0 271.5,119.7 271.6,118.4 271.6,119.1 271.7,119.4 271.8,121.2 271.9,98.1 272.1,106.9 272.2,106.3 272.3,112.1 272.4,112.4 272.4,112.1 272.5,112.9 272.5,115.9 272.6,116.8 272.7,116.1 272.8,118.2 272.9,116.0 272.9,119.5 273.0,119.0 273.1,120.3 273.1,119.2 273.2,121.0 273.3,119.7 273.4,121.1 273.4,120.7 273.5,95.1 273.8,108.8 273.9,110.3 274.0,114.5 274.1,114.7 274.1,112.9 274.2,113.2 274.3,116.9 274.4,117.6 274.5,119.0 274.5,117.9 274.6,119.7 274.7,118.7 274.7,120.3 274.8,118.9 274.9,119.0 274.9,120.8 275.0,120.3 275.0,99.7 275.2,107.5 275.3,109.9 275.4,113.1 275.5,113.2 275.6,116.0 275.7,114.6 275.8,117.3 275.8,117.3 275.9,116.1 275.9,118.7 276.0,116.0 276.0,119.9 276.1,118.5 276.1,119.9 276.3,120.4 276.3,121.2 276.4,118.4 276.4,121.2 276.5,118.7 276.5,119.8 276.6,100.8 276.9,110.1 276.9,111.1 277.0,109.9 277.0,109.8 277.1,113.6 277.2,115.3 277.2,113.8 277.4,118.4 277.4,115.7 277.5,118.5 277.6,117.5 277.7,120.3 277.8,120.4 277.8,118.8 278.1,121.6 278.1,119.6 278.2,95.8 278.3,101.7 278.3,100.4 278.4,107.6 278.5,108.7 278.7,114.9 278.8,112.7 278.9,116.8 279.0,116.8 279.1,118.2 279.1,117.2 279.2,117.5 279.2,119.9 279.3,117.9 279.4,119.5 279.4,118.3 279.5,119.7 279.5,119.2 279.6,120.8 279.6,120.4 279.7,121.6 279.7,99.8 280.0,109.6 280.0,108.8 280.2,114.1 280.2,113.5 280.5,118.1 280.6,116.9 280.6,118.9 280.7,119.2 280.7,117.4 280.8,120.0 280.9,117.4 281.0,120.5 281.1,120.6 281.1,118.4 281.2,120.7 281.2,119.5 281.3,97.4 281.4,103.7 281.5,107.9 281.6,106.6 281.7,112.7 281.8,113.1 281.8,112.4 281.9,116.2 282.1,118.4 282.2,118.2 282.2,118.9 282.3,117.4 282.3,119.5 282.4,118.6 282.4,119.8 282.5,118.2 282.5,120.2 282.6,120.2 282.6,120.0 282.7,118.9 282.8,120.9 282.8,100.4 283.0,106.4 283.2,108.3 283.2,112.4 283.3,113.3 283.3,112.3 283.4,115.1 283.4,114.9 283.5,116.5 283.5,114.9 283.6,118.1 283.7,118.3 283.8,117.4 283.9,119.9 283.9,116.5 284.0,120.1 284.2,121.1 284.2,121.1 284.3,119.1 284.3,119.5 284.4,117.4 284.4,101.3 284.5,105.2 284.6,104.2 284.7,110.4 284.7,110.6 284.8,112.8 284.9,112.0 285.0,115.9 285.1,115.5 285.2,117.8 285.2,117.6 285.3,118.0 285.4,119.4 285.4,119.5 285.5,118.8 285.5,119.1 285.6,120.1 285.7,119.3 285.7,120.6 285.8,118.5 285.9,121.1 285.9,121.1 286.0,100.2 286.1,105.1 286.4,112.8 286.4,112.9 286.5,113.3 286.6,113.2 286.7,116.2 286.7,115.6 286.8,116.3 286.8,118.4 286.9,117.2 287.0,119.9 287.1,119.9 287.1,119.2 287.2,117.7 287.2,119.2 287.3,118.5 287.3,121.1 287.4,119.7 287.4,120.6 287.5,120.2 287.5,98.5 287.6,102.6 287.8,110.1 287.9,110.1 287.9,112.4 288.0,110.9 288.0,111.7 288.1,115.5 288.2,116.7 288.3,113.5 288.3,116.6 288.5,119.3 288.6,117.9 288.7,119.3 288.7,118.2 288.8,120.6 288.8,121.0 288.9,120.2 288.9,121.1 289.0,118.3 289.1,121.4 289.1,95.4 289.4,107.3 289.5,108.5 289.6,113.1 289.7,113.2 289.7,114.8 289.8,114.1 289.8,115.7 289.9,115.3 289.9,117.8 290.0,118.1 290.0,118.0 290.1,118.4 290.1,117.9 290.2,119.0 290.3,118.2 290.5,120.9 290.5,120.1 290.6,121.0 290.6,119.1 290.7,98.7 290.8,105.6 291.0,108.4 291.0,110.9 291.4,117.0 291.5,114.3 291.6,118.4 291.7,116.1 291.7,118.8 291.8,118.8 291.8,117.9 291.9,119.8 292.0,118.1 292.0,120.6 292.1,118.0 292.1,121.0 292.2,119.5 292.2,95.5 292.4,104.1 292.8,113.4 292.9,113.7 292.9,113.5 293.0,116.2 293.0,116.0 293.1,117.1 293.1,116.4 293.3,118.6 293.3,117.1 293.4,119.9 293.4,118.1 293.5,120.3 293.5,118.1 293.6,120.8 293.7,119.1 293.8,100.8 293.9,100.9 294.0,106.7 294.1,108.3 294.2,112.0 294.2,111.2 294.3,113.9 294.3,114.1 294.4,114.1 294.4,114.7 294.5,116.6 294.5,116.2 294.6,117.5 294.7,116.6 294.8,118.5 294.8,116.3 294.9,119.5 295.0,120.2 295.1,118.2 295.2,120.9 295.3,119.6 295.4,97.0 295.6,108.5 295.7,109.5 295.7,109.6 295.8,112.8 295.9,111.1 296.0,114.1 296.0,114.1 296.1,113.5 296.1,116.0 296.4,118.8 296.4,117.9 296.5,117.9 296.6,119.8 296.6,118.7 296.7,120.4 296.8,117.6 296.9,120.7 296.9,98.2 297.0,97.4 297.2,108.0 297.2,109.0 297.3,108.8 297.3,111.7 297.4,113.5 297.5,113.8 297.6,113.6 297.7,114.9 297.8,117.7 297.8,116.0 297.9,118.3 297.9,118.0 298.0,118.2 298.0,119.2 298.1,119.0 298.2,120.3 298.3,118.7 298.4,120.7 298.5,94.9 298.7,105.6 298.8,107.1 298.8,107.9 298.9,107.9 299.0,113.1 299.1,113.0 299.2,115.3 299.3,116.5 299.4,117.0 299.4,118.1 299.5,117.8 299.6,119.2 299.7,118.5 299.8,120.3 299.8,120.2 300.0,118.2 300.0,120.9 300.1,92.5 300.4,108.2 300.7,113.2 300.8,114.9 300.9,114.7 301.0,117.9 301.0,116.7 301.1,118.1 301.2,118.5 301.2,117.8 301.3,119.1 301.3,119.1 301.4,118.2 301.4,118.4 301.5,117.7 301.5,120.7 301.6,119.5 301.6,95.8 301.7,101.2 302.2,114.0 302.2,113.9 302.3,115.4 302.4,114.1 302.6,118.1 302.6,118.2 302.7,115.6 302.7,118.6 302.8,116.7 302.9,118.8 302.9,117.9 303.1,120.2 303.1,120.0 303.2,96.9 303.6,109.1 303.6,107.7 303.7,111.6 303.7,110.7 303.8,114.2 304.0,116.2 304.0,115.6 304.1,117.1 304.2,117.9 304.2,116.6 304.3,118.3 304.4,117.1 304.4,118.5 304.5,117.5 304.6,119.6 304.7,117.9 304.8,93.8 304.9,99.6 304.9,98.7 305.0,103.0 305.1,104.7 305.2,109.3 305.2,108.7 305.3,109.4 305.4,113.4 305.4,112.6 305.5,114.5 305.6,112.2 305.7,115.9 305.8,115.5 305.9,116.4 306.0,114.8 306.0,118.0 306.1,118.5 306.1,117.3 306.2,118.8 306.3,95.1 306.6,106.8 306.7,106.8 306.7,108.3 306.8,108.0 306.8,111.5 306.9,111.9 307.0,112.1 307.0,114.2 307.1,114.2 307.1,115.4 307.2,115.3 307.3,113.4 307.3,114.9 307.4,114.5 307.5,115.9 307.6,117.6 307.7,116.7 307.8,118.0 307.8,116.9 307.9,97.5 308.0,103.2 308.1,101.0 308.1,106.5 308.2,105.3 308.3,110.0 308.4,110.5 308.5,109.4 308.7,113.9 308.7,113.0 308.8,114.3 308.8,112.4 308.9,114.6 308.9,114.3 309.0,115.8 309.1,114.6 309.1,116.0 309.2,113.8 309.2,113.7 309.3,116.1 309.3,114.8 309.4,116.3 309.4,92.7 309.7,101.2 309.7,102.5 309.8,101.1 309.9,108.1 310.0,108.2 310.1,109.7 310.1,109.6 310.2,110.4 310.2,110.1 310.3,112.3 310.3,111.6 310.4,112.6 310.4,110.2 310.5,113.3 310.6,113.4 310.6,112.3 310.7,114.1 310.8,111.0 310.9,114.3 310.9,113.3 311.0,113.3 311.0,99.9 311.2,104.9 311.2,103.9 311.3,106.7 311.3,107.7 311.4,107.5 311.4,109.6 311.5,109.0 311.6,111.7 311.7,112.3 311.8,111.7 311.9,113.9 311.9,114.3 312.0,113.3 312.1,114.7 312.1,114.8 312.2,114.6 312.2,115.2 312.3,114.8 312.3,114.8 312.4,115.3 312.4,115.3 312.5,113.2 312.5,115.1 312.6,103.6 312.6,105.9 312.8,110.1 313.0,111.3 313.1,113.0 313.2,112.4 313.3,113.6 313.3,114.0 313.4,113.9 313.4,115.0 313.5,115.4 313.5,114.7 313.6,115.7 313.6,114.2 313.7,116.0 313.7,116.3 313.8,116.2 313.9,116.8 313.9,116.3 314.0,116.9 314.0,115.9 314.1,116.8 314.1,108.4 314.2,110.6 314.3,111.2 314.3,110.9 314.5,113.4 314.5,113.4 314.6,113.5 314.6,114.9 314.7,114.7 314.9,116.4 314.9,116.4 315.0,115.8 315.2,117.5 315.2,117.2 315.3,117.5 315.3,116.2 315.4,117.7 315.5,118.3 315.5,117.5 315.6,118.3 315.7,117.1 315.7,111.0 315.9,114.2 316.0,114.5 316.0,114.0 316.1,116.0 316.1,115.0 316.4,117.7 316.4,117.3 316.5,118.0 316.6,117.5 316.6,118.7 316.7,118.3 316.7,118.8 316.8,117.8 316.8,119.3 316.9,119.1 317.0,119.2 317.0,118.9 317.1,119.3 317.2,118.3 317.3,112.5 317.4,114.9 317.5,115.2 317.5,114.9 317.7,117.4 317.7,117.5 317.8,117.2 317.9,118.6 317.9,118.7 318.0,118.3 318.1,119.5 318.2,118.7 318.4,120.2 318.4,119.4 318.5,120.1 318.6,120.0 318.6,120.1 318.7,119.1 318.7,119.2 318.8,120.0 318.8,113.8 318.9,115.5 319.0,115.9 319.0,115.3 319.1,117.5 319.2,117.3 319.2,118.4 319.4,119.1 319.4,118.8 319.5,119.6 319.5,119.6 319.6,119.4 319.6,120.3 319.7,119.6 319.7,119.8 319.8,119.3 319.8,120.8 320.0,121.3 320.0,120.9 320.1,121.6 320.2,120.8 320.3,121.7 320.4,114.8 320.4,116.2 320.6,117.3 320.6,117.3 320.8,119.3 320.8,119.6 320.9,118.9 320.9,120.2 321.0,120.4 321.1,120.2 321.2,121.4 321.3,121.5 321.3,121.3 321.4,121.9 321.4,121.6 321.6,121.6 321.6,122.2 321.7,121.6 321.8,122.2 321.9,121.9 321.9,122.4 322.0,116.1 322.0,116.2 322.1,118.0 322.2,119.1 322.3,119.9 322.4,119.5 322.5,121.5 322.6,121.5 322.6,121.2 322.7,122.1 322.7,120.9 322.8,122.5 322.9,122.3 323.0,122.6 323.0,122.2 323.1,123.0 323.1,123.2 323.2,123.1 323.2,123.1 323.3,122.9 323.4,123.7 323.4,123.1 323.5,123.8 323.5,118.6 323.6,119.6 323.7,120.3 323.8,119.9 323.8,121.2 323.9,121.0 324.0,122.5 324.1,122.2 324.2,122.3 324.2,123.0 324.3,122.7 324.3,123.4 324.5,124.0 324.5,123.9 324.6,123.6 324.6,124.1 324.7,124.1 324.7,124.2 324.8,123.7 324.8,124.5 324.9,124.6 325.0,124.3 325.1,120.2 325.2,121.8 325.3,121.4 325.4,122.5 325.4,122.1 325.5,122.8 325.5,122.8 325.6,122.7 325.6,123.8 325.7,123.4 325.8,124.2 325.8,123.5 325.9,124.4 326.0,124.2 326.0,124.8 326.1,124.5 326.2,125.1 326.2,124.2 326.3,125.1 326.4,124.3 326.5,125.4 326.6,125.4 326.7,120.5 326.9,123.1 327.0,123.0 327.0,123.6 327.1,123.5 327.2,124.4 327.2,124.1 327.4,125.1 327.4,124.4 327.5,125.1 327.6,125.3 327.6,125.7 327.7,125.8 327.7,125.7 327.8,125.9 327.9,125.3 328.0,126.0 328.1,126.3 328.1,125.8 328.2,126.3 328.2,121.9 328.3,123.0 328.4,123.7 328.5,123.7 328.6,124.6 328.6,124.6 328.7,125.2 328.8,125.4 328.8,125.6 328.9,125.4 328.9,126.1 329.0,125.1 329.2,126.4 329.3,126.8 329.4,126.3 329.4,126.7 329.5,126.5 329.6,127.1 329.6,126.5 329.7,126.8 329.8,123.2 329.9,124.3 330.1,125.4 330.2,125.4 330.3,126.2 330.5,126.0 330.6,126.9 330.6,126.4 330.7,126.8 330.8,126.7 330.9,127.4 330.9,127.4 331.0,127.4 331.1,127.8 331.1,127.3 331.2,127.8 331.3,127.5 331.3,124.1 331.5,125.2 331.5,125.0 331.6,125.5 331.6,125.4 331.7,126.3 331.7,126.5 331.8,126.2 331.9,127.1 332.0,126.6 332.0,127.5 332.1,127.6 332.1,127.6 332.2,127.8 332.2,127.5 332.3,127.9 332.3,128.0 332.4,127.8 332.5,128.3 332.7,127.7 332.7,128.5 332.8,128.5 332.9,128.2 332.9,124.6 333.0,124.4 333.1,125.9 333.1,125.8 333.2,126.1 333.2,126.7 333.3,126.8 333.3,126.6 333.4,127.5 333.5,127.4 333.5,127.6 333.6,128.0 333.7,128.2 333.8,128.0 333.9,128.5 333.9,128.5 334.0,128.5 334.0,128.6 334.1,128.5 334.2,128.9 334.2,128.7 334.4,129.1 334.5,125.8 334.7,127.5 334.7,126.8 334.8,127.0 334.8,128.0 334.9,127.6 335.1,128.6 335.1,128.5 335.2,128.6 335.2,128.6 335.3,128.8 335.3,128.7 335.4,129.1 335.4,128.9 335.5,129.2 335.6,129.0 335.6,129.3 335.7,129.2 335.7,129.4 335.8,129.0 335.9,129.6 335.9,129.3 336.0,129.6 336.0,126.2 336.1,126.2 336.2,127.3 336.3,127.8 336.4,127.6 336.4,127.9 336.5,128.5 336.6,128.5 336.7,128.9 336.7,129.0 336.8,128.9 336.8,129.2 336.9,129.0 336.9,129.4 337.0,129.6 337.1,129.5 337.1,129.7 337.2,129.5 337.2,129.8 337.3,129.6 337.4,129.9 337.4,130.0 337.5,129.9 337.6,130.0 337.6,127.1 337.7,127.8 337.9,128.8 338.0,128.7 338.1,129.0 338.1,129.4 338.2,129.0 338.3,129.5 338.4,129.6 338.5,130.0 338.5,129.9 338.6,130.1 338.6,130.1 338.7,129.6 338.9,130.3 339.0,129.8 339.0,130.4 339.1,130.1 339.1,130.2 339.2,127.7 339.2,127.9 339.3,127.7 339.3,128.4 339.4,128.7 339.5,128.7 339.6,129.4 339.6,129.5 339.7,129.3 339.7,129.8 340.0,130.2 340.1,130.0 340.2,130.4 340.3,130.5 340.3,130.5 340.4,130.7 340.5,130.3 340.5,130.8 340.6,130.4 340.7,130.9 340.7,128.6 340.8,128.8 340.8,128.8 340.9,128.8 340.9,129.5 341.0,129.7 341.0,129.6 341.1,130.0 341.2,129.8 341.2,129.9 341.3,130.3 341.4,130.2 341.4,130.6 341.5,130.3 341.5,130.6 341.6,130.4 341.6,130.8 341.7,130.8 341.8,130.7 341.8,130.9 341.9,130.8 342.0,131.0 342.0,130.9 342.1,131.1 342.2,130.9 342.2,131.1 342.3,128.9 342.5,129.8 342.6,129.9 342.6,129.9 342.7,130.5 342.8,130.6 342.9,130.8 342.9,130.6 343.0,130.7 343.2,131.2 343.2,131.0 343.3,131.2 343.3,131.0 343.4,131.3 343.6,131.2 343.6,131.3 343.7,131.1 343.7,131.4 343.8,131.2 343.8,131.5 343.9,129.4 344.0,129.6 344.2,130.6 344.4,131.0 344.5,130.8 344.5,131.1 344.6,131.0 344.6,131.3 344.8,131.2 344.8,131.5 344.9,131.3 345.0,131.7 345.1,131.6 345.1,131.7 345.2,131.6 345.2,131.8 345.4,131.8 345.4,129.8 345.6,130.5 345.6,130.6 345.7,130.4 345.7,130.9 345.8,130.9 345.8,131.0 345.9,131.4 346.0,131.1 346.2,131.7 346.4,131.9 346.5,131.6 346.6,132.0 346.7,132.0 346.8,132.0 346.9,132.1 347.0,130.2 347.0,130.2 347.3,131.1 347.3,131.1 347.4,131.3 347.5,131.3 347.5,131.6 347.6,131.6 347.6,131.8 347.7,131.9 347.7,131.7 347.8,132.0 347.9,132.0 348.0,131.9 348.0,132.2 348.1,132.1 348.2,132.3 348.3,131.7 348.3,132.2 348.4,132.3 348.5,132.1 348.6,130.6 348.7,131.3 348.7,131.2 348.8,131.5 348.9,131.7 349.0,131.7 349.1,132.1 349.1,132.0 349.2,132.2 349.3,132.3 349.3,132.2 349.4,132.3 349.5,132.2 349.7,132.5 349.8,132.4 349.8,132.6 349.9,132.6 349.9,132.5 350.0,132.7 350.1,131.3 350.2,131.3 350.2,131.6 350.5,132.1 350.5,132.0 350.7,132.4 350.8,132.0 350.9,132.6 350.9,132.4 351.1,132.8 351.2,132.8 351.2,132.7 351.3,132.8 351.4,132.7 351.4,132.9 351.5,132.5 351.6,132.9 351.6,132.8 351.7,131.6 351.8,132.1 351.9,132.1 352.1,132.6 352.2,132.5 352.2,132.6 352.3,132.5 352.5,132.9 352.5,132.9 352.6,132.9 352.6,132.8 352.7,132.9 352.7,132.9 352.8,133.1 352.9,133.0 353.0,133.1 353.0,133.0 353.1,133.1 353.1,133.1 353.3,132.1 353.3,132.1 353.5,132.6 353.6,132.5 353.7,132.7 353.7,132.9 353.8,132.8 354.0,133.1 354.0,133.1 354.1,133.2 354.2,133.0 354.3,133.2 354.3,133.2 354.4,133.4 354.5,133.2 354.6,133.4 354.6,133.3 354.7,133.4 354.8,133.3 354.8,132.2 355.0,132.6 355.0,132.6 355.2,133.1 355.4,133.2 355.4,133.2 355.6,133.3 355.6,133.3 355.8,133.5 355.8,133.4 355.9,133.5 356.0,133.5 356.2,133.6 356.3,133.6 356.4,132.6 356.6,133.1 356.7,133.1 357.0,133.5 357.1,133.5 357.1,133.5 357.2,133.5 357.2,133.5 357.3,133.7 357.4,133.6 357.5,133.7 357.6,133.7 357.6,133.8 357.7,133.7 357.7,133.8 357.8,133.6 357.9,133.8 357.9,132.9 358.1,133.2 358.4,133.6 358.6,133.6 358.7,133.8 358.8,133.7 358.9,133.9 359.0,133.8 359.1,134.0 359.2,134.0 359.3,134.0 359.4,134.0 359.5,134.0 359.5,133.3 359.6,133.4 359.6,133.4 359.7,133.6 359.9,133.8 359.9,133.6 360.0,133.9 360.1,133.7 360.2,134.0 360.2,133.7 360.3,134.0 360.4,134.1 360.4,134.0 360.5,134.1 360.6,134.0 360.7,134.2 360.8,134.1 360.9,134.2 361.0,134.2 361.1,133.5 361.2,133.7 361.3,133.9 361.4,133.9 361.5,134.0 361.5,133.9 361.6,134.0 361.6,134.0 361.7,134.1 361.8,134.1 361.8,134.2 361.9,134.1 362.0,134.3 362.2,134.3 362.3,134.4 362.5,134.2 362.6,134.4 362.6,133.7 362.7,133.9 362.8,133.8 362.8,134.0 362.9,134.0 363.0,134.0 363.1,134.2 363.1,134.1 363.3,134.3 363.4,134.3 363.5,134.3 363.6,134.3 363.8,134.5 364.0,134.4 364.1,134.5 364.1,134.5 364.2,133.9 364.4,134.1 364.5,134.1 364.6,134.3 364.7,134.3 364.8,134.4 364.9,134.4 364.9,134.5 365.0,134.4 365.2,134.6 365.4,134.6 365.5,134.6 365.7,134.6 365.8,134.1 366.0,134.4 366.1,134.4 366.2,134.5 366.2,134.4 366.3,134.6 366.4,134.5 366.6,134.6 366.7,134.6 366.8,134.7 366.8,134.6 367.0,134.7 367.0,134.7 367.2,134.7 367.3,134.7 367.3,134.3 367.4,134.4 367.5,134.5 367.6,134.6 367.7,134.5 367.9,134.6 367.9,134.7 368.0,134.6 368.2,134.8 368.2,134.7 368.4,134.8 368.5,134.7 368.6,134.8 368.7,134.8 368.7,134.9 368.8,134.8 368.9,134.2 369.0,134.5 369.2,134.6 369.4,134.7 369.5,134.6 369.6,134.8 369.6,134.7 369.7,134.8 369.8,134.9 369.9,134.8 370.1,134.9 370.1,134.8 370.2,134.9 370.3,134.7 370.3,134.9 370.4,134.9 370.5,134.5 370.6,134.5 370.6,134.6 370.8,134.8 371.0,134.8 371.1,134.8 371.1,134.9 371.3,134.8 371.3,134.9 371.4,134.9 371.5,135.0 371.5,134.9 371.6,135.0 371.6,134.9 371.7,135.0 371.7,134.9 371.8,135.0 371.9,134.9 372.0,135.0 372.0,134.6 372.1,134.6 372.1,134.6 372.2,134.6 372.3,134.8 372.4,134.8 372.5,134.9 372.6,134.9 372.7,134.9 372.8,134.9 372.9,135.0 372.9,134.9 373.0,135.0 373.0,134.9 373.1,135.1 373.5,135.1 373.6,134.7 373.7,134.9 374.0,135.0 374.1,135.0 374.2,135.1 374.4,135.0 374.6,135.1 374.6,135.0 374.8,135.2 374.8,135.1 374.9,135.1 375.0,135.0 375.1,135.2 375.2,134.6 375.4,134.9 375.4,134.8 375.5,135.0 375.6,135.0 375.7,135.1 375.7,135.0 375.8,135.1 375.9,135.0 376.1,135.2 376.2,135.1 376.4,135.2 376.5,135.2 376.6,135.1 376.7,135.2 376.7,134.8 377.0,135.1 377.1,135.1 377.1,134.9 377.2,135.1 377.6,135.2 377.6,135.1 377.7,135.3 377.8,135.2 377.8,135.3 377.9,135.2 378.0,135.3 378.1,135.2 378.2,135.3 378.3,135.0 378.4,135.0 378.5,135.1 378.6,135.1 378.8,135.2 379.3,135.3 379.3,135.2 379.4,135.3 379.5,135.2 379.5,135.3 379.6,135.4 379.8,135.3 379.8,135.0 380.0,135.1 380.0,135.0 380.1,135.1 380.2,135.2 380.3,135.1 380.3,135.3 380.4,135.2 380.5,135.3 380.7,135.3 380.8,135.4 380.8,135.2 380.9,135.4 381.2,135.4 381.3,135.3 381.4,135.4 381.4,135.0 381.5,135.2 381.5,135.1 381.6,135.2 381.7,135.2 381.7,135.3 381.8,135.2 381.8,135.3 381.9,135.3 382.0,135.3 382.1,135.2 382.1,135.4 382.2,135.2 382.3,135.4 382.4,135.2 382.6,135.4 382.8,135.3 382.8,135.4 382.9,135.3 382.9,135.4 383.0,135.1 383.3,135.3 383.5,135.2 383.6,135.4 383.7,135.3 383.8,135.4 384.0,135.4 384.0,135.3 384.2,135.5 384.3,135.4 384.3,135.3 384.5,135.5 384.5,135.2 384.7,135.3 384.8,135.1 384.9,135.3 384.9,135.2 385.0,135.3 385.0,135.1 385.1,135.4 385.3,135.4 385.4,135.3 385.5,135.4 385.5,135.4 385.6,135.4 385.7,135.4 385.8,135.5 385.9,135.4 386.1,135.5 386.1,135.1 386.3,135.3 386.4,135.4 386.7,135.4 386.8,135.3 386.9,135.4 387.1,135.4 387.1,135.5 387.3,135.4 387.3,135.5 387.5,135.4 387.6,135.5 387.7,135.2 387.8,135.3 387.9,135.2 388.0,135.4 388.0,135.2 388.2,135.4 388.3,135.4 388.4,135.5 388.5,135.4 388.6,135.5 388.6,135.4 388.7,135.5 388.7,135.4 388.8,135.5 388.9,135.4 389.1,135.5 389.2,135.2 389.4,135.3 389.7,135.4 389.7,135.5 389.8,135.4 389.9,135.5 390.0,135.4 390.1,135.5 390.2,135.4 390.3,135.5 390.3,135.4 390.4,135.4 390.4,135.4 390.5,135.5 390.6,135.5 390.7,135.4 390.9,135.2 391.0,135.4 391.2,135.4 391.3,135.5 391.4,135.4 391.5,135.5 391.7,135.5 391.8,135.5 391.8,135.4 391.9,135.4 391.9,135.4 392.0,135.5 392.1,135.5 392.3,135.5 392.4,135.2 392.5,135.4 392.5,135.3 392.6,135.4 392.7,135.4 392.8,135.3 392.8,135.5 392.9,135.5 393.0,135.5 393.1,135.4 393.2,135.5 393.2,135.4 393.3,135.5 393.4,135.4 393.5,135.6 393.5,135.4 393.6,135.6 393.8,135.5 394.0,135.3 394.1,135.4 394.2,135.4 394.4,135.5 394.4,135.5 394.5,135.4 394.6,135.5 394.7,135.5 394.8,135.6 394.9,135.5 395.0,135.6 395.1,135.5 395.3,135.6 395.3,135.5 395.4,135.6 395.5,135.3 395.6,135.4 395.8,135.5 395.9,135.5 396.1,135.6 396.2,135.5 396.2,135.6 396.3,135.5 396.3,135.6 396.4,135.4 396.5,135.6 396.6,135.5 396.6,135.6 396.7,135.5 396.8,135.6 397.0,135.6 397.1,135.4 397.3,135.4 397.4,135.4 397.5,135.6 397.8,135.6 397.8,135.4 397.9,135.6 398.0,135.5 398.1,135.6 398.2,135.6 398.3,135.7 398.5,135.6 398.6,135.5 398.7,135.6 398.8,135.4 398.8,135.5 398.9,135.5 399.1,135.6 399.5,135.5 399.5,135.6 399.6,135.6 399.6,135.6 399.7,135.6 399.7,135.7 399.9,135.7 399.9,135.5 400.0,135.7 400.2,135.5"/>
</g>
<rect x="245.30" y="21.40" width="162.70" height="121.20" fill="none" stroke="#222" stroke-width="0.65"/>
<path d="M245.30,142.60v1.40M271.38,142.60v1.40M297.45,142.60v1.40M323.53,142.60v1.40M349.60,142.60v1.40M375.68,142.60v1.40M401.75,142.60v1.40M245.30,136.70h-1.40M245.30,111.30h-1.40M245.30,85.90h-1.40M245.30,60.50h-1.40M245.30,35.10h-1.40M245.30,21.40v-1.40M277.30,21.40v-1.40M309.30,21.40v-1.40M341.30,21.40v-1.40M373.30,21.40v-1.40M405.30,21.40v-1.40" stroke="#222" stroke-width="0.4" fill="none"/>
<rect x="359.80" y="23.10" width="45.90" height="43.20" rx="0.8" fill="#fff" fill-opacity="0.8" stroke="#ccc" stroke-width="0.4"/>
<path d="M361.70,27.40H370.80" stroke="#1f77b4" stroke-width="0.80" stroke-opacity="1.00"/>
<path d="M361.70,34.30H370.80" stroke="#ff7f0e" stroke-width="0.80" stroke-opacity="1.00"/>
<path d="M361.70,41.25H370.80" stroke="#2ca02c" stroke-width="0.80" stroke-opacity="1.00"/>
<path d="M361.70,48.10H370.80" stroke="#d62728" stroke-width="1.15" stroke-opacity="0.62"/>
<path d="M361.70,55.00H370.80" stroke="#9467bd" stroke-width="1.15" stroke-opacity="0.62"/>
<path d="M361.70,62.00H370.80" stroke="#8c564b" stroke-width="1.15" stroke-opacity="0.62"/>
<text transform="translate(227.90,82.20) rotate(-90)" font-family="'Liberation Serif',serif" font-size="8.95" text-anchor="middle" fill="#111" stroke="#111" stroke-width="0.16">Loss</text>
<clipPath id="cc"><rect x="25.00" y="206.00" width="162.50" height="121.10"/></clipPath>
<g clip-path="url(#cc)" fill="none" stroke-linejoin="round" stroke-linecap="butt">
<polyline stroke="#1f77b4" stroke-width="0.69" stroke-opacity="0.85" points="130.0,319.9 130.7,320.1 130.8,319.0 132.0,319.6 133.4,320.0 133.5,318.9 134.7,319.5 136.1,320.0 136.2,318.8 137.4,319.5 138.8,319.9 138.9,318.8 140.1,319.4 141.6,319.8 141.6,318.7 142.9,319.4 144.3,319.8 144.3,318.6 145.6,319.3 147.0,319.7 147.1,318.6 148.3,319.2 149.7,319.7 149.8,318.5 151.0,319.2 152.4,319.7 152.5,318.5 153.7,319.2 155.1,319.7 155.2,318.4 156.4,319.2 157.8,319.6 157.9,318.4 159.1,319.1 160.5,319.6 160.6,318.3 161.8,319.1 163.2,319.6 163.3,318.3 163.9,318.7 164.6,319.1 166.0,319.6 166.0,318.3 166.7,318.7 167.3,319.0 168.7,319.6 168.8,318.2 169.4,318.7 170.0,319.0 171.4,319.5 171.5,318.2 172.1,318.6 172.7,319.0 174.1,319.5 174.2,318.1 174.8,318.6 175.4,319.0 176.8,319.5 176.9,318.1 177.5,318.6 178.1,318.9 179.5,319.5 179.6,318.1 180.0,318.3"/>
<polyline stroke="#ff7f0e" stroke-width="1.15" stroke-opacity="0.85" points="25.0,318.0 27.6,317.7 27.7,317.6 30.3,317.3 30.4,317.2 33.0,317.0 33.1,316.7 34.3,316.6 35.8,316.4 35.9,316.0 38.5,315.7 38.6,315.3 41.2,315.0 41.3,314.6 42.3,314.5 43.9,314.0 44.0,313.4 46.6,312.8 46.7,311.8 47.9,311.7 49.3,311.5 49.4,310.2 49.9,310.3 50.5,310.2 52.0,309.5 52.1,308.0 53.3,307.8 54.8,307.3 54.8,305.4 55.5,305.5 56.1,305.5 56.8,305.3 57.5,305.1 57.5,302.9 58.2,303.1 58.8,303.1 59.5,303.0 60.2,302.8 60.3,300.4 60.9,300.6 61.5,300.6 62.1,300.3 62.8,299.8 62.9,299.7 63.0,297.2 63.6,297.2 64.2,297.0 64.9,296.6 65.6,296.1 65.7,293.5 66.2,293.5 66.8,293.3 67.5,293.0 68.3,292.5 68.4,289.8 69.0,289.9 69.8,290.0 70.4,289.9 71.0,289.7 71.1,287.0 71.7,287.3 72.3,287.4 73.0,287.4 73.7,287.2 73.8,284.3 74.4,284.6 75.0,284.7 75.8,284.7 76.4,284.4 76.5,281.6 77.1,281.8 77.6,282.0 78.3,281.9 79.2,281.7 79.2,278.9 79.9,279.3 80.5,279.5 81.2,279.5 81.9,279.3 82.0,276.7 82.7,277.1 83.8,277.3 84.2,277.6 84.6,278.0 84.7,275.6 86.0,278.9 87.3,281.4 87.4,279.3 89.0,283.4 90.0,286.2 90.1,284.5 91.3,288.9 92.7,293.3 92.8,291.9 94.2,296.7 95.3,299.7 95.4,300.1 95.5,298.9 96.7,302.0 98.1,305.4 98.2,304.3 99.8,308.3 100.3,309.4 100.9,310.4 100.9,309.2 102.0,311.0 103.6,313.1 103.7,312.0 105.1,314.1 105.8,315.1 106.3,315.6 106.4,314.6 106.8,315.1 107.3,315.6 108.1,316.2 109.0,316.8 109.1,315.8 110.3,316.8 111.7,317.8 111.8,316.8 112.9,317.7 114.4,318.5 114.5,317.6 115.7,318.5 117.1,319.2 117.2,318.3 117.8,318.7 118.4,319.1 119.8,319.6 119.9,318.7 121.2,319.3 122.6,319.8 122.6,318.9 123.9,319.5 125.3,320.0 125.4,319.1 126.6,319.7 128.0,320.2 128.1,319.3 129.3,319.9 130.7,320.3 130.8,319.5 132.0,320.0 133.4,320.4 133.5,319.6 134.7,320.1 136.1,320.4 136.2,319.7 137.4,320.2 138.8,320.5 138.9,319.7 140.1,320.2 141.6,320.6 141.6,319.8 142.9,320.3 144.3,320.6 144.3,319.9 145.6,320.4 147.0,320.7 147.1,320.0 148.3,320.4 149.7,320.7 149.8,320.0 151.0,320.5 152.4,320.8 152.5,320.1 153.7,320.6 155.1,320.9 155.2,320.2 156.4,320.6 157.8,320.9 157.9,320.3 159.1,320.7 160.5,321.0 160.6,320.4 161.8,320.8 163.2,321.0 163.3,320.4 164.6,320.8 166.0,321.1 166.0,320.5 167.3,320.9 168.7,321.2 168.8,320.6 170.0,321.0 171.4,321.2 171.5,320.7 172.7,321.0 174.1,321.3 174.2,320.8 175.4,321.1 176.8,321.3 176.9,320.9 178.1,321.2 179.5,321.4 179.6,320.9 180.0,321.0"/>
<polyline stroke="#2ca02c" stroke-width="0.80" stroke-opacity="1.00" points="93.2,260.3 95.4,269.3 95.5,266.9 96.9,274.5 98.1,279.9 98.1,280.2 98.2,278.6 99.2,283.1 100.9,289.6 100.9,288.1 101.9,291.8 103.6,297.2 103.7,295.7 104.9,300.1 106.3,304.5 106.4,303.1 107.2,305.7 108.6,308.4 109.0,309.3 109.1,307.9 110.3,310.7 111.7,313.5 111.8,312.1 112.3,313.3 112.9,314.2 113.5,314.8 114.4,315.6 114.5,314.3 115.7,315.7 117.1,316.9 117.2,315.7 117.8,316.3 118.4,316.9 119.0,317.2 119.8,317.6 119.9,316.4 121.2,317.4 122.6,318.0 122.6,316.9 123.3,317.4 123.9,317.7 124.5,318.0 125.3,318.3 125.4,317.2 126.6,318.0 128.0,318.4 128.1,317.5 129.2,318.1 130.7,318.6 130.8,317.7 132.0,318.4 133.4,318.9 133.5,318.0 134.7,318.7 136.1,319.2 136.2,318.3 137.4,319.0 138.8,319.5 138.9,318.5 140.1,319.1 141.6,319.6 141.6,318.6 142.9,319.2 144.3,319.6 144.3,318.7 145.6,319.3 147.0,319.7 147.1,318.8 148.3,319.4 149.7,319.8 149.8,318.8 151.0,319.4 152.4,319.9 152.5,318.9 153.7,319.5 155.1,319.9 155.2,319.0 156.4,319.6 157.8,320.0 157.9,319.1 159.1,319.6 160.5,320.0 160.6,319.1 161.8,319.7 163.2,320.1 163.3,319.2 164.6,319.8 166.0,320.2 166.0,319.2 167.3,319.8 168.7,320.2 168.8,319.3 170.0,319.9 171.4,320.3 171.5,319.3 172.7,319.9 174.1,320.3 174.2,319.4 175.4,320.0 176.8,320.4 176.9,319.4 178.1,320.0 179.5,320.4 179.6,319.5 180.0,319.7"/>
<polyline stroke="#d62728" stroke-width="0.80" stroke-opacity="1.00" points="25.0,318.0 27.6,317.7 27.7,317.6 30.3,317.3 30.4,317.2 33.0,317.0 33.1,316.7 34.3,316.6 35.8,316.4 35.9,316.0 38.5,315.7 38.6,315.3 41.2,315.0 41.3,314.6 42.3,314.5 43.9,314.1 44.0,313.4 46.6,312.9 46.7,311.8 48.0,311.8 49.3,311.7 49.4,310.2 49.9,310.3 50.5,310.3 52.0,309.8 52.1,308.0 52.7,308.0 53.3,308.0 54.8,307.6 54.8,305.4 55.5,305.6 56.1,305.7 56.8,305.6 57.5,305.5 57.5,302.9 58.2,303.2 58.8,303.4 59.5,303.4 60.2,303.3 60.3,300.4 60.9,300.8 61.5,300.9 62.1,300.7 62.8,300.2 62.9,300.1 63.0,296.8 63.6,296.9 64.2,296.8 64.9,296.5 65.6,296.0 65.7,292.5 66.3,292.7 66.9,292.6 67.6,292.4 68.3,292.0 68.4,288.1 69.0,288.4 69.6,288.5 70.3,288.3 71.0,287.9 71.1,283.8 71.7,284.2 72.3,284.3 73.0,284.1 73.7,283.6 73.8,279.2 74.4,279.5 75.0,279.6 75.8,279.4 76.4,279.0 76.5,274.2 77.2,274.7 77.8,275.0 78.5,275.0 79.2,274.8 79.2,270.1 79.9,270.8 80.5,271.1 81.2,271.1 81.9,270.9 82.0,266.3 82.5,266.9 83.1,267.2 83.8,267.3 84.6,267.1 84.7,262.8 85.3,263.5 85.9,264.0 86.6,264.1 87.3,264.1 87.4,259.9 88.0,260.6 88.6,261.0 89.3,261.1 90.0,261.0 90.1,257.1 91.1,258.4 92.7,261.3 92.8,257.8 94.2,261.8 95.4,266.1 95.5,263.4 96.8,268.8 98.1,274.1 98.2,271.9 99.5,277.2 100.9,282.6 100.9,280.6 102.2,285.9 103.6,291.3 103.7,289.4 104.9,294.6 106.3,299.9 106.4,298.1 106.8,299.8 107.3,301.5 108.6,304.7 109.0,305.5 109.1,303.7 110.3,307.1 111.7,310.4 111.8,308.6 112.2,309.8 112.8,311.0 113.2,311.7 113.9,312.7 114.4,313.4 114.5,311.6 115.7,313.8 117.1,315.6 117.2,313.9 117.8,314.9 118.3,315.6 118.8,316.2 119.5,316.7 119.8,317.0 119.9,315.3 120.5,316.1 121.2,316.7 122.6,317.8 122.6,316.2 123.3,317.0 123.9,317.5 124.5,318.0 125.3,318.4 125.4,316.9 126.0,317.5 126.6,318.0 128.0,318.8 128.1,317.3 128.7,317.9 129.3,318.4 129.9,318.8 130.7,319.1 130.8,317.7 131.4,318.3 132.0,318.7 133.4,319.4 133.5,318.0 134.1,318.5 134.7,318.9 136.1,319.6 136.2,318.3 136.8,318.8 137.4,319.2 138.8,319.9 138.9,318.6 139.5,319.1 140.1,319.4 141.6,320.1 141.6,318.8 142.2,319.3 142.9,319.7 144.3,320.3 144.3,319.0 145.0,319.5 145.6,319.9 147.0,320.5 147.1,319.2 148.3,320.1 149.7,320.7 149.8,319.4 151.0,320.3 152.4,320.9 152.5,319.7 153.7,320.5 155.1,321.1 155.2,319.9 155.8,320.3 156.4,320.7 157.8,321.2 157.9,320.0 159.1,320.8 160.5,321.3 160.6,320.2 161.8,320.9 163.2,321.4 163.3,320.3 164.6,321.0 166.0,321.4 166.0,320.4 167.3,321.1 168.7,321.5 168.8,320.5 170.0,321.2 171.4,321.6 171.5,320.6 172.7,321.3 174.1,321.7 174.2,320.7 175.4,321.3 176.8,321.8 176.9,320.8 178.1,321.4 179.5,321.9 179.6,320.9 180.0,321.1"/>
<polyline stroke="#9467bd" stroke-width="0.80" stroke-opacity="1.00" points="97.4,235.8 98.1,237.6 98.2,224.5 99.4,231.5 100.9,239.2 100.9,225.2 101.6,230.7 102.2,235.3 102.8,239.1 103.6,243.2 103.7,228.3 104.3,234.3 104.9,239.4 105.5,243.7 106.3,248.4 106.4,232.6 107.0,239.3 107.6,245.1 108.3,250.9 109.0,255.7 109.1,239.0 109.7,246.1 110.3,251.9 111.0,257.3 111.7,261.6 111.8,245.8 112.4,252.9 113.0,259.0 113.7,265.2 114.4,270.5 114.5,255.8 115.1,263.3 115.7,269.6 116.4,275.6 117.1,280.7 117.2,266.9 117.8,274.1 118.4,279.9 119.1,284.7 119.8,289.9 119.9,277.0 120.5,283.5 121.2,288.9 121.9,293.9 122.6,298.0 122.6,286.4 123.3,292.4 123.9,297.1 124.5,300.6 125.3,304.1 125.4,294.1 126.0,298.8 126.6,302.5 127.3,305.9 128.0,308.6 128.1,300.4 128.7,304.5 129.3,307.6 129.9,309.7 130.7,311.5 130.8,304.8 131.4,307.5 132.0,309.6 132.7,311.5 133.4,313.0 133.5,307.1 134.1,309.5 134.7,311.4 135.4,313.1 136.1,314.4 136.2,309.3 136.8,311.5 137.4,313.2 138.1,314.6 138.8,315.6 138.9,311.4 139.4,312.8 140.1,314.1 140.8,315.2 141.6,316.1 141.6,312.3 142.2,313.8 142.9,314.9 143.6,315.8 144.3,316.5 144.3,313.2 145.0,314.5 145.6,315.5 146.3,316.3 147.0,317.0 147.1,314.1 147.6,315.0 148.2,315.9 148.9,316.6 149.7,317.3 149.8,314.5 150.4,315.5 151.0,316.3 151.7,317.0 152.4,317.6 152.5,314.9 153.1,315.9 153.7,316.7 154.4,317.3 155.1,317.9 155.2,315.3 155.8,316.2 156.4,317.0 157.1,317.6 157.8,318.2 157.9,315.6 158.4,316.4 159.0,317.1 159.8,317.7 160.5,318.2 160.6,315.8 161.2,316.6 161.8,317.3 162.5,317.8 163.2,318.3 163.3,315.9 163.9,316.7 164.6,317.4 165.3,317.9 166.0,318.3 166.0,316.0 166.7,316.8 167.3,317.4 168.0,318.0 168.7,318.4 168.8,316.2 169.4,316.9 170.0,317.5 170.7,318.0 171.4,318.4 171.5,316.3 172.1,317.0 172.7,317.6 173.4,318.1 174.1,318.4 174.2,316.4 174.8,317.1 175.4,317.6 176.1,318.1 176.8,318.5 176.9,316.5 177.5,317.2 178.1,317.7 178.8,318.2 179.5,318.5 179.6,316.6 180.0,317.0"/>
<polyline stroke="#8c564b" stroke-width="0.80" stroke-opacity="1.00" points="25.0,318.0 27.6,317.7 27.7,317.6 30.3,317.4 30.4,317.2 33.0,317.1 33.1,316.7 34.3,316.7 35.8,316.5 35.9,316.0 38.5,315.9 38.6,315.3 39.8,315.3 41.2,315.2 41.3,314.6 42.3,314.6 43.9,314.3 44.0,313.4 45.3,313.3 46.6,313.2 46.7,311.8 47.9,312.0 49.3,312.0 49.4,310.2 49.9,310.4 50.5,310.5 51.2,310.4 52.0,310.2 52.1,308.0 52.7,308.1 53.3,308.2 54.0,308.2 54.8,308.0 54.8,305.4 55.5,305.7 56.1,305.9 56.8,306.0 57.5,305.9 57.5,302.9 58.2,303.4 58.8,303.6 59.4,303.8 60.2,303.8 60.3,300.4 60.9,301.0 61.5,301.3 62.1,301.3 62.9,301.0 63.0,296.8 63.6,297.2 64.2,297.4 64.9,297.4 65.6,297.3 65.7,292.5 66.3,293.1 66.9,293.5 67.6,293.6 68.3,293.6 68.4,288.1 69.0,289.0 69.6,289.5 70.3,289.8 71.0,289.9 71.1,283.8 71.7,284.9 72.3,285.6 72.7,285.8 73.0,285.9 73.4,286.0 73.7,286.0 73.8,279.2 74.4,280.3 75.0,281.1 75.4,281.4 75.8,281.6 76.4,281.7 76.5,274.2 76.9,275.1 77.2,275.5 77.4,275.8 77.8,276.0 78.0,276.0 78.3,275.9 78.7,275.5 79.2,274.9 79.2,266.6 79.5,267.0 79.9,267.4 80.1,267.5 80.5,267.6 80.8,267.5 81.2,267.3 81.9,266.7 82.0,257.6 82.5,258.5 83.0,258.9 83.3,259.0 83.7,259.0 84.6,258.8 84.7,249.1 85.2,250.6 85.8,251.8 86.2,252.3 86.5,252.6 86.9,252.8 87.3,253.0 87.4,242.5 88.0,244.5 88.6,245.9 89.0,246.5 89.3,246.9 89.7,247.2 90.0,247.3 90.1,235.8 90.7,238.2 91.3,239.9 91.7,240.6 92.0,241.1 92.4,241.5 92.7,241.7 92.8,229.2 93.4,231.9 94.0,233.9 94.6,235.2 95.4,236.2 95.5,222.6 96.1,225.8 96.8,228.2 97.4,230.1 98.1,231.3 98.2,216.5 98.8,219.7 99.4,222.6 99.9,224.4 100.9,226.9 100.9,210.9 102.3,222.9 103.0,227.1 103.6,230.7 103.7,214.0 104.3,220.7 104.9,226.3 105.5,230.9 106.3,236.0 106.4,218.2 107.0,225.6 107.6,231.9 108.3,238.2 109.0,243.4 109.1,224.8 109.7,232.6 110.3,238.9 111.0,244.7 111.7,249.4 111.8,231.8 112.4,239.6 113.1,247.4 113.7,253.6 114.4,259.6 114.5,243.2 115.1,251.7 115.7,258.9 116.4,265.7 117.1,271.6 117.2,256.3 117.8,264.3 118.4,270.9 119.1,276.2 119.8,282.0 119.9,267.6 120.5,274.9 121.2,280.9 121.9,286.5 122.6,291.1 122.6,278.2 123.3,284.9 123.9,290.2 124.5,294.3 125.3,298.3 125.4,287.2 126.0,292.6 126.6,296.9 127.3,300.9 128.0,304.1 128.1,294.9 128.7,299.6 129.3,303.2 129.9,305.8 130.7,308.1 130.8,300.5 131.4,303.7 132.0,306.3 132.7,308.6 133.4,310.4 133.5,303.7 134.1,306.7 134.7,309.0 135.4,311.0 136.1,312.6 136.2,307.0 136.8,309.6 137.5,311.9 138.1,313.4 138.8,314.6 138.9,310.0 139.4,311.6 140.1,313.0 140.8,314.2 141.6,315.3 141.6,311.1 142.2,312.7 142.9,313.9 143.6,315.0 144.3,315.9 144.3,312.1 145.0,313.6 145.6,314.7 146.3,315.7 147.0,316.4 147.1,313.1 147.6,314.2 148.2,315.2 148.9,316.1 149.7,316.8 149.8,313.6 150.4,314.7 151.0,315.7 151.7,316.5 152.4,317.1 152.5,313.9 153.1,315.1 153.7,316.0 154.4,316.8 155.1,317.4 155.2,314.3 155.8,315.4 156.4,316.3 157.1,317.1 157.8,317.7 157.9,314.7 158.4,315.6 159.0,316.4 159.8,317.1 160.5,317.7 160.6,314.8 161.2,315.8 161.8,316.6 162.5,317.3 163.2,317.8 163.3,314.9 163.9,315.9 164.6,316.7 165.3,317.3 166.0,317.8 166.0,315.1 166.7,316.0 167.3,316.8 168.0,317.4 168.7,317.9 168.8,315.2 169.4,316.1 170.0,316.8 170.7,317.4 171.4,317.9 171.5,315.3 172.1,316.2 172.7,316.9 173.4,317.5 174.1,317.9 174.2,315.4 174.8,316.3 175.4,317.0 176.1,317.5 176.8,318.0 176.9,315.5 177.5,316.4 178.1,317.0 178.8,317.6 179.5,318.0 179.6,315.6 180.0,316.1"/>
</g>
<rect x="25.00" y="206.00" width="162.50" height="121.10" fill="none" stroke="#222" stroke-width="0.65"/>
<path d="M25.00,327.10v1.40M60.00,327.10v1.40M95.00,327.10v1.40M130.00,327.10v1.40M165.00,327.10v1.40M25.00,324.30h-1.40M25.00,300.30h-1.40M25.00,276.30h-1.40M25.00,252.30h-1.40M25.00,228.30h-1.40M49.50,206.00v-1.40M76.60,206.00v-1.40M103.70,206.00v-1.40M130.80,206.00v-1.40M157.90,206.00v-1.40M185.00,206.00v-1.40" stroke="#222" stroke-width="0.4" fill="none"/>
<rect x="139.00" y="207.80" width="47.40" height="43.10" rx="0.8" fill="#fff" fill-opacity="0.8" stroke="#ccc" stroke-width="0.4"/>
<path d="M141.10,212.10H151.40" stroke="#1f77b4" stroke-width="1.15" stroke-opacity="0.62"/>
<path d="M141.10,218.90H151.40" stroke="#ff7f0e" stroke-width="1.15" stroke-opacity="0.62"/>
<path d="M141.10,225.70H151.40" stroke="#2ca02c" stroke-width="0.80" stroke-opacity="1.00"/>
<path d="M141.10,232.60H151.40" stroke="#d62728" stroke-width="0.80" stroke-opacity="1.00"/>
<path d="M141.10,239.40H151.40" stroke="#9467bd" stroke-width="0.80" stroke-opacity="1.00"/>
<path d="M141.10,246.30H151.40" stroke="#8c564b" stroke-width="0.80" stroke-opacity="1.00"/>
<text transform="translate(10.20,266.75) rotate(-90)" font-family="'Liberation Serif',serif" font-size="8.95" text-anchor="middle" fill="#111" stroke="#111" stroke-width="0.16">Loss</text>
<clipPath id="cd"><rect x="245.25" y="205.90" width="162.85" height="121.30"/></clipPath>
<g clip-path="url(#cd)" fill="none" stroke-linejoin="round" stroke-linecap="butt">
<polyline stroke="#1f77b4" stroke-width="0.69" stroke-opacity="0.85" points="245.2,291.8 245.3,291.9 245.4,291.8 246.0,292.9 246.7,293.4 247.5,293.8 248.5,294.1 248.6,263.9 249.1,266.4 249.5,267.3 249.8,268.2 250.2,268.9 250.7,269.4 251.1,269.8 251.7,270.1 251.8,232.9 252.4,236.0 252.7,237.2 253.0,238.2 253.5,239.1 253.9,239.7 254.3,240.2 254.9,240.6 255.0,222.1 255.4,227.3 255.9,231.4 256.4,234.5 257.0,236.9 257.6,238.2 258.1,239.0 258.2,231.4 258.8,239.4 259.4,244.8 259.8,247.0 260.1,248.5 260.6,249.9 261.1,251.0 263.8,268.6 264.6,275.1 266.1,283.3 267.1,291.8 267.7,293.2 268.2,297.8 269.0,300.3 269.7,303.9 270.4,307.4 270.9,311.0 271.9,314.0 272.6,315.7 273.7,316.8 276.8,318.8 283.3,320.2 298.5,321.1 329.4,321.5 400.1,321.6"/>
<polyline stroke="#ff7f0e" stroke-width="1.15" stroke-opacity="0.85" points="245.2,291.8 245.3,291.9 245.4,291.8 246.0,292.9 246.7,293.4 247.5,293.8 248.5,294.1 248.6,263.9 249.1,266.4 249.5,267.3 249.8,268.2 250.2,268.9 250.7,269.4 251.1,269.8 251.7,270.1 251.8,232.9 252.4,236.0 252.7,237.2 253.0,238.2 253.5,239.1 253.9,239.7 254.3,240.2 254.9,240.6 255.0,222.1 255.4,227.3 255.9,231.4 256.4,234.5 257.0,236.9 257.6,238.2 258.1,239.0 258.2,231.4 258.8,239.4 259.4,244.8 259.8,247.0 260.1,248.5 260.6,249.9 261.1,251.0 263.8,268.6 264.6,275.1 266.1,283.3 267.1,291.8 267.7,293.2 268.2,297.8 269.0,300.3 269.7,303.9 270.4,307.4 270.9,311.0 271.9,314.0 272.6,315.7 273.7,316.8 276.8,318.8 283.3,320.2 298.5,321.1 329.4,321.5 400.1,321.6"/>
<polyline stroke="#2ca02c" stroke-width="0.80" stroke-opacity="1.00" points="270.9,285.4 271.0,285.5 271.0,286.4 271.1,286.9 272.6,291.4 273.9,294.7 274.5,296.2 274.8,297.1 275.0,297.5 275.0,297.5 275.1,297.7 275.2,298.0 275.3,298.0 275.5,298.3 276.0,299.9 276.1,300.1 276.2,300.4 276.2,300.3 276.3,300.9 276.4,301.0 276.4,300.8 276.5,301.1 276.5,301.0 276.7,301.9 276.8,302.0 276.9,302.0 276.9,302.1 277.0,302.1 277.1,302.6 277.2,302.3 277.3,302.6 277.4,302.3 277.4,302.5 277.5,302.3 277.6,302.8 277.7,302.5 277.9,304.2 278.1,303.4 278.1,303.6 278.2,303.4 278.2,303.6 278.3,304.5 278.4,304.1 278.5,304.7 278.6,304.1 278.8,305.4 278.8,305.4 278.9,305.7 278.9,305.4 279.0,305.4 279.1,304.7 279.1,305.2 279.2,305.2 279.2,305.0 279.3,306.3 279.4,305.7 279.4,305.8 279.5,305.6 279.5,305.6 279.6,305.6 279.7,306.5 279.9,307.3 280.0,306.6 280.1,306.8 280.2,306.7 280.2,307.1 280.3,306.7 280.4,306.7 280.5,308.2 280.6,307.6 280.7,307.8 280.8,307.8 280.8,307.2 280.9,307.4 280.9,307.0 281.1,308.0 281.2,309.2 281.3,309.2 281.3,308.6 281.4,308.6 281.5,307.0 281.7,307.8 281.9,307.2 282.0,307.9 282.1,307.8 282.1,308.5 282.2,308.6 282.2,308.2 282.3,309.2 282.4,308.8 282.4,308.6 282.5,308.9 282.5,308.4 282.7,309.6 282.8,308.8 282.8,309.2 282.9,309.0 283.0,308.0 283.0,309.2 283.1,309.1 283.2,310.2 283.3,309.5 283.4,310.4 283.5,309.8 283.6,310.3 283.6,310.1 283.8,311.2 283.8,311.1 283.9,311.2 284.0,310.9 284.1,311.3 284.2,310.7 284.2,310.9 284.3,310.5 284.5,311.2 284.5,311.8 284.6,311.8 284.8,311.2 284.9,311.4 284.9,311.3 285.0,311.7 285.1,311.2 285.2,311.5 285.2,312.2 285.3,312.5 285.4,312.1 285.5,312.2 285.5,311.8 285.6,312.6 285.8,312.4 285.8,312.8 285.9,312.8 285.9,312.3 286.0,312.2 286.0,312.4 286.1,312.2 286.2,313.4 286.3,313.3 286.3,313.5 286.4,313.1 286.5,312.7 286.6,313.3 286.7,313.2 286.8,313.2 286.8,313.5 286.9,313.5 287.0,313.7 287.1,313.4 287.2,313.6 287.3,313.4 287.3,313.6 287.4,313.5 287.5,313.8 287.6,313.9 287.6,314.2 287.8,314.3 288.0,314.4 288.1,314.6 288.2,314.4 288.7,315.0 289.0,315.1 289.2,315.3 289.6,315.5 291.3,316.6 291.8,316.9 295.7,318.3 300.0,319.4 308.4,320.2 318.9,320.8 329.4,320.9 400.1,321.1"/>
<polyline stroke="#d62728" stroke-width="0.80" stroke-opacity="1.00" points="245.2,290.2 245.3,290.3 245.4,290.2 246.0,291.0 246.7,291.3 247.5,291.6 248.5,291.8 248.6,258.5 249.1,260.3 249.5,261.0 249.8,261.7 250.2,262.2 250.7,262.6 251.1,262.9 251.7,263.1 251.8,229.0 252.4,232.4 252.7,233.7 253.0,234.9 253.5,235.8 253.9,236.5 254.3,237.1 254.9,237.5 255.0,211.2 255.6,218.0 256.2,222.6 256.6,224.4 257.0,225.9 257.4,227.0 257.9,227.9 258.1,228.2 258.2,215.9 258.5,221.1 258.9,225.7 259.3,229.6 259.7,232.4 260.3,235.0 260.9,236.7 261.3,237.5 261.4,236.0 261.7,238.6 262.1,240.9 262.5,242.7 262.9,244.1 263.2,245.0 263.7,245.8 264.1,246.4 264.6,246.9 265.2,253.0 265.5,255.4 265.9,257.5 266.3,259.2 266.7,260.5 267.2,261.5 267.8,262.3 268.0,266.7 268.4,272.6 268.8,276.8 269.2,279.8 269.6,281.7 270.0,283.4 270.4,284.5 271.0,285.5 271.0,286.4 271.1,286.9 272.6,291.0 274.2,294.9 277.2,300.8 277.4,301.0 277.4,300.7 278.4,302.6 280.2,305.6 280.6,306.1 280.6,305.7 281.6,307.2 283.3,309.3 283.8,309.9 283.9,309.4 284.5,310.4 285.5,311.4 287.0,313.0 287.1,312.6 287.9,313.7 288.3,314.2 290.2,315.5 290.3,315.0 291.1,315.8 291.8,316.3 293.4,317.1 293.5,316.6 294.0,317.0 294.6,317.4 295.7,318.0 296.2,318.1 296.6,318.2 296.7,317.8 297.2,318.1 297.9,318.4 299.8,319.1 299.9,318.6 300.7,319.0 302.1,319.3 303.1,319.4 303.1,319.0 303.8,319.3 305.0,319.6 306.3,319.8 306.3,319.3 306.9,319.6 307.6,319.8 308.4,320.0 309.5,320.1 309.5,319.6 310.1,319.9 310.7,320.0 312.7,320.2 312.7,319.8 313.3,320.0 313.9,320.2 315.9,320.4 315.9,319.9 316.4,320.2 317.0,320.3 318.9,320.5 319.1,320.6 319.2,320.1 319.7,320.3 320.3,320.5 322.3,320.6 322.4,320.2 322.9,320.4 323.5,320.5 325.5,320.7 325.6,320.2 326.1,320.5 326.7,320.6 328.7,320.8 328.8,320.3 329.3,320.5 329.9,320.7 331.9,320.8 332.0,320.3 332.5,320.5 333.1,320.7 335.1,320.8 335.2,320.3 335.7,320.6 336.4,320.7 338.4,320.8 338.4,320.3 338.9,320.6 339.6,320.7 341.6,320.8 341.6,320.3 342.1,320.6 342.8,320.7 344.8,320.8 344.8,320.4 345.3,320.6 346.0,320.7 348.0,320.8 348.0,320.4 348.6,320.6 349.2,320.7 351.2,320.8 351.2,320.4 351.8,320.6 352.4,320.7 354.4,320.8 354.4,320.4 355.0,320.6 355.6,320.7 357.6,320.8 357.7,320.4 358.2,320.6 358.8,320.7 360.8,320.9 360.9,320.4 361.4,320.6 362.0,320.7 364.0,320.9 364.1,320.4 364.6,320.6 365.2,320.8 367.2,320.9 367.3,320.4 367.8,320.6 368.4,320.8 370.4,320.9 370.5,320.4 371.0,320.6 371.6,320.8 373.6,320.9 373.7,320.4 374.2,320.6 374.9,320.8 376.9,320.9 376.9,320.4 377.4,320.6 378.1,320.8 380.1,320.9 380.1,320.4 380.6,320.7 381.3,320.8 383.3,320.9 383.3,320.4 383.8,320.6 384.4,320.8 386.3,320.9 386.5,320.9 386.5,320.4 387.0,320.7 387.6,320.8 389.4,320.9 389.7,320.9 389.7,320.5 390.2,320.7 390.7,320.8 392.3,320.9 392.9,320.9 393.0,320.5 393.8,320.8 395.3,320.9 396.1,320.9 396.2,320.5 396.9,320.7 397.9,320.9 399.3,320.9 399.4,320.5 400.1,320.7"/>
<polyline stroke="#9467bd" stroke-width="0.80" stroke-opacity="1.00" points="273.9,291.6 274.2,292.0 274.2,292.5 274.5,293.2 274.9,294.0 275.3,294.7 276.2,295.8 277.3,296.8 277.3,302.0 277.4,302.1 277.4,297.2 278.1,299.7 278.9,302.0 279.9,304.3 280.3,305.3 280.6,305.8 280.6,300.7 281.3,302.9 282.0,304.9 282.9,306.7 283.8,308.1 283.9,303.9 284.5,305.8 285.3,307.3 286.2,308.8 287.0,309.9 287.1,305.6 287.6,307.2 288.3,308.6 289.1,309.7 289.9,310.6 290.2,310.9 290.3,307.3 291.0,308.7 291.7,309.9 292.5,310.9 293.4,311.6 293.5,308.4 294.1,309.6 294.9,310.7 295.7,311.5 296.6,312.3 296.7,309.3 297.4,310.5 298.1,311.4 298.9,312.2 299.8,312.9 299.9,310.1 300.6,311.2 301.3,312.1 302.2,312.9 303.1,313.5 303.1,310.9 303.7,311.8 304.5,312.6 305.3,313.3 306.3,313.8 306.3,311.5 306.9,312.3 307.6,313.0 308.4,313.5 309.2,314.0 309.5,314.1 309.5,311.9 310.2,312.7 310.9,313.4 311.7,314.0 312.7,314.4 312.7,312.4 313.4,313.1 314.1,313.8 314.9,314.3 315.9,314.6 315.9,312.9 316.6,313.6 317.4,314.1 318.2,314.5 319.1,314.9 319.2,313.2 319.8,313.8 320.5,314.3 321.4,314.7 322.3,315.1 322.4,313.5 323.0,314.1 323.7,314.6 324.6,315.0 325.5,315.3 325.6,313.8 326.2,314.4 326.9,314.8 327.8,315.2 328.7,315.5 328.8,314.2 329.4,314.7 330.1,315.1 331.0,315.4 331.9,315.7 332.0,314.5 332.6,314.9 333.3,315.3 334.9,315.8 335.1,315.9 335.2,314.8 335.9,315.2 336.6,315.5 337.4,315.8 338.4,316.0 338.4,315.1 339.0,315.4 339.8,315.7 341.6,316.2 341.6,315.3 342.9,315.9 344.6,316.3 344.8,316.3 344.8,315.5 346.2,316.1 348.0,316.5 348.0,315.7 349.4,316.2 351.2,316.5 351.2,315.8 352.7,316.3 354.4,316.6 354.4,316.0 355.8,316.4 357.4,316.7 357.6,316.7 357.7,316.1 359.1,316.5 360.8,316.8 360.9,316.2 362.2,316.6 364.0,316.8 364.1,316.3 365.5,316.6 367.2,316.8 367.3,316.4 368.6,316.7 370.4,316.8 370.5,316.4 371.8,316.7 373.6,316.8 373.7,316.5 375.1,316.7 376.9,316.9 376.9,316.5 378.3,316.7 380.1,316.9 380.1,316.5 381.5,316.7 383.3,316.9 383.3,316.5 384.7,316.7 386.5,316.9 386.5,316.5 388.0,316.7 389.7,316.9 389.7,316.5 391.2,316.8 392.9,316.9 393.0,316.6 394.4,316.8 396.1,316.9 396.2,316.6 397.6,316.8 399.3,316.9 399.4,316.6 400.1,316.7"/>
<polyline stroke="#8c564b" stroke-width="0.80" stroke-opacity="1.00" points="245.2,290.2 245.3,290.3 245.4,290.2 246.0,291.0 246.7,291.3 247.5,291.6 248.5,291.8 248.6,258.5 249.1,260.3 249.5,261.0 249.8,261.7 250.2,262.2 250.7,262.6 251.1,262.9 251.7,263.1 251.8,229.0 252.4,232.4 252.7,233.7 253.0,234.9 253.5,235.8 253.9,236.5 254.3,237.1 254.9,237.5 255.0,211.2 255.6,218.0 256.2,222.6 256.6,224.4 257.0,225.9 257.4,227.0 257.9,227.9 258.1,228.2 258.2,215.9 258.5,221.1 258.9,225.7 259.3,229.6 259.8,232.7 260.3,235.1 261.0,236.8 261.3,237.5 261.4,236.0 261.7,238.6 262.1,240.9 262.5,242.7 262.9,244.1 263.2,245.0 263.7,245.8 264.1,246.4 264.6,246.9 265.2,253.0 265.5,255.4 265.9,257.5 266.3,259.2 266.7,260.5 267.2,261.5 267.8,262.3 268.0,266.7 268.4,272.6 268.8,276.8 269.2,279.8 269.6,281.7 270.0,283.4 270.4,284.5 271.0,285.5 271.0,286.4 271.6,288.5 272.0,289.6 272.5,290.4 273.2,291.2 273.7,291.5 274.2,291.8 274.2,292.3 274.3,292.5 274.7,293.2 275.1,293.7 275.5,294.1 276.1,294.5 276.7,294.7 277.3,294.9 277.3,297.2 277.4,297.3 277.4,290.6 278.1,293.2 278.9,295.6 279.7,297.8 280.6,299.7 280.6,291.6 281.2,294.6 281.9,297.2 282.6,299.5 283.4,301.3 283.8,302.1 283.9,295.3 284.5,298.2 285.3,300.6 286.1,302.8 287.0,304.5 287.1,297.9 287.8,300.5 288.5,302.7 289.3,304.6 289.9,305.5 290.2,306.1 290.3,299.7 290.9,301.9 291.6,303.9 292.5,305.5 293.4,306.8 293.5,300.5 294.2,302.9 294.9,305.0 295.7,306.7 296.6,308.1 296.7,301.7 297.3,304.0 298.1,305.9 298.9,307.6 299.8,308.9 299.9,302.9 300.6,305.2 301.3,307.1 302.2,308.7 303.1,309.9 303.1,303.9 303.8,306.2 304.5,308.0 305.3,309.5 306.3,310.7 306.3,305.0 306.9,306.8 307.6,308.5 308.3,309.8 309.2,310.9 309.5,311.2 309.5,306.0 310.2,307.8 310.9,309.4 311.7,310.7 312.7,311.7 312.7,306.8 313.4,308.5 314.1,310.0 314.9,311.2 315.9,312.1 315.9,307.6 316.6,309.3 317.4,310.6 318.2,311.7 319.1,312.5 319.2,308.2 319.8,309.7 320.5,310.9 321.2,311.9 322.0,312.7 322.3,312.9 322.4,308.9 323.0,310.3 323.8,311.5 324.6,312.4 325.5,313.2 325.6,309.4 326.3,310.8 326.9,311.9 327.8,312.8 328.7,313.5 328.8,309.9 329.4,311.2 330.0,312.1 330.8,312.9 331.7,313.6 331.9,313.7 332.0,310.4 332.6,311.6 333.4,312.6 334.2,313.4 335.1,314.0 335.2,310.9 335.9,312.0 336.6,312.9 337.4,313.6 338.4,314.2 338.4,311.4 339.0,312.3 339.8,313.2 340.6,313.8 341.6,314.3 341.6,311.8 342.2,312.7 343.0,313.4 343.8,314.0 344.8,314.4 344.8,312.2 345.5,313.0 346.2,313.7 347.1,314.2 348.0,314.6 348.0,312.6 348.7,313.3 349.4,313.9 350.2,314.3 351.2,314.7 351.2,312.9 351.9,313.5 352.6,314.0 353.4,314.4 354.4,314.7 354.4,313.2 355.1,313.7 355.8,314.2 356.7,314.6 357.6,314.8 357.7,313.5 358.3,314.0 359.1,314.4 359.9,314.7 360.8,314.9 360.9,313.8 361.5,314.2 362.2,314.5 363.1,314.7 364.0,314.9 364.1,314.0 364.7,314.3 365.4,314.6 367.2,315.0 367.3,314.2 368.6,314.7 370.4,315.0 370.5,314.4 371.7,314.7 373.6,315.0 373.7,314.5 375.1,314.8 376.9,315.0 376.9,314.5 378.3,314.8 380.1,315.0 380.1,314.5 381.5,314.8 383.3,315.0 383.3,314.6 384.7,314.8 386.5,315.0 386.5,314.6 388.0,314.9 389.7,315.0 389.7,314.6 391.1,314.9 392.9,315.0 393.0,314.7 394.3,314.9 396.1,315.0 396.2,314.7 397.5,314.9 399.3,315.0 399.4,314.7 400.1,314.8"/>
</g>
<rect x="245.25" y="205.90" width="162.85" height="121.30" fill="none" stroke="#222" stroke-width="0.65"/>
<path d="M245.25,327.20v1.40M266.29,327.20v1.40M287.33,327.20v1.40M308.37,327.20v1.40M329.41,327.20v1.40M350.45,327.20v1.40M371.49,327.20v1.40M392.53,327.20v1.40M245.25,322.80h-1.40M245.25,307.30h-1.40M245.25,291.80h-1.40M245.25,276.30h-1.40M245.25,260.80h-1.40M245.25,245.30h-1.40M245.25,229.80h-1.40M245.25,214.30h-1.40M274.60,205.90v-1.40M307.10,205.90v-1.40M339.60,205.90v-1.40M372.10,205.90v-1.40M404.60,205.90v-1.40" stroke="#222" stroke-width="0.4" fill="none"/>
<rect x="363.80" y="207.80" width="42.60" height="43.10" rx="0.8" fill="#fff" fill-opacity="0.8" stroke="#ccc" stroke-width="0.4"/>
<path d="M366.00,212.10H375.90" stroke="#1f77b4" stroke-width="1.15" stroke-opacity="0.62"/>
<path d="M366.00,218.90H375.90" stroke="#ff7f0e" stroke-width="1.15" stroke-opacity="0.62"/>
<path d="M366.00,225.70H375.90" stroke="#2ca02c" stroke-width="0.80" stroke-opacity="1.00"/>
<path d="M366.00,232.60H375.90" stroke="#d62728" stroke-width="0.80" stroke-opacity="1.00"/>
<path d="M366.00,239.40H375.90" stroke="#9467bd" stroke-width="0.80" stroke-opacity="1.00"/>
<path d="M366.00,246.30H375.90" stroke="#8c564b" stroke-width="0.80" stroke-opacity="1.00"/>
<text transform="translate(235.65,266.75) rotate(-90)" font-family="'Liberation Serif',serif" font-size="8.95" text-anchor="middle" fill="#111" stroke="#111" stroke-width="0.16">Loss</text>
<clipPath id="ce"><rect x="24.90" y="390.50" width="162.60" height="121.50"/></clipPath>
<g clip-path="url(#ce)" fill="none" stroke-linejoin="round" stroke-linecap="butt">
<polyline stroke="#1f77b4" stroke-width="0.48" stroke-opacity="1.00" points="24.9,476.0 25.0,476.1 25.0,476.0 25.7,477.1 26.3,477.6 27.1,478.1 28.2,478.3 28.2,448.1 28.8,450.6 29.1,451.5 29.5,452.4 29.9,453.1 30.3,453.6 30.8,454.0 31.4,454.3 31.4,417.1 32.0,420.2 32.3,421.4 32.7,422.4 33.1,423.3 33.5,424.0 34.0,424.5 34.6,424.9 34.6,406.3 35.1,411.5 35.5,415.7 36.1,418.8 36.7,421.1 37.2,422.4 37.8,423.3 37.9,415.6 38.4,423.6 39.1,429.1 39.4,431.2 39.8,432.8 40.2,434.1 40.7,435.2 43.4,452.8 44.3,459.3 45.7,467.5 46.8,476.0 47.3,477.4 47.9,482.0 48.7,484.5 49.3,488.1 50.1,491.6 50.6,495.3 51.5,498.2 52.3,500.0 53.3,501.1 56.5,503.1 63.0,504.5 78.2,505.6 99.9,506.1 113.4,506.3 179.8,506.3"/>
<polyline stroke="#ff7f0e" stroke-width="0.80" stroke-opacity="1.00" points="24.9,476.0 25.0,476.1 25.0,476.0 25.7,477.1 26.3,477.6 27.1,478.1 28.2,478.3 28.2,448.1 28.8,450.6 29.1,451.5 29.5,452.4 29.9,453.1 30.3,453.6 30.8,454.0 31.4,454.3 31.4,417.1 32.0,420.2 32.3,421.4 32.7,422.4 33.1,423.3 33.5,424.0 34.0,424.5 34.6,424.9 34.6,406.3 35.1,411.5 35.5,415.7 36.1,418.8 36.7,421.1 37.2,422.4 37.8,423.3 37.9,415.6 38.4,423.6 39.1,429.1 39.4,431.2 39.8,432.8 40.2,434.1 40.7,435.2 43.4,452.8 44.3,459.3 45.7,467.5 46.8,476.0 47.3,477.4 47.9,482.0 48.7,484.5 49.3,488.1 50.1,491.6 50.6,495.3 51.5,498.2 52.3,500.0 53.3,501.1 56.5,503.1 63.0,504.5 78.2,505.6 99.9,506.1 113.4,506.3 179.8,506.3"/>
<polyline stroke="#2ca02c" stroke-width="0.80" stroke-opacity="1.00" points="50.6,469.7 50.8,471.3 52.3,475.9 53.4,479.1 53.9,480.4 54.3,481.4 54.4,481.7 54.7,482.5 54.8,482.5 54.9,482.8 55.0,482.8 55.1,483.1 55.3,483.9 55.5,484.6 55.5,484.4 55.6,484.7 55.8,484.6 56.0,485.8 56.1,485.6 56.2,486.2 56.3,486.1 56.4,486.6 56.4,486.5 56.5,486.9 56.6,486.7 56.8,487.2 56.9,487.1 57.0,488.0 57.1,488.1 57.1,488.4 57.2,488.4 57.2,488.0 57.4,488.5 57.6,488.1 57.7,488.0 57.8,488.7 57.9,488.6 57.9,488.7 58.0,488.2 58.1,488.3 58.1,488.9 58.3,489.4 58.3,490.1 58.4,489.5 58.4,490.0 58.5,489.8 58.5,489.9 58.6,489.7 58.8,491.1 59.0,490.7 59.0,490.9 59.1,490.4 59.2,491.3 59.2,491.5 59.3,491.4 59.3,492.0 59.5,491.2 59.6,491.1 59.6,490.7 59.7,490.8 59.8,491.1 59.8,491.0 59.9,491.1 60.1,493.2 60.2,492.5 60.3,491.5 60.6,493.1 60.7,492.1 60.8,492.8 61.0,493.8 61.1,492.6 61.1,492.6 61.2,491.8 61.3,491.8 61.3,493.3 61.5,495.3 61.7,493.8 61.8,495.4 61.9,494.8 61.9,494.9 62.0,495.1 62.0,495.0 62.1,494.1 62.2,494.2 62.3,493.8 62.4,494.8 62.5,494.8 62.5,494.6 62.7,495.2 62.8,494.3 62.8,494.6 62.9,494.3 62.9,494.5 63.0,493.9 63.0,494.6 63.1,494.6 63.1,494.6 63.2,495.1 63.3,495.2 63.4,495.8 63.4,495.5 63.5,495.9 63.5,495.9 63.6,496.0 63.7,495.8 63.7,496.0 63.8,495.6 63.8,496.0 63.9,496.0 64.0,495.7 64.1,495.7 64.1,495.5 64.3,496.6 64.3,496.2 64.5,497.2 64.5,497.0 64.7,497.3 64.8,496.6 64.9,497.4 65.0,497.3 65.1,497.0 65.2,497.0 65.3,497.6 65.5,497.8 65.5,497.7 65.7,498.3 66.0,497.4 66.2,498.1 66.3,498.7 66.5,499.0 66.7,498.7 66.7,498.9 66.8,498.8 67.0,499.1 67.0,499.0 67.1,499.2 67.2,499.1 67.3,499.2 67.3,499.2 67.6,499.7 67.8,499.7 68.0,500.0 68.3,499.9 68.5,500.2 69.0,500.5 69.1,500.6 69.4,500.7 69.7,500.9 70.0,501.1 71.3,501.9 75.4,503.3 79.7,504.4 81.9,504.6 88.1,505.2 98.6,505.8 113.4,506.1 179.8,506.2"/>
<polyline stroke="#d62728" stroke-width="1.15" stroke-opacity="0.85" points="24.9,474.5 25.0,474.5 25.0,474.5 25.7,475.2 26.3,475.6 27.1,475.8 28.2,476.0 28.2,442.7 28.8,444.6 29.1,445.3 29.5,445.9 29.9,446.4 30.3,446.8 30.8,447.1 31.4,447.3 31.4,413.3 32.0,416.7 32.3,418.0 32.7,419.1 33.1,420.1 33.5,420.8 34.0,421.3 34.6,421.7 34.6,395.4 35.2,402.2 35.9,406.8 36.2,408.6 36.6,410.1 37.1,411.2 37.6,412.1 37.8,412.4 37.9,400.1 38.2,405.3 38.5,409.9 39.0,413.8 39.4,416.6 40.0,419.2 40.6,420.9 41.0,421.7 41.1,420.2 41.4,422.8 41.7,425.2 42.1,426.9 42.5,428.3 42.9,429.3 43.3,430.0 43.7,430.6 44.3,431.1 44.9,437.3 45.2,439.6 45.5,441.7 46.0,443.5 46.4,444.7 46.9,445.7 47.4,446.5 47.6,450.9 48.1,456.8 48.5,461.0 48.9,464.0 49.3,466.0 49.6,467.4 50.1,468.6 50.6,469.8 50.7,470.7 50.8,471.3 52.3,475.6 53.9,479.7 57.1,486.1 57.1,485.8 58.4,488.3 59.9,490.6 60.3,491.1 60.3,490.8 61.4,492.5 62.9,494.4 63.5,495.0 63.5,494.6 64.2,495.6 65.2,496.6 66.7,498.2 66.8,497.8 67.4,498.7 67.9,499.2 69.9,500.6 70.0,500.2 70.7,500.9 71.4,501.4 73.1,502.1 73.2,501.8 74.2,502.5 75.3,502.9 75.8,503.1 76.3,503.2 76.4,502.9 76.9,503.2 77.6,503.5 79.6,504.0 79.6,503.7 80.5,504.0 81.9,504.3 82.8,504.4 82.8,504.1 83.6,504.4 84.7,504.6 86.0,504.8 86.0,504.4 86.6,504.7 87.3,504.8 89.2,505.0 89.2,504.7 90.0,505.0 91.0,505.1 92.4,505.2 92.4,504.9 93.0,505.1 93.6,505.2 95.6,505.4 95.7,505.1 96.8,505.4 98.6,505.6 98.8,505.6 98.9,505.3 99.8,505.5 101.3,505.6 102.0,505.7 102.1,505.4 102.9,505.6 104.2,505.7 105.2,505.8 105.3,505.5 106.0,505.7 107.1,505.8 108.5,505.9 108.5,505.6 109.6,505.8 111.7,505.9 111.7,505.7 112.9,505.9 114.9,506.0 114.9,505.7 116.1,505.9 118.1,506.0 118.1,505.7 119.3,505.9 121.3,506.0 121.4,505.7 122.5,505.9 124.5,506.0 124.6,505.7 125.7,505.9 127.7,506.0 127.8,505.7 128.9,505.9 130.9,506.0 131.0,505.7 132.1,505.9 134.1,506.0 134.2,505.8 135.4,505.9 137.4,506.0 137.4,505.8 138.6,505.9 140.6,506.0 140.6,505.8 141.8,505.9 143.8,506.0 143.8,505.8 145.0,505.9 147.0,506.0 147.0,505.8 148.2,506.0 150.2,506.0 150.3,505.8 151.4,506.0 153.4,506.0 153.5,505.8 154.6,506.0 156.6,506.0 156.7,505.8 157.8,506.0 159.8,506.0 159.9,505.8 161.1,506.0 163.1,506.0 163.1,505.8 164.2,506.0 166.1,506.0 166.3,506.0 166.3,505.8 167.4,506.0 169.2,506.0 169.5,506.0 169.5,505.8 170.5,506.0 172.1,506.0 172.7,506.0 172.7,505.8 173.6,506.0 175.1,506.0 175.9,506.0 176.0,505.8 176.7,505.9 177.7,506.0 179.1,506.0 179.2,505.8 179.8,505.9"/>
<polyline stroke="#9467bd" stroke-width="1.15" stroke-opacity="0.85" points="53.5,476.5 53.9,476.8 53.9,477.3 54.2,478.1 54.6,479.0 55.0,479.8 55.9,480.9 57.0,482.0 57.0,487.1 57.1,487.2 57.1,482.5 57.8,484.9 58.6,487.3 59.5,489.5 60.0,490.4 60.3,490.8 60.3,486.0 61.0,488.3 61.8,490.2 62.6,491.9 63.5,493.2 63.5,489.2 64.2,491.0 65.0,492.5 65.9,493.9 66.7,495.0 66.8,490.9 67.4,492.5 68.1,493.9 69.0,495.1 69.9,496.0 70.0,492.7 70.7,494.0 71.4,495.1 72.2,496.1 73.1,496.8 73.2,493.8 73.8,494.8 74.4,495.8 75.2,496.6 76.0,497.2 76.3,497.4 76.4,494.8 77.1,495.8 77.8,496.7 78.6,497.4 79.6,498.1 79.6,495.6 80.3,496.6 81.0,497.4 81.9,498.2 82.8,498.7 82.8,496.4 83.4,497.2 84.2,498.0 85.0,498.6 86.0,499.1 86.0,497.0 86.7,497.8 87.4,498.4 88.2,499.0 89.2,499.4 89.2,497.5 89.9,498.2 90.6,498.8 91.4,499.3 92.4,499.7 92.4,498.0 93.1,498.7 93.8,499.2 94.7,499.7 95.6,500.0 95.7,498.5 96.3,499.1 97.1,499.6 97.9,500.0 98.8,500.3 98.9,498.9 99.5,499.4 100.2,499.8 101.1,500.2 102.0,500.5 102.1,499.2 102.7,499.7 103.5,500.1 104.3,500.5 105.2,500.8 105.3,499.6 105.9,500.0 106.6,500.4 107.3,500.7 108.1,500.9 108.5,501.0 108.5,499.9 109.1,500.3 109.9,500.7 110.7,501.0 111.7,501.2 111.7,500.2 112.4,500.6 113.2,501.0 114.9,501.4 114.9,500.5 115.6,500.9 116.4,501.1 118.1,501.5 118.1,500.7 119.5,501.3 121.3,501.7 121.4,500.9 122.7,501.4 124.3,501.7 124.5,501.8 124.6,501.1 126.0,501.6 127.7,501.9 127.8,501.2 129.1,501.7 130.9,501.9 131.0,501.4 132.4,501.8 134.1,502.0 134.2,501.5 135.5,501.8 137.1,502.1 137.4,502.1 137.4,501.6 138.8,501.9 140.6,502.1 140.6,501.7 142.0,502.0 143.8,502.2 143.8,501.8 145.3,502.0 147.0,502.2 147.0,501.8 148.4,502.1 150.2,502.2 150.3,501.9 151.6,502.1 153.4,502.2 153.5,501.9 154.9,502.1 156.6,502.2 156.7,501.9 158.1,502.1 159.8,502.2 159.9,501.9 161.3,502.1 163.1,502.2 163.1,502.0 164.5,502.1 166.3,502.3 166.3,502.0 167.7,502.2 169.5,502.3 169.5,502.0 171.0,502.2 172.7,502.3 172.7,502.0 174.2,502.2 175.9,502.3 176.0,502.0 177.4,502.2 179.1,502.3 179.2,502.0 179.8,502.1"/>
<polyline stroke="#8c564b" stroke-width="1.15" stroke-opacity="0.85" points="24.9,474.5 25.0,474.5 25.0,474.5 25.7,475.2 26.3,475.6 27.1,475.8 28.2,476.0 28.2,442.7 28.8,444.6 29.1,445.3 29.5,445.9 29.9,446.4 30.3,446.8 30.8,447.1 31.4,447.3 31.4,413.3 32.0,416.7 32.3,418.0 32.7,419.1 33.1,420.1 33.5,420.8 34.0,421.3 34.6,421.7 34.6,395.4 35.2,402.2 35.9,406.8 36.2,408.6 36.6,410.1 37.1,411.2 37.6,412.1 37.8,412.4 37.9,400.1 38.2,405.3 38.5,409.9 39.0,413.8 39.4,416.9 40.0,419.4 40.6,421.0 41.0,421.7 41.1,420.2 41.4,422.8 41.7,425.2 42.1,426.9 42.5,428.3 42.9,429.3 43.3,430.0 43.7,430.6 44.3,431.1 44.9,437.3 45.2,439.6 45.5,441.7 46.0,443.5 46.4,444.7 46.9,445.7 47.4,446.5 47.6,450.9 48.1,456.8 48.5,461.0 48.9,464.0 49.3,466.0 49.6,467.4 50.1,468.6 50.6,469.8 50.8,471.0 51.4,473.3 51.9,474.4 52.4,475.4 53.1,476.1 53.9,476.7 53.9,477.1 54.1,477.5 54.4,478.2 54.8,478.7 55.2,479.2 55.8,479.6 56.3,479.9 57.0,480.2 57.0,482.4 57.1,482.5 57.1,476.1 57.8,478.7 58.6,481.3 59.4,483.2 60.3,485.0 60.3,477.4 60.9,480.2 61.5,482.7 62.3,484.9 63.1,486.6 63.5,487.4 63.5,480.9 64.2,483.7 65.0,486.0 65.8,488.1 66.7,489.7 66.8,483.4 67.4,486.0 68.2,488.1 69.0,489.9 69.5,490.8 69.9,491.2 70.0,485.3 70.6,487.3 71.3,489.2 72.2,490.7 73.1,492.0 73.2,486.1 73.9,488.4 74.6,490.3 75.4,491.9 76.3,493.2 76.4,487.3 77.0,489.4 77.8,491.2 78.6,492.8 79.6,494.0 79.6,488.5 80.3,490.6 81.0,492.3 81.9,493.8 82.8,495.0 82.8,489.4 83.5,491.6 84.2,493.3 85.0,494.6 86.0,495.8 86.0,490.5 86.6,492.2 87.3,493.8 88.0,495.0 88.9,496.0 89.2,496.3 89.2,491.5 89.9,493.2 90.6,494.6 91.4,495.9 92.4,496.8 92.4,492.3 93.1,493.9 93.8,495.2 94.7,496.4 95.6,497.2 95.7,493.0 96.3,494.6 97.1,495.8 97.9,496.8 98.8,497.6 98.9,493.7 99.5,495.0 100.2,496.2 100.9,497.0 101.8,497.8 102.0,497.9 102.1,494.3 102.8,495.6 103.5,496.7 104.3,497.6 105.2,498.3 105.3,494.8 106.0,496.1 106.7,497.1 107.5,497.9 108.5,498.6 108.5,495.3 109.1,496.5 109.8,497.3 110.6,498.1 111.4,498.6 111.7,498.8 111.7,495.8 112.4,496.9 113.1,497.8 113.9,498.5 114.9,499.0 114.9,496.3 115.6,497.3 116.4,498.1 117.1,498.7 118.1,499.2 118.1,496.7 118.8,497.6 119.5,498.3 120.4,498.9 121.3,499.3 121.4,497.1 122.0,497.9 122.7,498.5 123.6,499.1 124.5,499.5 124.6,497.4 125.3,498.2 126.0,498.8 126.8,499.3 127.7,499.6 127.8,497.8 128.4,498.4 129.1,499.0 130.0,499.4 130.9,499.7 131.0,498.1 131.6,498.7 132.4,499.1 133.2,499.5 134.1,499.8 134.2,498.4 134.8,498.9 135.6,499.3 136.4,499.6 137.4,499.8 137.4,498.6 138.1,499.1 138.8,499.4 139.7,499.7 140.6,499.9 140.6,498.9 141.3,499.2 142.0,499.5 142.8,499.8 143.8,499.9 143.8,499.1 144.5,499.4 145.2,499.6 147.0,500.0 147.0,499.3 148.4,499.7 150.2,500.0 150.3,499.4 151.5,499.8 153.4,500.0 153.5,499.5 154.9,499.8 156.6,500.0 156.7,499.6 158.1,499.8 159.8,500.0 159.9,499.6 161.3,499.9 163.1,500.0 163.1,499.6 164.5,499.9 166.3,500.0 166.3,499.7 167.7,499.9 169.5,500.1 169.5,499.7 170.9,499.9 172.7,500.1 172.7,499.7 174.1,499.9 175.9,500.1 176.0,499.8 177.3,500.0 179.1,500.1 179.2,499.8 179.8,499.9"/>
</g>
<rect x="24.90" y="390.50" width="162.60" height="121.50" fill="none" stroke="#222" stroke-width="0.65"/>
<path d="M24.90,512.00v1.40M45.96,512.00v1.40M67.02,512.00v1.40M88.08,512.00v1.40M109.14,512.00v1.40M130.20,512.00v1.40M151.26,512.00v1.40M172.32,512.00v1.40M24.90,507.00h-1.40M24.90,492.60h-1.40M24.90,478.20h-1.40M24.90,463.80h-1.40M24.90,449.40h-1.40M24.90,435.00h-1.40M24.90,420.60h-1.40M24.90,406.20h-1.40M24.90,391.80h-1.40M54.15,390.50v-1.40M86.80,390.50v-1.40M119.45,390.50v-1.40M152.10,390.50v-1.40M184.75,390.50v-1.40" stroke="#222" stroke-width="0.4" fill="none"/>
<rect x="144.50" y="392.30" width="41.00" height="42.30" rx="0.8" fill="#fff" fill-opacity="0.8" stroke="#ccc" stroke-width="0.4"/>
<path d="M146.60,396.60H155.50" stroke="#1f77b4" stroke-width="0.80" stroke-opacity="1.00"/>
<path d="M146.60,403.50H155.50" stroke="#ff7f0e" stroke-width="0.80" stroke-opacity="1.00"/>
<path d="M146.60,410.40H155.50" stroke="#2ca02c" stroke-width="0.80" stroke-opacity="1.00"/>
<path d="M146.60,417.30H155.50" stroke="#d62728" stroke-width="1.15" stroke-opacity="0.62"/>
<path d="M146.60,424.30H155.50" stroke="#9467bd" stroke-width="1.15" stroke-opacity="0.62"/>
<path d="M146.60,431.20H155.50" stroke="#8c564b" stroke-width="1.15" stroke-opacity="0.62"/>
<text transform="translate(15.30,451.45) rotate(-90)" font-family="'Liberation Serif',serif" font-size="8.95" text-anchor="middle" fill="#111" stroke="#111" stroke-width="0.16">Loss</text>
<clipPath id="cf"><rect x="245.20" y="390.50" width="162.90" height="121.40"/></clipPath>
<g clip-path="url(#cf)" fill="none" stroke-linejoin="round" stroke-linecap="butt">
<polyline stroke="#1f77b4" stroke-width="0.48" stroke-opacity="1.00" points="245.2,476.1 245.3,476.2 245.3,476.1 246.0,477.1 246.6,477.7 247.4,478.1 248.5,478.4 248.5,448.2 249.1,450.7 249.4,451.6 249.8,452.5 250.2,453.2 250.6,453.7 251.1,454.1 251.7,454.4 251.7,417.3 252.3,420.4 252.6,421.5 253.0,422.6 253.4,423.5 253.8,424.1 254.3,424.6 254.9,425.0 254.9,406.4 255.4,411.7 255.8,415.8 256.4,418.9 257.0,421.3 257.5,422.5 258.1,423.4 258.1,415.7 258.7,423.7 259.3,429.2 259.7,431.3 260.1,432.9 260.5,434.2 261.0,435.3 263.7,452.9 264.6,459.3 266.0,467.5 267.1,476.1 267.6,477.5 268.2,482.0 269.0,484.6 269.6,488.1 270.3,491.6 270.9,495.3 271.8,498.3 272.6,500.0 273.6,501.2 276.8,503.2 278.9,503.7 283.3,504.7 298.4,505.7 319.2,506.1 333.6,506.4 400.0,506.4"/>
<polyline stroke="#ff7f0e" stroke-width="0.80" stroke-opacity="1.00" points="245.2,476.1 245.3,476.2 245.3,476.1 246.0,477.1 246.6,477.7 247.4,478.1 248.5,478.4 248.5,448.2 249.1,450.7 249.4,451.6 249.8,452.5 250.2,453.2 250.6,453.7 251.1,454.1 251.7,454.4 251.7,417.3 252.3,420.4 252.6,421.5 253.0,422.6 253.4,423.5 253.8,424.1 254.3,424.6 254.9,425.0 254.9,406.4 255.4,411.7 255.8,415.8 256.4,418.9 257.0,421.3 257.5,422.5 258.1,423.4 258.1,415.7 258.7,423.7 259.3,429.2 259.7,431.3 260.1,432.9 260.5,434.2 261.0,435.3 263.7,452.9 264.6,459.3 266.0,467.5 267.1,476.1 267.6,477.5 268.2,482.0 269.0,484.6 269.6,488.1 270.3,491.6 270.9,495.3 271.8,498.3 272.6,500.0 273.6,501.2 276.8,503.2 278.9,503.7 283.3,504.7 298.4,505.7 319.2,506.1 333.6,506.4 400.0,506.4"/>
<polyline stroke="#2ca02c" stroke-width="0.80" stroke-opacity="1.00" points="270.9,469.9 271.1,471.4 272.4,475.8 274.2,481.1 274.7,482.1 275.1,483.5 275.2,483.4 275.3,484.0 275.4,483.9 275.4,484.1 275.6,484.3 276.0,485.8 276.1,486.4 276.2,486.4 276.3,486.2 276.4,486.4 276.5,487.0 276.7,487.1 276.8,487.1 276.9,487.3 277.0,488.0 277.1,487.9 277.2,488.1 277.2,488.0 277.4,488.8 277.7,488.3 277.9,489.5 278.0,488.8 278.1,488.9 278.1,488.8 278.2,488.8 278.3,489.8 278.4,489.9 278.4,490.8 278.5,490.3 278.6,490.6 278.7,489.7 278.8,489.8 278.8,489.7 278.9,490.5 279.1,490.9 279.1,490.7 279.2,490.8 279.2,491.6 279.3,491.4 279.3,491.8 279.4,491.5 279.4,491.7 279.5,490.8 279.5,490.8 279.7,490.6 279.8,490.8 279.8,491.2 279.9,491.2 280.1,493.8 280.3,492.9 280.4,492.9 280.4,492.9 280.5,493.1 280.5,492.7 280.7,492.4 280.7,492.8 280.8,493.1 280.9,493.8 280.9,493.3 281.0,493.5 281.2,495.5 281.2,494.9 281.3,495.2 281.4,493.9 281.5,494.2 281.6,493.7 281.7,494.3 281.7,494.0 281.8,494.1 281.9,492.4 282.1,493.0 282.1,493.7 282.2,493.6 282.2,494.5 282.3,494.4 282.3,494.7 282.4,494.5 282.4,495.3 282.5,495.3 282.6,495.3 282.7,495.8 282.8,494.2 282.9,495.1 283.0,494.3 283.1,495.8 283.1,495.9 283.2,495.5 283.2,496.1 283.3,495.0 283.3,495.1 283.4,495.1 283.4,495.2 283.5,495.0 283.5,495.7 283.7,494.9 283.8,495.5 283.8,495.6 283.9,495.5 283.9,495.6 284.1,496.5 284.2,496.5 284.2,496.7 284.3,496.6 284.4,497.1 284.6,497.3 284.6,497.8 284.8,497.0 284.8,496.7 284.9,496.7 285.0,496.9 285.1,497.8 285.2,497.3 285.3,497.4 285.3,497.3 285.4,497.3 285.5,498.1 285.6,497.5 285.6,497.7 285.7,497.7 285.8,497.6 285.9,498.3 286.0,498.2 286.1,498.4 286.2,498.4 286.3,498.6 286.4,498.6 286.4,498.7 286.5,498.6 286.8,499.1 286.8,499.0 286.9,499.1 287.0,499.1 287.1,499.2 287.1,499.1 287.2,499.5 287.3,499.5 287.4,499.7 287.5,499.5 287.6,499.5 288.0,500.1 288.1,500.1 288.2,500.2 288.2,500.2 288.3,500.3 288.5,500.5 288.8,500.5 288.8,500.5 289.1,500.7 289.2,500.7 289.6,501.1 289.9,501.2 291.5,502.1 295.7,503.6 299.9,504.5 306.0,505.1 308.3,505.4 311.6,505.5 318.8,505.9 321.3,506.0 333.6,506.3 400.0,506.3"/>
<polyline stroke="#d62728" stroke-width="1.15" stroke-opacity="0.85" points="245.2,474.5 245.3,474.6 245.3,474.5 246.0,475.2 246.6,475.6 247.4,475.9 248.5,476.1 248.5,442.8 249.1,444.6 249.4,445.4 249.8,446.0 250.2,446.5 250.6,446.9 251.1,447.2 251.7,447.4 251.7,413.4 252.3,416.8 252.6,418.1 253.0,419.2 253.4,420.2 253.8,420.9 254.3,421.4 254.9,421.9 254.9,395.6 255.5,402.4 256.1,407.0 256.5,408.8 256.9,410.3 257.4,411.4 257.9,412.3 258.1,412.6 258.1,400.3 258.5,405.5 258.8,410.1 259.2,414.0 259.7,416.7 260.2,419.3 260.9,421.1 261.3,421.8 261.3,420.4 261.7,423.0 262.0,425.3 262.4,427.0 262.8,428.5 263.2,429.4 263.6,430.2 264.0,430.7 264.6,431.2 265.1,437.4 265.5,439.7 265.8,441.8 266.2,443.6 266.7,444.8 267.1,445.8 267.7,446.6 267.9,451.0 268.3,456.9 268.8,461.1 269.2,464.1 269.6,466.0 269.9,467.5 270.3,468.5 270.9,470.0 271.0,470.8 271.1,471.4 272.6,476.0 274.2,480.2 277.2,486.6 277.3,486.9 277.4,486.5 278.9,489.4 280.1,491.4 280.5,491.8 280.6,491.5 281.7,493.1 283.2,495.0 283.8,495.6 283.8,495.2 284.5,496.1 285.4,497.1 287.0,498.6 287.0,498.3 288.1,499.6 290.2,500.9 290.2,500.6 290.9,501.2 291.6,501.7 293.4,502.4 293.4,502.1 294.5,502.7 296.0,503.3 296.6,503.5 296.6,503.1 297.2,503.4 297.8,503.7 299.8,504.2 299.9,503.9 300.7,504.2 302.1,504.5 303.0,504.6 303.1,504.3 303.8,504.6 305.0,504.8 306.2,504.9 306.3,504.6 306.8,504.8 307.5,505.0 309.4,505.2 309.5,504.9 310.3,505.2 311.6,505.3 312.6,505.4 312.7,505.1 313.4,505.3 314.4,505.5 315.8,505.6 315.9,505.3 317.0,505.5 318.8,505.7 319.1,505.7 319.1,505.5 320.2,505.7 321.9,505.8 322.3,505.8 322.3,505.6 323.3,505.8 324.9,505.9 325.5,505.9 325.5,505.7 326.4,505.9 327.9,506.0 328.7,506.0 328.7,505.8 329.4,505.9 330.5,506.0 331.9,506.1 331.9,505.9 333.1,506.0 334.8,506.1 335.1,506.1 335.1,505.9 336.3,506.1 338.3,506.1 338.4,505.9 339.5,506.1 341.5,506.1 341.6,505.9 342.7,506.1 344.7,506.1 344.8,505.9 345.9,506.1 347.9,506.1 348.0,505.9 349.1,506.1 351.1,506.1 351.2,505.9 352.3,506.1 354.3,506.1 354.4,505.9 355.6,506.1 357.6,506.1 357.6,505.9 358.8,506.1 360.8,506.1 360.8,505.9 362.0,506.1 364.0,506.1 364.0,505.9 365.2,506.1 367.2,506.1 367.2,505.9 368.4,506.1 370.4,506.2 370.4,505.9 371.6,506.1 373.6,506.2 373.6,506.0 374.8,506.1 376.8,506.2 376.9,506.0 378.0,506.1 380.0,506.2 380.1,506.0 381.2,506.1 383.2,506.2 383.3,506.0 384.4,506.1 386.3,506.2 386.4,506.2 386.5,506.0 387.5,506.1 389.3,506.2 389.6,506.2 389.7,506.0 390.7,506.1 392.3,506.2 392.8,506.2 392.9,506.0 393.8,506.1 395.2,506.2 396.1,506.2 396.1,506.0 396.8,506.1 397.9,506.2 399.3,506.2 399.3,506.0 400.0,506.1"/>
<polyline stroke="#9467bd" stroke-width="1.15" stroke-opacity="0.85" points="273.8,477.0 274.1,477.4 274.2,477.9 274.4,478.7 275.3,480.4 276.1,481.7 277.2,482.9 277.3,487.8 277.3,487.9 277.4,483.4 278.1,485.8 278.9,488.1 279.8,490.2 280.3,491.1 280.5,491.5 280.6,487.0 281.3,489.1 282.0,491.0 282.9,492.5 283.8,493.8 283.8,490.1 284.5,491.7 285.2,493.2 286.1,494.6 287.0,495.6 287.0,491.7 287.6,493.1 288.3,494.4 289.0,495.4 289.8,496.3 290.2,496.6 290.2,493.4 290.9,494.7 291.6,495.8 292.5,496.7 293.4,497.3 293.4,494.5 294.1,495.6 294.8,496.5 295.6,497.3 296.6,498.0 296.6,495.5 297.3,496.5 298.1,497.3 298.9,498.0 299.8,498.6 299.9,496.3 300.5,497.2 301.3,498.0 302.1,498.7 303.0,499.2 303.1,497.1 303.7,497.9 304.4,498.6 305.3,499.1 306.2,499.6 306.3,497.7 306.9,498.4 307.6,499.0 308.5,499.5 309.4,499.9 309.5,498.2 310.1,498.8 310.8,499.4 311.7,499.9 312.6,500.3 312.7,498.7 313.3,499.2 313.9,499.7 314.7,500.1 315.5,500.4 315.8,500.6 315.9,499.2 316.6,499.7 317.3,500.2 318.1,500.5 319.1,500.8 319.1,499.5 319.7,500.0 320.5,500.4 321.3,500.8 322.3,501.1 322.3,499.9 322.9,500.3 323.7,500.7 324.5,501.0 325.5,501.3 325.5,500.2 326.2,500.6 326.9,501.0 327.7,501.3 328.7,501.5 328.7,500.6 329.4,500.9 330.1,501.3 331.9,501.8 331.9,500.9 333.3,501.5 334.7,501.9 335.1,501.9 335.1,501.1 336.6,501.7 338.3,502.1 338.4,501.3 339.7,501.8 341.5,502.2 341.6,501.5 342.9,502.0 344.5,502.3 344.7,502.3 344.8,501.7 346.2,502.1 347.9,502.4 348.0,501.8 349.3,502.2 351.1,502.4 351.2,501.9 352.6,502.3 354.3,502.5 354.4,502.0 355.7,502.3 357.3,502.6 357.6,502.6 357.6,502.1 359.0,502.4 360.8,502.6 360.8,502.2 362.2,502.5 364.0,502.7 364.0,502.3 365.4,502.5 367.2,502.7 367.2,502.3 368.6,502.6 370.4,502.7 370.4,502.4 371.8,502.6 373.6,502.7 373.6,502.4 375.1,502.6 376.8,502.7 376.9,502.4 378.3,502.6 380.0,502.7 380.1,502.5 381.5,502.6 383.2,502.7 383.3,502.5 384.7,502.6 386.4,502.8 386.5,502.5 387.9,502.7 389.6,502.8 389.7,502.5 391.1,502.7 392.8,502.8 392.9,502.5 394.3,502.7 396.1,502.8 396.1,502.6 397.5,502.7 399.3,502.8 399.3,502.6 400.0,502.6"/>
<polyline stroke="#8c564b" stroke-width="1.15" stroke-opacity="0.85" points="245.2,474.5 245.3,474.6 245.3,474.5 246.0,475.2 246.6,475.6 247.4,475.9 248.5,476.1 248.5,442.8 249.1,444.6 249.4,445.4 249.8,446.0 250.2,446.5 250.6,446.9 251.1,447.2 251.7,447.4 251.7,413.4 252.3,416.8 252.6,418.1 253.0,419.2 253.4,420.2 253.8,420.9 254.3,421.4 254.9,421.9 254.9,395.6 255.5,402.4 256.1,407.0 256.5,408.8 256.9,410.3 257.4,411.4 257.9,412.3 258.1,412.6 258.1,400.3 258.5,406.2 258.9,410.6 259.3,414.4 259.8,417.6 260.4,419.8 260.7,420.7 261.1,421.5 261.3,421.8 261.3,420.4 261.7,423.0 262.0,425.3 262.4,427.0 262.8,428.5 263.2,429.4 263.6,430.2 264.0,430.7 264.6,431.2 265.1,437.4 265.5,439.7 265.8,441.8 266.2,443.6 266.7,444.8 267.1,445.8 267.7,446.6 268.1,453.4 268.6,459.7 269.2,464.1 269.5,465.8 269.9,467.3 270.3,468.5 270.9,470.0 271.0,470.8 271.6,473.4 272.0,474.5 272.4,475.4 273.2,476.4 274.1,477.2 274.2,477.7 274.4,478.3 274.9,479.1 275.3,479.7 276.1,480.5 277.2,481.1 277.3,483.3 277.3,483.4 277.4,477.2 278.1,479.8 278.9,482.4 279.7,484.2 280.5,486.0 280.6,478.7 281.2,481.6 281.9,483.9 282.5,485.9 283.3,487.6 283.8,488.3 283.8,482.2 284.5,484.8 285.2,487.0 286.1,489.0 287.0,490.6 287.0,484.6 287.7,487.1 288.4,489.1 289.3,490.8 289.8,491.6 290.2,492.1 290.2,486.5 290.9,488.4 291.6,490.2 292.4,491.7 293.4,492.9 293.4,487.3 294.1,489.5 294.9,491.3 295.7,492.9 296.6,494.1 296.6,488.5 297.3,490.5 298.0,492.3 298.9,493.7 299.8,494.9 299.9,489.7 300.5,491.7 301.3,493.4 302.1,494.8 303.0,495.9 303.1,490.7 303.7,492.7 304.5,494.3 305.3,495.5 306.2,496.6 306.3,491.7 306.9,493.5 307.6,495.0 308.5,496.2 309.4,497.1 309.5,492.7 310.1,494.3 310.8,495.7 311.7,496.8 312.6,497.7 312.7,493.5 313.3,494.9 313.9,496.1 314.7,497.0 315.5,497.8 315.8,498.1 315.9,494.3 316.6,495.7 317.3,496.8 318.1,497.7 319.1,498.5 319.1,494.9 319.7,496.1 320.5,497.2 321.3,498.1 322.3,498.8 322.3,495.5 323.0,496.7 323.7,497.7 324.5,498.5 325.5,499.2 325.5,496.0 326.2,497.1 326.8,498.0 327.5,498.7 328.4,499.3 328.7,499.4 328.7,496.6 329.4,497.6 330.1,498.4 330.9,499.1 331.9,499.7 331.9,497.0 332.6,498.0 333.4,498.8 334.1,499.4 335.1,499.9 335.1,497.5 335.8,498.4 336.6,499.1 337.4,499.6 338.3,500.1 338.4,497.9 339.0,498.6 339.7,499.3 340.6,499.8 341.5,500.2 341.6,498.2 342.2,498.9 342.9,499.5 343.8,500.0 344.7,500.3 344.8,498.5 345.5,499.2 346.2,499.7 347.0,500.1 347.9,500.4 348.0,498.8 348.6,499.4 349.3,499.9 350.2,500.2 351.1,500.5 351.2,499.1 351.8,499.6 352.6,500.0 353.4,500.3 354.3,500.6 354.4,499.4 355.0,499.8 355.8,500.1 356.6,500.4 357.6,500.7 357.6,499.6 358.3,500.0 359.0,500.3 359.9,500.5 360.8,500.7 360.8,499.8 361.4,500.1 362.2,500.4 364.0,500.7 364.0,500.0 365.4,500.5 367.2,500.8 367.2,500.2 368.6,500.6 370.4,500.8 370.4,500.3 371.7,500.6 373.6,500.8 373.6,500.4 375.1,500.7 376.8,500.8 376.9,500.4 378.3,500.7 380.0,500.8 380.1,500.5 381.5,500.7 383.2,500.9 383.3,500.5 384.7,500.7 386.4,500.9 386.5,500.5 387.9,500.8 389.6,500.9 389.7,500.6 391.1,500.8 392.8,500.9 392.9,500.6 394.3,500.8 396.1,500.9 396.1,500.6 397.5,500.8 399.3,500.9 399.3,500.7 400.0,500.8"/>
</g>
<rect x="245.20" y="390.50" width="162.90" height="121.40" fill="none" stroke="#222" stroke-width="0.65"/>
<path d="M245.20,511.90v1.40M266.24,511.90v1.40M287.28,511.90v1.40M308.32,511.90v1.40M329.36,511.90v1.40M350.40,511.90v1.40M371.44,511.90v1.40M392.48,511.90v1.40M245.20,507.00h-1.40M245.20,480.00h-1.40M245.20,453.00h-1.40M245.20,426.00h-1.40M245.20,399.00h-1.40M274.15,390.50v-1.40M306.80,390.50v-1.40M339.45,390.50v-1.40M372.10,390.50v-1.40M404.75,390.50v-1.40" stroke="#222" stroke-width="0.4" fill="none"/>
<rect x="363.80" y="392.40" width="42.60" height="42.60" rx="0.8" fill="#fff" fill-opacity="0.8" stroke="#ccc" stroke-width="0.4"/>
<path d="M366.00,396.60H375.90" stroke="#1f77b4" stroke-width="0.80" stroke-opacity="1.00"/>
<path d="M366.00,403.50H375.90" stroke="#ff7f0e" stroke-width="0.80" stroke-opacity="1.00"/>
<path d="M366.00,410.40H375.90" stroke="#2ca02c" stroke-width="0.80" stroke-opacity="1.00"/>
<path d="M366.00,417.30H375.90" stroke="#d62728" stroke-width="1.15" stroke-opacity="0.62"/>
<path d="M366.00,424.30H375.90" stroke="#9467bd" stroke-width="1.15" stroke-opacity="0.62"/>
<path d="M366.00,431.20H375.90" stroke="#8c564b" stroke-width="1.15" stroke-opacity="0.62"/>
<text transform="translate(235.60,451.40) rotate(-90)" font-family="'Liberation Serif',serif" font-size="8.95" text-anchor="middle" fill="#111" stroke="#111" stroke-width="0.16">Loss</text>
</svg>
<div class="ov">
<svg width="4160" height="5500" viewBox="0 0 4160 5500" font-family="'Liberation Serif',serif" fill="#111" stroke="#111" stroke-width="1.6">
<text x="1063.5" y="118.0" font-size="92" text-anchor="middle" textLength="339" lengthAdjust="spacingAndGlyphs">Iterations</text>
<text x="1066.5" y="1585.5" font-size="88" text-anchor="middle" textLength="228" lengthAdjust="spacingAndGlyphs">Epoch</text>
<text x="658.0" y="1731.0" font-size="106" font-weight="bold" textLength="111.0" lengthAdjust="spacingAndGlyphs">(a)</text>
<text x="799.0" y="1731.0" font-size="90" textLength="645.0" lengthAdjust="spacingAndGlyphs">Loss of LeNet300</text>
<text x="3266.5" y="118.0" font-size="92" text-anchor="middle" textLength="339" lengthAdjust="spacingAndGlyphs">Iterations</text>
<text x="3269.5" y="1583.5" font-size="88" text-anchor="middle" textLength="228" lengthAdjust="spacingAndGlyphs">Epoch</text>
<text x="2887.0" y="1731.0" font-size="106" font-weight="bold" textLength="134.0" lengthAdjust="spacingAndGlyphs">(b)</text>
<text x="3046.0" y="1731.0" font-size="90" textLength="571.0" lengthAdjust="spacingAndGlyphs">Loss of LeNet5</text>
<text x="1062.5" y="1964.0" font-size="92" text-anchor="middle" textLength="339" lengthAdjust="spacingAndGlyphs">Iterations</text>
<text x="1065.5" y="3428.5" font-size="88" text-anchor="middle" textLength="228" lengthAdjust="spacingAndGlyphs">Epoch</text>
<text x="700.0" y="3580.0" font-size="106" font-weight="bold" textLength="112.5" lengthAdjust="spacingAndGlyphs">(c)</text>
<text x="842.5" y="3580.0" font-size="90" textLength="557.5" lengthAdjust="spacingAndGlyphs">Loss of VGG16</text>
<text x="3266.8" y="1963.0" font-size="92" text-anchor="middle" textLength="339" lengthAdjust="spacingAndGlyphs">Iterations</text>
<text x="3269.8" y="3429.5" font-size="88" text-anchor="middle" textLength="228" lengthAdjust="spacingAndGlyphs">Epoch</text>
<text x="2855.0" y="3580.0" font-size="106" font-weight="bold" textLength="125.0" lengthAdjust="spacingAndGlyphs">(d)</text>
<text x="3012.5" y="3580.0" font-size="90" textLength="642.5" lengthAdjust="spacingAndGlyphs">Loss of ResNet20</text>
<text x="1062.0" y="3809.0" font-size="92" text-anchor="middle" textLength="339" lengthAdjust="spacingAndGlyphs">Iterations</text>
<text x="1065.0" y="5277.5" font-size="88" text-anchor="middle" textLength="228" lengthAdjust="spacingAndGlyphs">Epoch</text>
<text x="655.0" y="5422.5" font-size="106" font-weight="bold" textLength="115.0" lengthAdjust="spacingAndGlyphs">(e)</text>
<text x="805.0" y="5422.5" font-size="90" textLength="640.0" lengthAdjust="spacingAndGlyphs">Loss of ResNet32</text>
<text x="3266.5" y="3809.0" font-size="92" text-anchor="middle" textLength="339" lengthAdjust="spacingAndGlyphs">Iterations</text>
<text x="3269.5" y="5276.5" font-size="88" text-anchor="middle" textLength="228" lengthAdjust="spacingAndGlyphs">Epoch</text>
<text x="2862.5" y="5422.5" font-size="106" font-weight="bold" textLength="105.0" lengthAdjust="spacingAndGlyphs">(f)</text>
<text x="3000.0" y="5422.5" font-size="90" textLength="642.5" lengthAdjust="spacingAndGlyphs">Loss of ResNet56</text>
</svg>
<span class="t m" style="left:250.0px;top:1458.8px">0</span>
<span class="t m" style="left:607.2px;top:1458.8px">200</span>
<span class="t m" style="left:964.4px;top:1458.8px">400</span>
<span class="t m" style="left:1321.6px;top:1458.8px">600</span>
<span class="t m" style="left:1678.8px;top:1458.8px">800</span>
<span class="t m" style="left:250.0px;top:137.8px">0</span>
<span class="t m" style="left:512.0px;top:137.8px">5</span>
<span class="t m" style="left:774.0px;top:137.8px">10</span>
<span class="t m" style="left:1036.0px;top:137.8px">15</span>
<span class="t m" style="left:1298.0px;top:137.8px">20</span>
<span class="t m" style="left:1560.0px;top:137.8px">25</span>
<span class="t m" style="left:1822.0px;top:137.8px">30</span>
<span class="t r" style="left:217.0px;top:1350.8px">0.0</span>
<span class="t r" style="left:217.0px;top:1134.8px">0.2</span>
<span class="t r" style="left:217.0px;top:918.8px">0.4</span>
<span class="t r" style="left:217.0px;top:702.8px">0.6</span>
<span class="t r" style="left:217.0px;top:486.8px">0.8</span>
<span class="t r" style="left:217.0px;top:270.8px">1.0</span>
<span class="l" style="left:1619.0px;top:252.1px">λ=2CUR</span>
<span class="l" style="left:1619.0px;top:321.1px">λ=2TSVD</span>
<span class="l" style="left:1619.0px;top:390.6px">λ=3CUR</span>
<span class="l" style="left:1619.0px;top:459.1px">λ=3TSVD</span>
<span class="l" style="left:1619.0px;top:528.1px">λ=4CUR</span>
<span class="l" style="left:1619.0px;top:598.1px">λ=4TSVD</span>
<span class="t m" style="left:2453.0px;top:1456.8px">0</span>
<span class="t m" style="left:2713.8px;top:1456.8px">500</span>
<span class="t m" style="left:2974.5px;top:1456.8px">1000</span>
<span class="t m" style="left:3235.3px;top:1456.8px">1500</span>
<span class="t m" style="left:3496.0px;top:1456.8px">2000</span>
<span class="t m" style="left:3756.8px;top:1456.8px">2500</span>
<span class="t m" style="left:4017.5px;top:1456.8px">3000</span>
<span class="t m" style="left:2453.0px;top:137.8px">0</span>
<span class="t m" style="left:2773.0px;top:137.8px">20</span>
<span class="t m" style="left:3093.0px;top:137.8px">40</span>
<span class="t m" style="left:3413.0px;top:137.8px">60</span>
<span class="t m" style="left:3733.0px;top:137.8px">80</span>
<span class="t m" style="left:4053.0px;top:137.8px">100</span>
<span class="t r" style="left:2420.0px;top:1345.8px">0.00</span>
<span class="t r" style="left:2420.0px;top:1091.8px">0.05</span>
<span class="t r" style="left:2420.0px;top:837.8px">0.10</span>
<span class="t r" style="left:2420.0px;top:583.8px">0.15</span>
<span class="t r" style="left:2420.0px;top:329.8px">0.20</span>
<span class="l" style="left:3745.0px;top:252.1px">λ=0.11CUR</span>
<span class="l" style="left:3745.0px;top:321.1px">λ=0.11TSVD</span>
<span class="l" style="left:3745.0px;top:390.6px">λ=0.4CUR</span>
<span class="l" style="left:3745.0px;top:459.1px">λ=0.4TSVD</span>
<span class="l" style="left:3745.0px;top:528.1px">λ=2.4CUR</span>
<span class="l" style="left:3745.0px;top:598.1px">λ=2.4TSVD</span>
<span class="t m" style="left:250.0px;top:3301.8px">0</span>
<span class="t m" style="left:600.0px;top:3301.8px">200</span>
<span class="t m" style="left:950.0px;top:3301.8px">400</span>
<span class="t m" style="left:1300.0px;top:3301.8px">600</span>
<span class="t m" style="left:1650.0px;top:3301.8px">800</span>
<span class="t m" style="left:495.0px;top:1983.8px">10</span>
<span class="t m" style="left:766.0px;top:1983.8px">20</span>
<span class="t m" style="left:1037.0px;top:1983.8px">30</span>
<span class="t m" style="left:1308.0px;top:1983.8px">40</span>
<span class="t m" style="left:1579.0px;top:1983.8px">50</span>
<span class="t m" style="left:1850.0px;top:1983.8px">60</span>
<span class="t r" style="left:217.0px;top:3221.8px">0.0</span>
<span class="t r" style="left:217.0px;top:2981.8px">0.5</span>
<span class="t r" style="left:217.0px;top:2741.8px">1.0</span>
<span class="t r" style="left:217.0px;top:2501.8px">1.5</span>
<span class="t r" style="left:217.0px;top:2261.8px">2.0</span>
<span class="l" style="left:1548.0px;top:2099.1px">λ=0.05CUR</span>
<span class="l" style="left:1548.0px;top:2167.1px">λ=0.05TSVD</span>
<span class="l" style="left:1548.0px;top:2235.1px">λ=0.1CUR</span>
<span class="l" style="left:1548.0px;top:2304.1px">λ=0.1TSVD</span>
<span class="l" style="left:1548.0px;top:2372.1px">λ=0.6CUR</span>
<span class="l" style="left:1548.0px;top:2441.1px">λ=0.6TSVD</span>
<span class="t m" style="left:2452.5px;top:3302.8px">0</span>
<span class="t m" style="left:2662.9px;top:3302.8px">100</span>
<span class="t m" style="left:2873.3px;top:3302.8px">200</span>
<span class="t m" style="left:3083.7px;top:3302.8px">300</span>
<span class="t m" style="left:3294.1px;top:3302.8px">400</span>
<span class="t m" style="left:3504.5px;top:3302.8px">500</span>
<span class="t m" style="left:3714.9px;top:3302.8px">600</span>
<span class="t m" style="left:3925.3px;top:3302.8px">700</span>
<span class="t m" style="left:2746.0px;top:1982.8px">10</span>
<span class="t m" style="left:3071.0px;top:1982.8px">20</span>
<span class="t m" style="left:3396.0px;top:1982.8px">30</span>
<span class="t m" style="left:3721.0px;top:1982.8px">40</span>
<span class="t m" style="left:4046.0px;top:1982.8px">50</span>
<span class="t r" style="left:2419.5px;top:3206.8px">0</span>
<span class="t r" style="left:2419.5px;top:3051.8px">1</span>
<span class="t r" style="left:2419.5px;top:2896.8px">2</span>
<span class="t r" style="left:2419.5px;top:2741.8px">3</span>
<span class="t r" style="left:2419.5px;top:2586.8px">4</span>
<span class="t r" style="left:2419.5px;top:2431.8px">5</span>
<span class="t r" style="left:2419.5px;top:2276.8px">6</span>
<span class="t r" style="left:2419.5px;top:2121.8px">7</span>
<span class="l" style="left:3795.0px;top:2099.1px">λ=1CUR</span>
<span class="l" style="left:3795.0px;top:2167.1px">λ=1TSVD</span>
<span class="l" style="left:3795.0px;top:2235.1px">λ=4CUR</span>
<span class="l" style="left:3795.0px;top:2304.1px">λ=4TSVD</span>
<span class="l" style="left:3795.0px;top:2372.1px">λ=32CUR</span>
<span class="l" style="left:3795.0px;top:2441.1px">λ=32TSVD</span>
<span class="t m" style="left:249.0px;top:5150.8px">0</span>
<span class="t m" style="left:459.6px;top:5150.8px">100</span>
<span class="t m" style="left:670.2px;top:5150.8px">200</span>
<span class="t m" style="left:880.8px;top:5150.8px">300</span>
<span class="t m" style="left:1091.4px;top:5150.8px">400</span>
<span class="t m" style="left:1302.0px;top:5150.8px">500</span>
<span class="t m" style="left:1512.6px;top:5150.8px">600</span>
<span class="t m" style="left:1723.2px;top:5150.8px">700</span>
<span class="t m" style="left:541.5px;top:3828.8px">10</span>
<span class="t m" style="left:868.0px;top:3828.8px">20</span>
<span class="t m" style="left:1194.5px;top:3828.8px">30</span>
<span class="t m" style="left:1521.0px;top:3828.8px">40</span>
<span class="t m" style="left:1847.5px;top:3828.8px">50</span>
<span class="t r" style="left:216.0px;top:5048.8px">0</span>
<span class="t r" style="left:216.0px;top:4904.8px">1</span>
<span class="t r" style="left:216.0px;top:4760.8px">2</span>
<span class="t r" style="left:216.0px;top:4616.8px">3</span>
<span class="t r" style="left:216.0px;top:4472.8px">4</span>
<span class="t r" style="left:216.0px;top:4328.8px">5</span>
<span class="t r" style="left:216.0px;top:4184.8px">6</span>
<span class="t r" style="left:216.0px;top:4040.8px">7</span>
<span class="t r" style="left:216.0px;top:3896.8px">8</span>
<span class="l" style="left:1595.0px;top:3944.1px">λ=1CUR</span>
<span class="l" style="left:1595.0px;top:4013.1px">λ=1TSVD</span>
<span class="l" style="left:1595.0px;top:4082.1px">λ=4CUR</span>
<span class="l" style="left:1595.0px;top:4151.1px">λ=4TSVD</span>
<span class="l" style="left:1595.0px;top:4221.1px">λ=32CUR</span>
<span class="l" style="left:1595.0px;top:4290.1px">λ=32TSVD</span>
<span class="t m" style="left:2452.0px;top:5149.8px">0</span>
<span class="t m" style="left:2662.4px;top:5149.8px">100</span>
<span class="t m" style="left:2872.8px;top:5149.8px">200</span>
<span class="t m" style="left:3083.2px;top:5149.8px">300</span>
<span class="t m" style="left:3293.6px;top:5149.8px">400</span>
<span class="t m" style="left:3504.0px;top:5149.8px">500</span>
<span class="t m" style="left:3714.4px;top:5149.8px">600</span>
<span class="t m" style="left:3924.8px;top:5149.8px">700</span>
<span class="t m" style="left:2741.5px;top:3828.8px">10</span>
<span class="t m" style="left:3068.0px;top:3828.8px">20</span>
<span class="t m" style="left:3394.5px;top:3828.8px">30</span>
<span class="t m" style="left:3721.0px;top:3828.8px">40</span>
<span class="t m" style="left:4047.5px;top:3828.8px">50</span>
<span class="t r" style="left:2419.0px;top:5048.8px">0</span>
<span class="t r" style="left:2419.0px;top:4778.8px">2</span>
<span class="t r" style="left:2419.0px;top:4508.8px">4</span>
<span class="t r" style="left:2419.0px;top:4238.8px">6</span>
<span class="t r" style="left:2419.0px;top:3968.8px">8</span>
<span class="l" style="left:3795.0px;top:3944.1px">λ=1CUR</span>
<span class="l" style="left:3795.0px;top:4013.1px">λ=1TSVD</span>
<span class="l" style="left:3795.0px;top:4082.1px">λ=4CUR</span>
<span class="l" style="left:3795.0px;top:4151.1px">λ=4TSVD</span>
<span class="l" style="left:3795.0px;top:4221.1px">λ=32CUR</span>
<span class="l" style="left:3795.0px;top:4290.1px">λ=32TSVD</span>
</div>
</body></html>
